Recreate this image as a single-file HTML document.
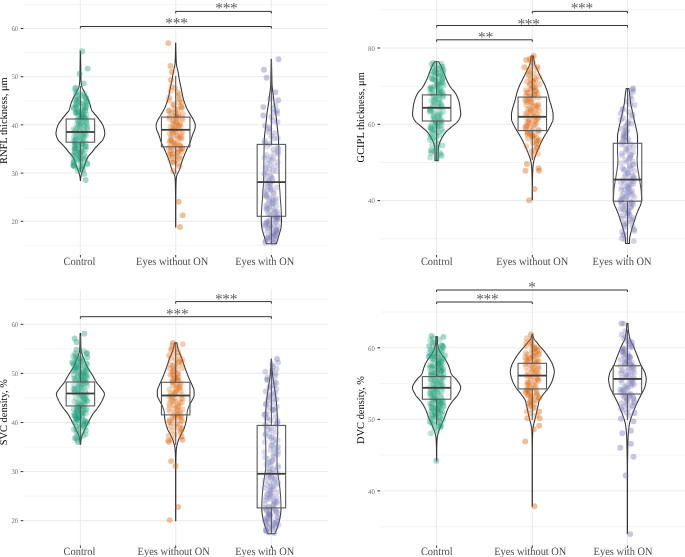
<!DOCTYPE html><html><head><meta charset="utf-8"><style>html,body{margin:0;padding:0;background:#fff;}body{width:685px;height:557px;overflow:hidden;}svg{display:block;}</style></head><body>
<svg width="685" height="557" viewBox="0 0 685 557">
<defs><filter id="soft" x="-5%" y="-5%" width="110%" height="110%"><feGaussianBlur stdDeviation="0.45"/></filter></defs>
<rect width="685" height="557" fill="#fff"/>
<line x1="23.3" y1="245.40" x2="328.6" y2="245.40" stroke="#ededed" stroke-width="0.6"/>
<line x1="23.3" y1="197.20" x2="328.6" y2="197.20" stroke="#ededed" stroke-width="0.6"/>
<line x1="23.3" y1="149.00" x2="328.6" y2="149.00" stroke="#ededed" stroke-width="0.6"/>
<line x1="23.3" y1="100.80" x2="328.6" y2="100.80" stroke="#ededed" stroke-width="0.6"/>
<line x1="23.3" y1="52.60" x2="328.6" y2="52.60" stroke="#ededed" stroke-width="0.6"/>
<line x1="23.3" y1="4.40" x2="328.6" y2="4.40" stroke="#ededed" stroke-width="0.6"/>
<line x1="23.3" y1="221.30" x2="328.6" y2="221.30" stroke="#e8e8e8" stroke-width="0.9"/>
<line x1="23.3" y1="173.10" x2="328.6" y2="173.10" stroke="#e8e8e8" stroke-width="0.9"/>
<line x1="23.3" y1="124.90" x2="328.6" y2="124.90" stroke="#e8e8e8" stroke-width="0.9"/>
<line x1="23.3" y1="76.70" x2="328.6" y2="76.70" stroke="#e8e8e8" stroke-width="0.9"/>
<line x1="23.3" y1="28.50" x2="328.6" y2="28.50" stroke="#e8e8e8" stroke-width="0.9"/>
<line x1="80.40" y1="0.0" x2="80.40" y2="255.0" stroke="#e8e8e8" stroke-width="0.9"/>
<line x1="175.70" y1="0.0" x2="175.70" y2="255.0" stroke="#e8e8e8" stroke-width="0.9"/>
<line x1="271.40" y1="0.0" x2="271.40" y2="255.0" stroke="#e8e8e8" stroke-width="0.9"/>
<line x1="20.7" y1="221.30" x2="23.3" y2="221.30" stroke="#333" stroke-width="1"/>
<text transform="translate(18.10,224.00) scale(0.960,1)" font-size="7.00" fill="#707070" text-anchor="end" text-rendering="geometricPrecision" font-family="Liberation Serif, serif">20</text>
<line x1="20.7" y1="173.10" x2="23.3" y2="173.10" stroke="#333" stroke-width="1"/>
<text transform="translate(18.10,175.80) scale(0.960,1)" font-size="7.00" fill="#707070" text-anchor="end" text-rendering="geometricPrecision" font-family="Liberation Serif, serif">30</text>
<line x1="20.7" y1="124.90" x2="23.3" y2="124.90" stroke="#333" stroke-width="1"/>
<text transform="translate(18.10,127.60) scale(0.960,1)" font-size="7.00" fill="#707070" text-anchor="end" text-rendering="geometricPrecision" font-family="Liberation Serif, serif">40</text>
<line x1="20.7" y1="76.70" x2="23.3" y2="76.70" stroke="#333" stroke-width="1"/>
<text transform="translate(18.10,79.40) scale(0.960,1)" font-size="7.00" fill="#707070" text-anchor="end" text-rendering="geometricPrecision" font-family="Liberation Serif, serif">50</text>
<line x1="20.7" y1="28.50" x2="23.3" y2="28.50" stroke="#333" stroke-width="1"/>
<text transform="translate(18.10,31.20) scale(0.960,1)" font-size="7.00" fill="#707070" text-anchor="end" text-rendering="geometricPrecision" font-family="Liberation Serif, serif">60</text>
<line x1="80.40" y1="255.0" x2="80.40" y2="257.4" stroke="#333" stroke-width="1"/>
<text transform="translate(79.50,265.10) scale(0.930,1)" font-size="11.20" fill="#4d4d4d" text-anchor="middle" text-rendering="geometricPrecision" font-family="Liberation Serif, serif">Control</text>
<line x1="175.70" y1="255.0" x2="175.70" y2="257.4" stroke="#333" stroke-width="1"/>
<text transform="translate(172.20,265.10) scale(0.930,1)" font-size="11.20" fill="#4d4d4d" text-anchor="middle" text-rendering="geometricPrecision" font-family="Liberation Serif, serif">Eyes without ON</text>
<line x1="271.40" y1="255.0" x2="271.40" y2="257.4" stroke="#333" stroke-width="1"/>
<text transform="translate(264.70,265.10) scale(0.930,1)" font-size="11.20" fill="#4d4d4d" text-anchor="middle" text-rendering="geometricPrecision" font-family="Liberation Serif, serif">Eyes with ON</text>
<text transform="translate(7.4,120.6) rotate(-90)" font-size="10.45" fill="#000" text-anchor="middle" text-rendering="geometricPrecision" font-family="Liberation Serif, serif">RNFL thickness, μm</text>
<path d="M80.30,51.30 L80.29,51.80 L80.29,52.30 L80.28,52.80 L80.27,53.30 L80.26,53.79 L80.26,54.29 L80.25,54.79 L80.24,55.29 L80.23,55.79 L80.23,56.29 L80.22,56.79 L80.21,57.29 L80.20,57.78 L80.19,58.28 L80.19,58.78 L80.18,59.28 L80.17,59.78 L80.16,60.28 L80.15,60.78 L80.15,61.28 L80.14,61.78 L80.13,62.27 L80.12,62.77 L80.11,63.27 L80.10,63.77 L80.10,64.27 L80.09,64.77 L80.08,65.27 L80.07,65.77 L80.06,66.27 L80.06,66.76 L80.05,67.26 L80.04,67.76 L80.04,68.26 L80.03,68.76 L80.02,69.26 L80.02,69.76 L80.01,70.26 L80.00,70.75 L79.99,71.25 L79.99,71.75 L79.98,72.25 L79.97,72.75 L79.96,73.25 L79.95,73.75 L79.95,74.25 L79.94,74.75 L79.93,75.24 L79.92,75.74 L79.90,76.24 L79.89,76.74 L79.88,77.24 L79.87,77.74 L79.85,78.24 L79.84,78.74 L79.82,79.24 L79.81,79.73 L79.79,80.23 L79.76,80.73 L79.73,81.23 L79.69,81.73 L79.64,82.23 L79.59,82.73 L79.54,83.23 L79.47,83.72 L79.41,84.22 L79.33,84.72 L79.25,85.22 L79.17,85.72 L79.08,86.22 L78.95,86.72 L78.80,87.22 L78.61,87.72 L78.41,88.21 L78.18,88.71 L77.93,89.21 L77.67,89.71 L77.40,90.21 L77.12,90.71 L76.84,91.21 L76.56,91.71 L76.31,92.21 L76.09,92.70 L75.85,93.20 L75.59,93.70 L75.32,94.20 L75.05,94.70 L74.77,95.20 L74.49,95.70 L74.21,96.20 L73.94,96.69 L73.69,97.19 L73.45,97.69 L73.22,98.19 L73.00,98.69 L72.78,99.19 L72.56,99.69 L72.35,100.19 L72.14,100.69 L71.94,101.18 L71.74,101.68 L71.55,102.18 L71.36,102.68 L71.18,103.18 L71.01,103.68 L70.84,104.18 L70.69,104.68 L70.56,105.17 L70.43,105.67 L70.31,106.17 L70.20,106.67 L70.08,107.17 L69.96,107.67 L69.83,108.17 L69.68,108.67 L69.52,109.17 L69.34,109.66 L69.13,110.16 L68.85,110.66 L68.51,111.16 L68.12,111.66 L67.69,112.16 L67.25,112.66 L66.81,113.16 L66.38,113.66 L65.98,114.15 L65.58,114.65 L65.17,115.15 L64.75,115.65 L64.34,116.15 L63.93,116.65 L63.52,117.15 L63.12,117.65 L62.74,118.14 L62.37,118.64 L62.00,119.14 L61.63,119.64 L61.24,120.14 L60.86,120.64 L60.48,121.14 L60.11,121.64 L59.75,122.14 L59.39,122.63 L59.06,123.13 L58.74,123.63 L58.44,124.13 L58.18,124.63 L57.94,125.13 L57.73,125.63 L57.56,126.13 L57.40,126.63 L57.24,127.12 L57.09,127.62 L56.94,128.12 L56.79,128.62 L56.66,129.12 L56.53,129.62 L56.41,130.12 L56.31,130.62 L56.22,131.11 L56.14,131.61 L56.08,132.11 L56.03,132.61 L56.01,133.11 L56.00,133.61 L56.03,134.11 L56.09,134.61 L56.18,135.11 L56.31,135.60 L56.45,136.10 L56.62,136.60 L56.80,137.10 L57.00,137.60 L57.21,138.10 L57.42,138.60 L57.64,139.10 L57.91,139.59 L58.25,140.09 L58.65,140.59 L59.08,141.09 L59.55,141.59 L60.04,142.09 L60.54,142.59 L61.04,143.09 L61.52,143.59 L61.98,144.08 L62.43,144.58 L62.90,145.08 L63.37,145.58 L63.85,146.08 L64.32,146.58 L64.79,147.08 L65.23,147.58 L65.66,148.08 L66.07,148.57 L66.46,149.07 L66.84,149.57 L67.21,150.07 L67.58,150.57 L67.96,151.07 L68.35,151.57 L68.75,152.07 L69.19,152.56 L69.65,153.06 L70.13,153.56 L70.61,154.06 L71.08,154.56 L71.53,155.06 L71.94,155.56 L72.31,156.06 L72.62,156.56 L72.91,157.05 L73.18,157.55 L73.44,158.05 L73.68,158.55 L73.91,159.05 L74.13,159.55 L74.34,160.05 L74.54,160.55 L74.73,161.05 L74.91,161.54 L75.09,162.04 L75.25,162.54 L75.42,163.04 L75.58,163.54 L75.75,164.04 L75.91,164.54 L76.07,165.04 L76.24,165.53 L76.40,166.03 L76.61,166.53 L76.82,167.03 L77.02,167.53 L77.23,168.03 L77.43,168.53 L77.63,169.03 L77.84,169.53 L78.04,170.02 L78.23,170.52 L78.42,171.02 L78.59,171.52 L78.76,172.02 L78.91,172.52 L79.06,173.02 L79.20,173.52 L79.33,174.02 L79.45,174.51 L79.58,175.01 L79.69,175.51 L79.80,176.01 L79.88,176.51 L79.96,177.01 L80.03,177.51 L80.11,178.01 L80.18,178.50 L80.24,179.00 L80.30,179.50 L80.30,180.00 L80.30,180.50 L80.50,180.50 L80.50,180.00 L80.50,179.50 L80.56,179.00 L80.62,178.50 L80.69,178.01 L80.77,177.51 L80.84,177.01 L80.92,176.51 L81.00,176.01 L81.11,175.51 L81.22,175.01 L81.35,174.51 L81.47,174.02 L81.60,173.52 L81.74,173.02 L81.89,172.52 L82.04,172.02 L82.21,171.52 L82.38,171.02 L82.57,170.52 L82.76,170.02 L82.96,169.53 L83.17,169.03 L83.37,168.53 L83.57,168.03 L83.78,167.53 L83.98,167.03 L84.19,166.53 L84.40,166.03 L84.56,165.53 L84.73,165.04 L84.89,164.54 L85.05,164.04 L85.22,163.54 L85.38,163.04 L85.55,162.54 L85.71,162.04 L85.89,161.54 L86.07,161.05 L86.26,160.55 L86.46,160.05 L86.67,159.55 L86.89,159.05 L87.12,158.55 L87.36,158.05 L87.62,157.55 L87.89,157.05 L88.18,156.56 L88.49,156.06 L88.86,155.56 L89.27,155.06 L89.72,154.56 L90.19,154.06 L90.67,153.56 L91.15,153.06 L91.61,152.56 L92.05,152.07 L92.45,151.57 L92.84,151.07 L93.22,150.57 L93.59,150.07 L93.96,149.57 L94.34,149.07 L94.73,148.57 L95.14,148.08 L95.57,147.58 L96.01,147.08 L96.48,146.58 L96.95,146.08 L97.43,145.58 L97.90,145.08 L98.37,144.58 L98.82,144.08 L99.28,143.59 L99.76,143.09 L100.26,142.59 L100.76,142.09 L101.25,141.59 L101.72,141.09 L102.15,140.59 L102.55,140.09 L102.89,139.59 L103.16,139.10 L103.38,138.60 L103.59,138.10 L103.80,137.60 L104.00,137.10 L104.18,136.60 L104.35,136.10 L104.49,135.60 L104.62,135.11 L104.71,134.61 L104.77,134.11 L104.80,133.61 L104.79,133.11 L104.77,132.61 L104.72,132.11 L104.66,131.61 L104.58,131.11 L104.49,130.62 L104.39,130.12 L104.27,129.62 L104.14,129.12 L104.01,128.62 L103.86,128.12 L103.71,127.62 L103.56,127.12 L103.40,126.63 L103.24,126.13 L103.07,125.63 L102.86,125.13 L102.62,124.63 L102.36,124.13 L102.06,123.63 L101.74,123.13 L101.41,122.63 L101.05,122.14 L100.69,121.64 L100.32,121.14 L99.94,120.64 L99.56,120.14 L99.17,119.64 L98.80,119.14 L98.43,118.64 L98.06,118.14 L97.68,117.65 L97.28,117.15 L96.87,116.65 L96.46,116.15 L96.05,115.65 L95.63,115.15 L95.22,114.65 L94.82,114.15 L94.42,113.66 L93.99,113.16 L93.55,112.66 L93.11,112.16 L92.68,111.66 L92.29,111.16 L91.95,110.66 L91.67,110.16 L91.46,109.66 L91.28,109.17 L91.12,108.67 L90.97,108.17 L90.84,107.67 L90.72,107.17 L90.60,106.67 L90.49,106.17 L90.37,105.67 L90.24,105.17 L90.11,104.68 L89.96,104.18 L89.79,103.68 L89.62,103.18 L89.44,102.68 L89.25,102.18 L89.06,101.68 L88.86,101.18 L88.66,100.69 L88.45,100.19 L88.24,99.69 L88.02,99.19 L87.80,98.69 L87.58,98.19 L87.35,97.69 L87.11,97.19 L86.86,96.69 L86.59,96.20 L86.31,95.70 L86.03,95.20 L85.75,94.70 L85.48,94.20 L85.21,93.70 L84.95,93.20 L84.71,92.70 L84.49,92.21 L84.24,91.71 L83.96,91.21 L83.68,90.71 L83.40,90.21 L83.13,89.71 L82.87,89.21 L82.62,88.71 L82.39,88.21 L82.19,87.72 L82.00,87.22 L81.85,86.72 L81.72,86.22 L81.63,85.72 L81.55,85.22 L81.47,84.72 L81.39,84.22 L81.33,83.72 L81.26,83.23 L81.21,82.73 L81.16,82.23 L81.11,81.73 L81.07,81.23 L81.04,80.73 L81.01,80.23 L80.99,79.73 L80.98,79.24 L80.96,78.74 L80.95,78.24 L80.93,77.74 L80.92,77.24 L80.91,76.74 L80.90,76.24 L80.88,75.74 L80.87,75.24 L80.86,74.75 L80.85,74.25 L80.85,73.75 L80.84,73.25 L80.83,72.75 L80.82,72.25 L80.81,71.75 L80.81,71.25 L80.80,70.75 L80.79,70.26 L80.78,69.76 L80.78,69.26 L80.77,68.76 L80.76,68.26 L80.76,67.76 L80.75,67.26 L80.74,66.76 L80.74,66.27 L80.73,65.77 L80.72,65.27 L80.71,64.77 L80.70,64.27 L80.70,63.77 L80.69,63.27 L80.68,62.77 L80.67,62.27 L80.66,61.78 L80.65,61.28 L80.65,60.78 L80.64,60.28 L80.63,59.78 L80.62,59.28 L80.61,58.78 L80.61,58.28 L80.60,57.78 L80.59,57.29 L80.58,56.79 L80.57,56.29 L80.57,55.79 L80.56,55.29 L80.55,54.79 L80.54,54.29 L80.54,53.79 L80.53,53.30 L80.52,52.80 L80.51,52.30 L80.51,51.80 L80.50,51.30 Z" fill="none" stroke="#333" stroke-width="1.05" stroke-linejoin="round"/>
<path d="M175.60,43.10 L175.60,43.81 L175.59,44.52 L175.59,45.23 L175.58,45.94 L175.57,46.65 L175.56,47.36 L175.55,48.07 L175.54,48.78 L175.53,49.49 L175.51,50.20 L175.50,50.91 L175.48,51.62 L175.47,52.33 L175.45,53.04 L175.43,53.74 L175.41,54.45 L175.40,55.16 L175.38,55.87 L175.36,56.58 L175.33,57.29 L175.31,58.00 L175.28,58.71 L175.25,59.42 L175.22,60.13 L175.19,60.84 L175.15,61.55 L175.11,62.26 L175.06,62.97 L174.99,63.68 L174.92,64.39 L174.83,65.10 L174.71,65.81 L174.57,66.52 L174.42,67.23 L174.25,67.94 L174.08,68.65 L173.91,69.36 L173.74,70.07 L173.58,70.78 L173.43,71.49 L173.30,72.20 L173.17,72.91 L173.05,73.62 L172.94,74.32 L172.83,75.03 L172.71,75.74 L172.60,76.45 L172.49,77.16 L172.37,77.87 L172.25,78.58 L172.11,79.29 L171.97,80.00 L171.82,80.71 L171.66,81.42 L171.53,82.13 L171.39,82.84 L171.25,83.55 L171.10,84.26 L170.95,84.97 L170.80,85.68 L170.65,86.39 L170.50,87.10 L170.34,87.81 L170.20,88.52 L170.05,89.23 L169.92,89.94 L169.78,90.65 L169.65,91.36 L169.52,92.07 L169.39,92.78 L169.26,93.49 L169.13,94.19 L168.99,94.90 L168.85,95.61 L168.69,96.32 L168.53,97.03 L168.36,97.74 L168.18,98.45 L167.99,99.16 L167.79,99.87 L167.57,100.58 L167.35,101.29 L167.11,102.00 L166.87,102.71 L166.61,103.42 L166.35,104.13 L166.08,104.84 L165.80,105.55 L165.51,106.26 L165.21,106.97 L164.90,107.68 L164.56,108.39 L164.20,109.10 L163.83,109.81 L163.43,110.52 L163.03,111.23 L162.62,111.94 L162.20,112.65 L161.78,113.36 L161.36,114.07 L160.94,114.77 L160.53,115.48 L160.13,116.19 L159.70,116.90 L159.26,117.61 L158.81,118.32 L158.38,119.03 L157.98,119.74 L157.63,120.45 L157.34,121.16 L157.06,121.87 L156.78,122.58 L156.52,123.29 L156.31,124.00 L156.16,124.71 L156.10,125.42 L156.12,126.13 L156.18,126.84 L156.26,127.55 L156.37,128.26 L156.49,128.97 L156.66,129.68 L156.91,130.39 L157.21,131.10 L157.55,131.81 L157.89,132.52 L158.22,133.23 L158.51,133.94 L158.77,134.65 L159.02,135.35 L159.25,136.06 L159.48,136.77 L159.71,137.48 L159.93,138.19 L160.16,138.90 L160.39,139.61 L160.62,140.32 L160.86,141.03 L161.11,141.74 L161.37,142.45 L161.64,143.16 L161.93,143.87 L162.24,144.58 L162.56,145.29 L162.89,146.00 L163.22,146.71 L163.56,147.42 L163.91,148.13 L164.25,148.84 L164.58,149.55 L164.91,150.26 L165.24,150.97 L165.55,151.68 L165.85,152.39 L166.15,153.10 L166.45,153.81 L166.75,154.52 L167.05,155.23 L167.34,155.93 L167.63,156.64 L167.92,157.35 L168.20,158.06 L168.47,158.77 L168.73,159.48 L168.99,160.19 L169.23,160.90 L169.47,161.61 L169.70,162.32 L169.92,163.03 L170.14,163.74 L170.35,164.45 L170.55,165.16 L170.76,165.87 L170.96,166.58 L171.16,167.29 L171.37,168.00 L171.58,168.71 L171.82,169.42 L172.11,170.13 L172.44,170.84 L172.79,171.55 L173.15,172.26 L173.52,172.97 L173.87,173.68 L174.19,174.39 L174.48,175.10 L174.71,175.81 L174.89,176.51 L174.99,177.22 L175.07,177.93 L175.13,178.64 L175.17,179.35 L175.22,180.06 L175.25,180.77 L175.29,181.48 L175.32,182.19 L175.34,182.90 L175.36,183.61 L175.38,184.32 L175.40,185.03 L175.42,185.74 L175.43,186.45 L175.45,187.16 L175.46,187.87 L175.47,188.58 L175.48,189.29 L175.49,190.00 L175.51,190.71 L175.52,191.42 L175.53,192.13 L175.53,192.84 L175.54,193.55 L175.55,194.26 L175.56,194.97 L175.57,195.68 L175.57,196.38 L175.58,197.09 L175.58,197.80 L175.59,198.51 L175.60,199.22 L175.60,199.93 L175.60,200.64 L175.60,201.35 L175.60,202.06 L175.60,202.77 L175.60,203.48 L175.60,204.19 L175.60,204.90 L175.60,205.61 L175.60,206.32 L175.60,207.03 L175.60,207.74 L175.60,208.45 L175.60,209.16 L175.60,209.87 L175.60,210.58 L175.60,211.29 L175.60,212.00 L175.60,212.71 L175.60,213.42 L175.60,214.13 L175.60,214.84 L175.60,215.55 L175.60,216.26 L175.60,216.96 L175.60,217.67 L175.60,218.38 L175.60,219.09 L175.60,219.80 L175.60,220.51 L175.60,221.22 L175.60,221.93 L175.60,222.64 L175.60,223.35 L175.60,224.06 L175.60,224.77 L175.60,225.48 L175.60,226.19 L175.60,226.90 L175.80,226.90 L175.80,226.19 L175.80,225.48 L175.80,224.77 L175.80,224.06 L175.80,223.35 L175.80,222.64 L175.80,221.93 L175.80,221.22 L175.80,220.51 L175.80,219.80 L175.80,219.09 L175.80,218.38 L175.80,217.67 L175.80,216.96 L175.80,216.26 L175.80,215.55 L175.80,214.84 L175.80,214.13 L175.80,213.42 L175.80,212.71 L175.80,212.00 L175.80,211.29 L175.80,210.58 L175.80,209.87 L175.80,209.16 L175.80,208.45 L175.80,207.74 L175.80,207.03 L175.80,206.32 L175.80,205.61 L175.80,204.90 L175.80,204.19 L175.80,203.48 L175.80,202.77 L175.80,202.06 L175.80,201.35 L175.80,200.64 L175.80,199.93 L175.80,199.22 L175.81,198.51 L175.82,197.80 L175.82,197.09 L175.83,196.38 L175.83,195.68 L175.84,194.97 L175.85,194.26 L175.86,193.55 L175.87,192.84 L175.87,192.13 L175.88,191.42 L175.89,190.71 L175.91,190.00 L175.92,189.29 L175.93,188.58 L175.94,187.87 L175.95,187.16 L175.97,186.45 L175.98,185.74 L176.00,185.03 L176.02,184.32 L176.04,183.61 L176.06,182.90 L176.08,182.19 L176.11,181.48 L176.15,180.77 L176.18,180.06 L176.23,179.35 L176.27,178.64 L176.33,177.93 L176.41,177.22 L176.51,176.51 L176.69,175.81 L176.92,175.10 L177.21,174.39 L177.53,173.68 L177.88,172.97 L178.25,172.26 L178.61,171.55 L178.96,170.84 L179.29,170.13 L179.58,169.42 L179.82,168.71 L180.03,168.00 L180.24,167.29 L180.44,166.58 L180.64,165.87 L180.85,165.16 L181.05,164.45 L181.26,163.74 L181.48,163.03 L181.70,162.32 L181.93,161.61 L182.17,160.90 L182.41,160.19 L182.67,159.48 L182.93,158.77 L183.20,158.06 L183.48,157.35 L183.77,156.64 L184.06,155.93 L184.35,155.23 L184.65,154.52 L184.95,153.81 L185.25,153.10 L185.55,152.39 L185.85,151.68 L186.16,150.97 L186.49,150.26 L186.82,149.55 L187.15,148.84 L187.49,148.13 L187.84,147.42 L188.18,146.71 L188.51,146.00 L188.84,145.29 L189.16,144.58 L189.47,143.87 L189.76,143.16 L190.03,142.45 L190.29,141.74 L190.54,141.03 L190.78,140.32 L191.01,139.61 L191.24,138.90 L191.47,138.19 L191.69,137.48 L191.92,136.77 L192.15,136.06 L192.38,135.35 L192.63,134.65 L192.89,133.94 L193.18,133.23 L193.51,132.52 L193.85,131.81 L194.19,131.10 L194.49,130.39 L194.74,129.68 L194.91,128.97 L195.03,128.26 L195.14,127.55 L195.22,126.84 L195.28,126.13 L195.30,125.42 L195.24,124.71 L195.09,124.00 L194.88,123.29 L194.62,122.58 L194.34,121.87 L194.06,121.16 L193.77,120.45 L193.42,119.74 L193.02,119.03 L192.59,118.32 L192.14,117.61 L191.70,116.90 L191.27,116.19 L190.87,115.48 L190.46,114.77 L190.04,114.07 L189.62,113.36 L189.20,112.65 L188.78,111.94 L188.37,111.23 L187.97,110.52 L187.57,109.81 L187.20,109.10 L186.84,108.39 L186.50,107.68 L186.19,106.97 L185.89,106.26 L185.60,105.55 L185.32,104.84 L185.05,104.13 L184.79,103.42 L184.53,102.71 L184.29,102.00 L184.05,101.29 L183.83,100.58 L183.61,99.87 L183.41,99.16 L183.22,98.45 L183.04,97.74 L182.87,97.03 L182.71,96.32 L182.55,95.61 L182.41,94.90 L182.27,94.19 L182.14,93.49 L182.01,92.78 L181.88,92.07 L181.75,91.36 L181.62,90.65 L181.48,89.94 L181.35,89.23 L181.20,88.52 L181.06,87.81 L180.90,87.10 L180.75,86.39 L180.60,85.68 L180.45,84.97 L180.30,84.26 L180.15,83.55 L180.01,82.84 L179.87,82.13 L179.74,81.42 L179.58,80.71 L179.43,80.00 L179.29,79.29 L179.15,78.58 L179.03,77.87 L178.91,77.16 L178.80,76.45 L178.69,75.74 L178.57,75.03 L178.46,74.32 L178.35,73.62 L178.23,72.91 L178.10,72.20 L177.97,71.49 L177.82,70.78 L177.66,70.07 L177.49,69.36 L177.32,68.65 L177.15,67.94 L176.98,67.23 L176.83,66.52 L176.69,65.81 L176.57,65.10 L176.48,64.39 L176.41,63.68 L176.34,62.97 L176.29,62.26 L176.25,61.55 L176.21,60.84 L176.18,60.13 L176.15,59.42 L176.12,58.71 L176.09,58.00 L176.07,57.29 L176.04,56.58 L176.02,55.87 L176.00,55.16 L175.99,54.45 L175.97,53.74 L175.95,53.04 L175.93,52.33 L175.92,51.62 L175.90,50.91 L175.89,50.20 L175.87,49.49 L175.86,48.78 L175.85,48.07 L175.84,47.36 L175.83,46.65 L175.82,45.94 L175.81,45.23 L175.81,44.52 L175.80,43.81 L175.80,43.10 Z" fill="none" stroke="#333" stroke-width="1.05" stroke-linejoin="round"/>
<path d="M271.30,59.30 L271.29,60.01 L271.28,60.72 L271.26,61.44 L271.25,62.15 L271.24,62.86 L271.23,63.57 L271.21,64.29 L271.20,65.00 L271.19,65.71 L271.17,66.42 L271.16,67.14 L271.14,67.85 L271.13,68.56 L271.12,69.27 L271.10,69.99 L271.09,70.70 L271.07,71.41 L271.06,72.12 L271.04,72.83 L271.03,73.55 L271.02,74.26 L271.00,74.97 L270.99,75.68 L270.97,76.40 L270.96,77.11 L270.94,77.82 L270.93,78.53 L270.91,79.25 L270.89,79.96 L270.87,80.67 L270.85,81.38 L270.83,82.10 L270.81,82.81 L270.78,83.52 L270.75,84.23 L270.72,84.94 L270.68,85.66 L270.63,86.37 L270.58,87.08 L270.51,87.79 L270.44,88.51 L270.35,89.22 L270.26,89.93 L270.17,90.64 L270.07,91.36 L269.97,92.07 L269.87,92.78 L269.77,93.49 L269.68,94.21 L269.59,94.92 L269.50,95.63 L269.42,96.34 L269.33,97.05 L269.25,97.77 L269.17,98.48 L269.09,99.19 L269.00,99.90 L268.92,100.62 L268.83,101.33 L268.74,102.04 L268.65,102.75 L268.55,103.47 L268.45,104.18 L268.34,104.89 L268.23,105.60 L268.11,106.32 L267.99,107.03 L267.86,107.74 L267.74,108.45 L267.61,109.16 L267.49,109.88 L267.37,110.59 L267.28,111.30 L267.20,112.01 L267.11,112.73 L267.03,113.44 L266.95,114.15 L266.87,114.86 L266.79,115.58 L266.71,116.29 L266.63,117.00 L266.55,117.71 L266.47,118.43 L266.39,119.14 L266.32,119.85 L266.24,120.56 L266.16,121.27 L266.08,121.99 L266.00,122.70 L265.92,123.41 L265.84,124.12 L265.76,124.84 L265.68,125.55 L265.60,126.26 L265.52,126.97 L265.44,127.69 L265.37,128.40 L265.29,129.11 L265.22,129.82 L265.15,130.54 L265.07,131.25 L264.99,131.96 L264.91,132.67 L264.83,133.38 L264.76,134.10 L264.68,134.81 L264.61,135.52 L264.54,136.23 L264.48,136.95 L264.42,137.66 L264.37,138.37 L264.33,139.08 L264.30,139.80 L264.28,140.51 L264.25,141.22 L264.23,141.93 L264.21,142.65 L264.19,143.36 L264.17,144.07 L264.15,144.78 L264.14,145.49 L264.12,146.21 L264.11,146.92 L264.09,147.63 L264.08,148.34 L264.07,149.06 L264.05,149.77 L264.04,150.48 L264.03,151.19 L264.02,151.91 L264.01,152.62 L264.00,153.33 L263.99,154.04 L263.98,154.76 L263.97,155.47 L263.96,156.18 L263.95,156.89 L263.94,157.61 L263.93,158.32 L263.92,159.03 L263.90,159.74 L263.89,160.45 L263.88,161.17 L263.87,161.88 L263.86,162.59 L263.85,163.30 L263.85,164.02 L263.84,164.73 L263.83,165.44 L263.82,166.15 L263.82,166.87 L263.81,167.58 L263.80,168.29 L263.80,169.00 L263.79,169.72 L263.78,170.43 L263.78,171.14 L263.77,171.85 L263.76,172.56 L263.75,173.28 L263.74,173.99 L263.74,174.70 L263.73,175.41 L263.72,176.13 L263.70,176.84 L263.69,177.55 L263.68,178.26 L263.67,178.98 L263.65,179.69 L263.64,180.40 L263.62,181.11 L263.60,181.83 L263.58,182.54 L263.55,183.25 L263.51,183.96 L263.45,184.67 L263.40,185.39 L263.33,186.10 L263.27,186.81 L263.21,187.52 L263.14,188.24 L263.08,188.95 L263.02,189.66 L262.97,190.37 L262.93,191.09 L262.88,191.80 L262.83,192.51 L262.79,193.22 L262.74,193.94 L262.70,194.65 L262.66,195.36 L262.61,196.07 L262.57,196.78 L262.52,197.50 L262.47,198.21 L262.43,198.92 L262.38,199.63 L262.32,200.35 L262.27,201.06 L262.21,201.77 L262.15,202.48 L262.09,203.20 L262.03,203.91 L261.97,204.62 L261.91,205.33 L261.86,206.05 L261.80,206.76 L261.75,207.47 L261.70,208.18 L261.66,208.89 L261.62,209.61 L261.59,210.32 L261.55,211.03 L261.52,211.74 L261.49,212.46 L261.45,213.17 L261.42,213.88 L261.40,214.59 L261.37,215.31 L261.35,216.02 L261.33,216.73 L261.31,217.44 L261.30,218.16 L261.30,218.87 L261.30,219.58 L261.31,220.29 L261.33,221.00 L261.35,221.72 L261.38,222.43 L261.42,223.14 L261.46,223.85 L261.50,224.57 L261.55,225.28 L261.60,225.99 L261.67,226.70 L261.79,227.42 L261.93,228.13 L262.09,228.84 L262.26,229.55 L262.44,230.27 L262.62,230.98 L262.80,231.69 L263.00,232.40 L263.20,233.11 L263.42,233.83 L263.64,234.54 L263.86,235.25 L264.09,235.96 L264.30,236.68 L264.51,237.39 L264.72,238.10 L264.93,238.81 L265.14,239.53 L265.35,240.24 L265.56,240.95 L265.77,241.66 L265.98,242.38 L266.19,243.09 L266.40,243.80 L276.40,243.80 L276.61,243.09 L276.82,242.38 L277.03,241.66 L277.24,240.95 L277.45,240.24 L277.66,239.53 L277.87,238.81 L278.08,238.10 L278.29,237.39 L278.50,236.68 L278.71,235.96 L278.94,235.25 L279.16,234.54 L279.38,233.83 L279.60,233.11 L279.80,232.40 L280.00,231.69 L280.18,230.98 L280.36,230.27 L280.54,229.55 L280.71,228.84 L280.87,228.13 L281.01,227.42 L281.13,226.70 L281.20,225.99 L281.25,225.28 L281.30,224.57 L281.34,223.85 L281.38,223.14 L281.42,222.43 L281.45,221.72 L281.47,221.00 L281.49,220.29 L281.50,219.58 L281.50,218.87 L281.50,218.16 L281.49,217.44 L281.47,216.73 L281.45,216.02 L281.43,215.31 L281.40,214.59 L281.38,213.88 L281.35,213.17 L281.31,212.46 L281.28,211.74 L281.25,211.03 L281.21,210.32 L281.18,209.61 L281.14,208.89 L281.10,208.18 L281.05,207.47 L281.00,206.76 L280.94,206.05 L280.89,205.33 L280.83,204.62 L280.77,203.91 L280.71,203.20 L280.65,202.48 L280.59,201.77 L280.53,201.06 L280.48,200.35 L280.42,199.63 L280.37,198.92 L280.33,198.21 L280.28,197.50 L280.23,196.78 L280.19,196.07 L280.14,195.36 L280.10,194.65 L280.06,193.94 L280.01,193.22 L279.97,192.51 L279.92,191.80 L279.87,191.09 L279.83,190.37 L279.78,189.66 L279.72,188.95 L279.66,188.24 L279.59,187.52 L279.53,186.81 L279.47,186.10 L279.40,185.39 L279.35,184.67 L279.29,183.96 L279.25,183.25 L279.22,182.54 L279.20,181.83 L279.18,181.11 L279.16,180.40 L279.15,179.69 L279.13,178.98 L279.12,178.26 L279.11,177.55 L279.10,176.84 L279.08,176.13 L279.07,175.41 L279.06,174.70 L279.06,173.99 L279.05,173.28 L279.04,172.56 L279.03,171.85 L279.02,171.14 L279.02,170.43 L279.01,169.72 L279.00,169.00 L279.00,168.29 L278.99,167.58 L278.98,166.87 L278.98,166.15 L278.97,165.44 L278.96,164.73 L278.95,164.02 L278.95,163.30 L278.94,162.59 L278.93,161.88 L278.92,161.17 L278.91,160.45 L278.90,159.74 L278.88,159.03 L278.87,158.32 L278.86,157.61 L278.85,156.89 L278.84,156.18 L278.83,155.47 L278.82,154.76 L278.81,154.04 L278.80,153.33 L278.79,152.62 L278.78,151.91 L278.77,151.19 L278.76,150.48 L278.75,149.77 L278.73,149.06 L278.72,148.34 L278.71,147.63 L278.69,146.92 L278.68,146.21 L278.66,145.49 L278.65,144.78 L278.63,144.07 L278.61,143.36 L278.59,142.65 L278.57,141.93 L278.55,141.22 L278.52,140.51 L278.50,139.80 L278.47,139.08 L278.43,138.37 L278.38,137.66 L278.32,136.95 L278.26,136.23 L278.19,135.52 L278.12,134.81 L278.04,134.10 L277.97,133.38 L277.89,132.67 L277.81,131.96 L277.73,131.25 L277.65,130.54 L277.58,129.82 L277.51,129.11 L277.43,128.40 L277.36,127.69 L277.28,126.97 L277.20,126.26 L277.12,125.55 L277.04,124.84 L276.96,124.12 L276.88,123.41 L276.80,122.70 L276.72,121.99 L276.64,121.27 L276.56,120.56 L276.48,119.85 L276.41,119.14 L276.33,118.43 L276.25,117.71 L276.17,117.00 L276.09,116.29 L276.01,115.58 L275.93,114.86 L275.85,114.15 L275.77,113.44 L275.69,112.73 L275.60,112.01 L275.52,111.30 L275.43,110.59 L275.31,109.88 L275.19,109.16 L275.06,108.45 L274.94,107.74 L274.81,107.03 L274.69,106.32 L274.57,105.60 L274.46,104.89 L274.35,104.18 L274.25,103.47 L274.15,102.75 L274.06,102.04 L273.97,101.33 L273.88,100.62 L273.80,99.90 L273.71,99.19 L273.63,98.48 L273.55,97.77 L273.47,97.05 L273.38,96.34 L273.30,95.63 L273.21,94.92 L273.12,94.21 L273.03,93.49 L272.93,92.78 L272.83,92.07 L272.73,91.36 L272.63,90.64 L272.54,89.93 L272.45,89.22 L272.36,88.51 L272.29,87.79 L272.22,87.08 L272.17,86.37 L272.12,85.66 L272.08,84.94 L272.05,84.23 L272.02,83.52 L271.99,82.81 L271.97,82.10 L271.95,81.38 L271.93,80.67 L271.91,79.96 L271.89,79.25 L271.87,78.53 L271.86,77.82 L271.84,77.11 L271.83,76.40 L271.81,75.68 L271.80,74.97 L271.78,74.26 L271.77,73.55 L271.76,72.83 L271.74,72.12 L271.73,71.41 L271.71,70.70 L271.70,69.99 L271.68,69.27 L271.67,68.56 L271.66,67.85 L271.64,67.14 L271.63,66.42 L271.61,65.71 L271.60,65.00 L271.59,64.29 L271.57,63.57 L271.56,62.86 L271.55,62.15 L271.54,61.44 L271.52,60.72 L271.51,60.01 L271.50,59.30 Z" fill="none" stroke="#333" stroke-width="1.05" stroke-linejoin="round"/>
<g fill="#1b9e77" fill-opacity="0.30" filter="url(#soft)">
<circle cx="74.8" cy="89.0" r="2.95"/>
<circle cx="77.0" cy="91.6" r="2.95"/>
<circle cx="75.7" cy="92.7" r="2.95"/>
<circle cx="84.2" cy="93.1" r="2.95"/>
<circle cx="80.5" cy="94.1" r="2.95"/>
<circle cx="76.3" cy="95.5" r="2.95"/>
<circle cx="84.0" cy="95.6" r="2.95"/>
<circle cx="78.2" cy="96.3" r="2.95"/>
<circle cx="84.6" cy="97.4" r="2.95"/>
<circle cx="85.7" cy="97.8" r="2.95"/>
<circle cx="86.2" cy="98.3" r="2.95"/>
<circle cx="79.4" cy="98.9" r="2.95"/>
<circle cx="78.0" cy="99.5" r="2.95"/>
<circle cx="76.4" cy="99.8" r="2.95"/>
<circle cx="74.8" cy="100.3" r="2.95"/>
<circle cx="86.7" cy="101.1" r="2.95"/>
<circle cx="76.8" cy="101.5" r="2.95"/>
<circle cx="87.4" cy="101.9" r="2.95"/>
<circle cx="86.1" cy="102.6" r="2.95"/>
<circle cx="79.0" cy="102.9" r="2.95"/>
<circle cx="81.7" cy="103.6" r="2.95"/>
<circle cx="82.6" cy="103.7" r="2.95"/>
<circle cx="75.5" cy="104.4" r="2.95"/>
<circle cx="76.1" cy="104.8" r="2.95"/>
<circle cx="86.9" cy="105.2" r="2.95"/>
<circle cx="78.7" cy="105.8" r="2.95"/>
<circle cx="84.7" cy="106.1" r="2.95"/>
<circle cx="76.0" cy="106.9" r="2.95"/>
<circle cx="73.6" cy="107.4" r="2.95"/>
<circle cx="86.5" cy="107.5" r="2.95"/>
<circle cx="85.2" cy="108.1" r="2.95"/>
<circle cx="76.5" cy="108.5" r="2.95"/>
<circle cx="73.9" cy="108.8" r="2.95"/>
<circle cx="82.3" cy="109.7" r="2.95"/>
<circle cx="82.8" cy="109.9" r="2.95"/>
<circle cx="84.9" cy="110.2" r="2.95"/>
<circle cx="85.2" cy="110.9" r="2.95"/>
<circle cx="77.9" cy="111.1" r="2.95"/>
<circle cx="80.1" cy="111.9" r="2.95"/>
<circle cx="77.5" cy="112.0" r="2.95"/>
<circle cx="75.6" cy="112.4" r="2.95"/>
<circle cx="75.9" cy="112.9" r="2.95"/>
<circle cx="77.3" cy="113.4" r="2.95"/>
<circle cx="82.0" cy="113.9" r="2.95"/>
<circle cx="86.4" cy="114.5" r="2.95"/>
<circle cx="83.5" cy="114.8" r="2.95"/>
<circle cx="81.9" cy="115.1" r="2.95"/>
<circle cx="83.9" cy="115.4" r="2.95"/>
<circle cx="78.4" cy="115.9" r="2.95"/>
<circle cx="82.4" cy="116.7" r="2.95"/>
<circle cx="81.1" cy="116.9" r="2.95"/>
<circle cx="81.0" cy="117.4" r="2.95"/>
<circle cx="81.3" cy="117.6" r="2.95"/>
<circle cx="85.0" cy="118.0" r="2.95"/>
<circle cx="86.7" cy="118.8" r="2.95"/>
<circle cx="81.5" cy="119.1" r="2.95"/>
<circle cx="84.8" cy="119.4" r="2.95"/>
<circle cx="77.2" cy="119.8" r="2.95"/>
<circle cx="79.8" cy="120.1" r="2.95"/>
<circle cx="78.3" cy="120.6" r="2.95"/>
<circle cx="86.0" cy="121.0" r="2.95"/>
<circle cx="83.1" cy="121.7" r="2.95"/>
<circle cx="86.2" cy="122.0" r="2.95"/>
<circle cx="78.6" cy="122.3" r="2.95"/>
<circle cx="80.8" cy="123.0" r="2.95"/>
<circle cx="86.9" cy="123.2" r="2.95"/>
<circle cx="81.4" cy="123.5" r="2.95"/>
<circle cx="77.0" cy="124.2" r="2.95"/>
<circle cx="79.6" cy="124.8" r="2.95"/>
<circle cx="78.9" cy="124.8" r="2.95"/>
<circle cx="84.3" cy="125.6" r="2.95"/>
<circle cx="86.5" cy="125.7" r="2.95"/>
<circle cx="83.7" cy="126.1" r="2.95"/>
<circle cx="80.0" cy="126.5" r="2.95"/>
<circle cx="77.6" cy="127.1" r="2.95"/>
<circle cx="87.2" cy="127.7" r="2.95"/>
<circle cx="87.0" cy="128.0" r="2.95"/>
<circle cx="76.2" cy="128.6" r="2.95"/>
<circle cx="80.0" cy="128.7" r="2.95"/>
<circle cx="73.5" cy="129.2" r="2.95"/>
<circle cx="83.3" cy="129.6" r="2.95"/>
<circle cx="87.2" cy="130.4" r="2.95"/>
<circle cx="75.0" cy="130.8" r="2.95"/>
<circle cx="79.8" cy="130.9" r="2.95"/>
<circle cx="83.7" cy="131.4" r="2.95"/>
<circle cx="78.8" cy="131.8" r="2.95"/>
<circle cx="74.0" cy="132.4" r="2.95"/>
<circle cx="84.4" cy="132.5" r="2.95"/>
<circle cx="76.9" cy="133.0" r="2.95"/>
<circle cx="85.6" cy="133.5" r="2.95"/>
<circle cx="79.1" cy="133.9" r="2.95"/>
<circle cx="81.8" cy="134.6" r="2.95"/>
<circle cx="83.4" cy="135.0" r="2.95"/>
<circle cx="81.9" cy="135.3" r="2.95"/>
<circle cx="85.9" cy="135.8" r="2.95"/>
<circle cx="75.8" cy="136.2" r="2.95"/>
<circle cx="84.4" cy="136.7" r="2.95"/>
<circle cx="83.5" cy="137.2" r="2.95"/>
<circle cx="74.0" cy="137.3" r="2.95"/>
<circle cx="79.3" cy="137.9" r="2.95"/>
<circle cx="76.3" cy="138.1" r="2.95"/>
<circle cx="77.4" cy="138.7" r="2.95"/>
<circle cx="81.2" cy="139.2" r="2.95"/>
<circle cx="75.5" cy="139.7" r="2.95"/>
<circle cx="80.6" cy="140.1" r="2.95"/>
<circle cx="74.1" cy="140.2" r="2.95"/>
<circle cx="83.0" cy="140.8" r="2.95"/>
<circle cx="83.1" cy="141.1" r="2.95"/>
<circle cx="74.6" cy="141.9" r="2.95"/>
<circle cx="74.2" cy="142.0" r="2.95"/>
<circle cx="85.8" cy="142.4" r="2.95"/>
<circle cx="82.1" cy="142.9" r="2.95"/>
<circle cx="76.6" cy="143.2" r="2.95"/>
<circle cx="75.3" cy="144.0" r="2.95"/>
<circle cx="82.3" cy="144.3" r="2.95"/>
<circle cx="81.5" cy="144.5" r="2.95"/>
<circle cx="78.6" cy="145.1" r="2.95"/>
<circle cx="76.7" cy="145.4" r="2.95"/>
<circle cx="85.4" cy="146.0" r="2.95"/>
<circle cx="74.4" cy="146.3" r="2.95"/>
<circle cx="86.3" cy="146.6" r="2.95"/>
<circle cx="84.6" cy="147.1" r="2.95"/>
<circle cx="74.9" cy="147.8" r="2.95"/>
<circle cx="75.3" cy="148.2" r="2.95"/>
<circle cx="79.4" cy="148.5" r="2.95"/>
<circle cx="74.5" cy="149.1" r="2.95"/>
<circle cx="85.4" cy="149.5" r="2.95"/>
<circle cx="78.1" cy="149.8" r="2.95"/>
<circle cx="81.0" cy="150.4" r="2.95"/>
<circle cx="75.2" cy="150.9" r="2.95"/>
<circle cx="74.6" cy="151.6" r="2.95"/>
<circle cx="82.7" cy="151.7" r="2.95"/>
<circle cx="80.5" cy="152.1" r="2.95"/>
<circle cx="79.2" cy="152.8" r="2.95"/>
<circle cx="80.4" cy="153.5" r="2.95"/>
<circle cx="77.1" cy="153.9" r="2.95"/>
<circle cx="84.1" cy="154.3" r="2.95"/>
<circle cx="73.7" cy="154.5" r="2.95"/>
<circle cx="79.7" cy="155.4" r="2.95"/>
<circle cx="75.1" cy="155.8" r="2.95"/>
<circle cx="73.3" cy="156.0" r="2.95"/>
<circle cx="78.3" cy="156.7" r="2.95"/>
<circle cx="85.5" cy="157.0" r="2.95"/>
<circle cx="79.6" cy="157.9" r="2.95"/>
<circle cx="80.8" cy="158.4" r="2.95"/>
<circle cx="83.8" cy="158.9" r="2.95"/>
<circle cx="77.6" cy="159.4" r="2.95"/>
<circle cx="85.1" cy="159.7" r="2.95"/>
<circle cx="80.2" cy="160.5" r="2.95"/>
<circle cx="73.8" cy="160.8" r="2.95"/>
<circle cx="74.3" cy="161.3" r="2.95"/>
<circle cx="80.4" cy="162.1" r="2.95"/>
<circle cx="73.4" cy="162.8" r="2.95"/>
<circle cx="87.1" cy="163.3" r="2.95"/>
<circle cx="87.4" cy="164.3" r="2.95"/>
<circle cx="82.5" cy="165.1" r="2.95"/>
<circle cx="82.9" cy="165.6" r="2.95"/>
<circle cx="81.7" cy="166.9" r="2.95"/>
<circle cx="77.8" cy="167.8" r="2.95"/>
<circle cx="83.2" cy="169.7" r="2.95"/>
<circle cx="77.7" cy="170.8" r="2.95"/>
<circle cx="82.1" cy="51.3" r="2.95" fill-opacity="0.40"/>
<circle cx="87.7" cy="68.6" r="2.95" fill-opacity="0.40"/>
<circle cx="79.6" cy="73.7" r="2.95" fill-opacity="0.40"/>
<circle cx="83.6" cy="83.4" r="2.95" fill-opacity="0.40"/>
<circle cx="75.8" cy="87.8" r="2.95" fill-opacity="0.40"/>
<circle cx="73.2" cy="165.5" r="2.95" fill-opacity="0.40"/>
<circle cx="74.2" cy="166.3" r="2.95" fill-opacity="0.40"/>
<circle cx="73.8" cy="165.0" r="2.95" fill-opacity="0.40"/>
<circle cx="85.7" cy="180.0" r="2.95" fill-opacity="0.40"/>
<circle cx="84.1" cy="173.9" r="2.95" fill-opacity="0.40"/>
<circle cx="82.0" cy="169.0" r="2.95" fill-opacity="0.40"/>
</g>
<g fill="#d95f02" fill-opacity="0.30" filter="url(#soft)">
<circle cx="171.5" cy="86.4" r="2.95"/>
<circle cx="175.2" cy="88.2" r="2.95"/>
<circle cx="170.7" cy="90.7" r="2.95"/>
<circle cx="177.5" cy="92.4" r="2.95"/>
<circle cx="179.3" cy="94.2" r="2.95"/>
<circle cx="178.3" cy="96.9" r="2.95"/>
<circle cx="169.2" cy="97.4" r="2.95"/>
<circle cx="179.8" cy="99.5" r="2.95"/>
<circle cx="168.9" cy="100.4" r="2.95"/>
<circle cx="181.8" cy="102.1" r="2.95"/>
<circle cx="178.8" cy="102.3" r="2.95"/>
<circle cx="173.4" cy="104.3" r="2.95"/>
<circle cx="173.5" cy="105.2" r="2.95"/>
<circle cx="180.9" cy="106.0" r="2.95"/>
<circle cx="181.3" cy="107.2" r="2.95"/>
<circle cx="182.0" cy="108.1" r="2.95"/>
<circle cx="175.0" cy="108.8" r="2.95"/>
<circle cx="177.4" cy="109.8" r="2.95"/>
<circle cx="169.3" cy="110.4" r="2.95"/>
<circle cx="168.6" cy="111.0" r="2.95"/>
<circle cx="175.2" cy="112.3" r="2.95"/>
<circle cx="171.4" cy="112.9" r="2.95"/>
<circle cx="182.7" cy="114.0" r="2.95"/>
<circle cx="178.2" cy="114.2" r="2.95"/>
<circle cx="176.3" cy="115.3" r="2.95"/>
<circle cx="174.8" cy="116.1" r="2.95"/>
<circle cx="169.6" cy="116.7" r="2.95"/>
<circle cx="178.1" cy="117.3" r="2.95"/>
<circle cx="176.6" cy="117.5" r="2.95"/>
<circle cx="182.0" cy="118.1" r="2.95"/>
<circle cx="169.1" cy="118.7" r="2.95"/>
<circle cx="176.1" cy="119.4" r="2.95"/>
<circle cx="182.6" cy="119.9" r="2.95"/>
<circle cx="172.9" cy="120.5" r="2.95"/>
<circle cx="173.6" cy="121.1" r="2.95"/>
<circle cx="176.9" cy="122.2" r="2.95"/>
<circle cx="176.2" cy="122.4" r="2.95"/>
<circle cx="180.2" cy="123.2" r="2.95"/>
<circle cx="172.6" cy="123.7" r="2.95"/>
<circle cx="176.9" cy="124.4" r="2.95"/>
<circle cx="174.4" cy="125.0" r="2.95"/>
<circle cx="179.2" cy="125.3" r="2.95"/>
<circle cx="178.6" cy="126.0" r="2.95"/>
<circle cx="180.8" cy="126.3" r="2.95"/>
<circle cx="170.4" cy="127.0" r="2.95"/>
<circle cx="174.5" cy="127.5" r="2.95"/>
<circle cx="172.6" cy="128.2" r="2.95"/>
<circle cx="178.9" cy="128.7" r="2.95"/>
<circle cx="174.8" cy="129.4" r="2.95"/>
<circle cx="175.7" cy="129.9" r="2.95"/>
<circle cx="172.1" cy="130.4" r="2.95"/>
<circle cx="171.8" cy="131.3" r="2.95"/>
<circle cx="175.8" cy="131.4" r="2.95"/>
<circle cx="182.4" cy="132.0" r="2.95"/>
<circle cx="173.1" cy="132.6" r="2.95"/>
<circle cx="181.2" cy="133.6" r="2.95"/>
<circle cx="169.5" cy="134.0" r="2.95"/>
<circle cx="172.4" cy="134.7" r="2.95"/>
<circle cx="176.7" cy="135.4" r="2.95"/>
<circle cx="177.1" cy="135.5" r="2.95"/>
<circle cx="180.7" cy="136.5" r="2.95"/>
<circle cx="171.0" cy="136.7" r="2.95"/>
<circle cx="181.0" cy="137.4" r="2.95"/>
<circle cx="178.0" cy="138.1" r="2.95"/>
<circle cx="179.5" cy="138.7" r="2.95"/>
<circle cx="181.6" cy="139.0" r="2.95"/>
<circle cx="171.2" cy="139.7" r="2.95"/>
<circle cx="171.3" cy="140.0" r="2.95"/>
<circle cx="170.0" cy="140.7" r="2.95"/>
<circle cx="171.7" cy="141.7" r="2.95"/>
<circle cx="169.9" cy="142.2" r="2.95"/>
<circle cx="174.6" cy="142.6" r="2.95"/>
<circle cx="173.8" cy="143.3" r="2.95"/>
<circle cx="177.2" cy="143.9" r="2.95"/>
<circle cx="175.6" cy="144.1" r="2.95"/>
<circle cx="180.0" cy="145.1" r="2.95"/>
<circle cx="179.7" cy="145.3" r="2.95"/>
<circle cx="174.2" cy="145.7" r="2.95"/>
<circle cx="180.4" cy="146.5" r="2.95"/>
<circle cx="170.5" cy="147.1" r="2.95"/>
<circle cx="168.7" cy="147.8" r="2.95"/>
<circle cx="182.3" cy="148.3" r="2.95"/>
<circle cx="182.2" cy="148.5" r="2.95"/>
<circle cx="180.1" cy="149.5" r="2.95"/>
<circle cx="174.1" cy="150.3" r="2.95"/>
<circle cx="170.8" cy="150.8" r="2.95"/>
<circle cx="178.5" cy="151.6" r="2.95"/>
<circle cx="181.4" cy="152.0" r="2.95"/>
<circle cx="177.7" cy="152.9" r="2.95"/>
<circle cx="169.7" cy="153.1" r="2.95"/>
<circle cx="172.2" cy="154.4" r="2.95"/>
<circle cx="170.3" cy="154.8" r="2.95"/>
<circle cx="176.0" cy="156.0" r="2.95"/>
<circle cx="172.0" cy="156.4" r="2.95"/>
<circle cx="179.0" cy="157.5" r="2.95"/>
<circle cx="180.5" cy="158.7" r="2.95"/>
<circle cx="170.2" cy="159.6" r="2.95"/>
<circle cx="175.5" cy="160.6" r="2.95"/>
<circle cx="173.9" cy="162.2" r="2.95"/>
<circle cx="172.8" cy="162.4" r="2.95"/>
<circle cx="177.7" cy="163.8" r="2.95"/>
<circle cx="179.6" cy="166.2" r="2.95"/>
<circle cx="173.2" cy="171.0" r="2.95"/>
<circle cx="168.4" cy="43.1" r="2.95" fill-opacity="0.40"/>
<circle cx="178.7" cy="201.8" r="2.95" fill-opacity="0.40"/>
<circle cx="182.7" cy="215.3" r="2.95" fill-opacity="0.40"/>
<circle cx="180.0" cy="226.9" r="2.95" fill-opacity="0.40"/>
<circle cx="170.5" cy="66.0" r="2.95" fill-opacity="0.40"/>
<circle cx="172.0" cy="72.0" r="2.95" fill-opacity="0.40"/>
<circle cx="171.0" cy="80.0" r="2.95" fill-opacity="0.40"/>
</g>
<g fill="#7570b3" fill-opacity="0.30" filter="url(#soft)">
<circle cx="270.3" cy="98.4" r="2.95"/>
<circle cx="275.3" cy="105.5" r="2.95"/>
<circle cx="273.3" cy="108.6" r="2.95"/>
<circle cx="274.3" cy="112.1" r="2.95"/>
<circle cx="277.2" cy="113.4" r="2.95"/>
<circle cx="271.4" cy="117.0" r="2.95"/>
<circle cx="273.0" cy="121.0" r="2.95"/>
<circle cx="277.5" cy="121.9" r="2.95"/>
<circle cx="265.0" cy="125.8" r="2.95"/>
<circle cx="268.9" cy="127.5" r="2.95"/>
<circle cx="269.4" cy="129.1" r="2.95"/>
<circle cx="268.4" cy="131.7" r="2.95"/>
<circle cx="274.4" cy="133.1" r="2.95"/>
<circle cx="271.3" cy="136.2" r="2.95"/>
<circle cx="277.8" cy="138.1" r="2.95"/>
<circle cx="273.8" cy="138.6" r="2.95"/>
<circle cx="264.8" cy="140.8" r="2.95"/>
<circle cx="264.9" cy="143.1" r="2.95"/>
<circle cx="269.9" cy="143.8" r="2.95"/>
<circle cx="267.2" cy="145.8" r="2.95"/>
<circle cx="277.6" cy="147.6" r="2.95"/>
<circle cx="278.4" cy="148.7" r="2.95"/>
<circle cx="273.7" cy="149.4" r="2.95"/>
<circle cx="278.0" cy="151.8" r="2.95"/>
<circle cx="274.6" cy="152.9" r="2.95"/>
<circle cx="278.1" cy="154.0" r="2.95"/>
<circle cx="266.0" cy="155.0" r="2.95"/>
<circle cx="270.8" cy="156.6" r="2.95"/>
<circle cx="264.6" cy="157.6" r="2.95"/>
<circle cx="273.4" cy="158.5" r="2.95"/>
<circle cx="268.6" cy="159.7" r="2.95"/>
<circle cx="271.8" cy="160.8" r="2.95"/>
<circle cx="277.7" cy="162.2" r="2.95"/>
<circle cx="267.6" cy="163.5" r="2.95"/>
<circle cx="270.6" cy="165.1" r="2.95"/>
<circle cx="275.4" cy="166.2" r="2.95"/>
<circle cx="265.4" cy="167.4" r="2.95"/>
<circle cx="265.8" cy="168.8" r="2.95"/>
<circle cx="269.8" cy="169.1" r="2.95"/>
<circle cx="272.8" cy="170.5" r="2.95"/>
<circle cx="276.1" cy="171.3" r="2.95"/>
<circle cx="267.1" cy="172.8" r="2.95"/>
<circle cx="264.3" cy="173.5" r="2.95"/>
<circle cx="265.1" cy="174.6" r="2.95"/>
<circle cx="270.8" cy="175.7" r="2.95"/>
<circle cx="271.0" cy="177.0" r="2.95"/>
<circle cx="272.4" cy="178.5" r="2.95"/>
<circle cx="266.5" cy="179.0" r="2.95"/>
<circle cx="268.8" cy="180.5" r="2.95"/>
<circle cx="272.5" cy="181.0" r="2.95"/>
<circle cx="269.0" cy="182.1" r="2.95"/>
<circle cx="270.5" cy="183.3" r="2.95"/>
<circle cx="270.0" cy="183.9" r="2.95"/>
<circle cx="265.8" cy="185.2" r="2.95"/>
<circle cx="268.3" cy="186.3" r="2.95"/>
<circle cx="276.5" cy="187.4" r="2.95"/>
<circle cx="270.5" cy="187.6" r="2.95"/>
<circle cx="270.1" cy="189.2" r="2.95"/>
<circle cx="271.5" cy="189.9" r="2.95"/>
<circle cx="267.0" cy="190.8" r="2.95"/>
<circle cx="264.4" cy="191.3" r="2.95"/>
<circle cx="274.0" cy="192.8" r="2.95"/>
<circle cx="273.2" cy="193.2" r="2.95"/>
<circle cx="265.7" cy="194.3" r="2.95"/>
<circle cx="266.9" cy="195.1" r="2.95"/>
<circle cx="266.6" cy="196.2" r="2.95"/>
<circle cx="266.1" cy="196.8" r="2.95"/>
<circle cx="271.9" cy="198.0" r="2.95"/>
<circle cx="275.8" cy="198.1" r="2.95"/>
<circle cx="269.1" cy="199.3" r="2.95"/>
<circle cx="273.5" cy="200.0" r="2.95"/>
<circle cx="275.8" cy="200.8" r="2.95"/>
<circle cx="269.2" cy="201.6" r="2.95"/>
<circle cx="272.5" cy="202.3" r="2.95"/>
<circle cx="272.1" cy="202.9" r="2.95"/>
<circle cx="272.9" cy="203.9" r="2.95"/>
<circle cx="267.4" cy="204.3" r="2.95"/>
<circle cx="276.2" cy="205.3" r="2.95"/>
<circle cx="266.3" cy="206.0" r="2.95"/>
<circle cx="272.1" cy="206.6" r="2.95"/>
<circle cx="269.2" cy="207.6" r="2.95"/>
<circle cx="266.7" cy="208.4" r="2.95"/>
<circle cx="268.1" cy="208.7" r="2.95"/>
<circle cx="266.4" cy="209.5" r="2.95"/>
<circle cx="274.9" cy="210.1" r="2.95"/>
<circle cx="277.0" cy="211.2" r="2.95"/>
<circle cx="274.0" cy="211.5" r="2.95"/>
<circle cx="274.8" cy="212.3" r="2.95"/>
<circle cx="267.9" cy="213.1" r="2.95"/>
<circle cx="269.6" cy="213.8" r="2.95"/>
<circle cx="278.3" cy="214.2" r="2.95"/>
<circle cx="276.3" cy="215.5" r="2.95"/>
<circle cx="271.0" cy="215.7" r="2.95"/>
<circle cx="274.1" cy="216.6" r="2.95"/>
<circle cx="277.0" cy="217.0" r="2.95"/>
<circle cx="278.1" cy="217.9" r="2.95"/>
<circle cx="276.8" cy="218.5" r="2.95"/>
<circle cx="275.0" cy="219.1" r="2.95"/>
<circle cx="278.2" cy="219.9" r="2.95"/>
<circle cx="269.5" cy="220.6" r="2.95"/>
<circle cx="267.0" cy="221.3" r="2.95"/>
<circle cx="275.6" cy="222.0" r="2.95"/>
<circle cx="268.5" cy="222.4" r="2.95"/>
<circle cx="266.1" cy="223.0" r="2.95"/>
<circle cx="273.7" cy="223.8" r="2.95"/>
<circle cx="264.7" cy="224.5" r="2.95"/>
<circle cx="269.7" cy="225.3" r="2.95"/>
<circle cx="277.4" cy="225.9" r="2.95"/>
<circle cx="265.2" cy="226.5" r="2.95"/>
<circle cx="270.3" cy="227.0" r="2.95"/>
<circle cx="268.0" cy="228.0" r="2.95"/>
<circle cx="272.3" cy="228.4" r="2.95"/>
<circle cx="276.6" cy="229.3" r="2.95"/>
<circle cx="276.0" cy="230.1" r="2.95"/>
<circle cx="277.3" cy="230.7" r="2.95"/>
<circle cx="276.4" cy="231.1" r="2.95"/>
<circle cx="267.3" cy="231.9" r="2.95"/>
<circle cx="271.7" cy="233.0" r="2.95"/>
<circle cx="276.7" cy="233.1" r="2.95"/>
<circle cx="272.7" cy="234.1" r="2.95"/>
<circle cx="275.2" cy="234.6" r="2.95"/>
<circle cx="275.4" cy="235.4" r="2.95"/>
<circle cx="274.5" cy="235.9" r="2.95"/>
<circle cx="271.2" cy="236.4" r="2.95"/>
<circle cx="268.2" cy="237.4" r="2.95"/>
<circle cx="267.7" cy="237.7" r="2.95"/>
<circle cx="267.8" cy="238.9" r="2.95"/>
<circle cx="274.7" cy="239.6" r="2.95"/>
<circle cx="275.7" cy="240.0" r="2.95"/>
<circle cx="265.6" cy="240.8" r="2.95"/>
<circle cx="271.6" cy="241.5" r="2.95"/>
<circle cx="273.1" cy="242.8" r="2.95"/>
<circle cx="265.3" cy="242.8" r="2.95"/>
<circle cx="278.6" cy="59.3" r="2.95" fill-opacity="0.40"/>
<circle cx="263.9" cy="69.7" r="2.95" fill-opacity="0.40"/>
<circle cx="266.6" cy="77.8" r="2.95" fill-opacity="0.40"/>
<circle cx="275.4" cy="92.2" r="2.95" fill-opacity="0.40"/>
<circle cx="278.2" cy="100.3" r="2.95" fill-opacity="0.40"/>
<circle cx="263.3" cy="107.1" r="2.95" fill-opacity="0.40"/>
<circle cx="276.8" cy="110.7" r="2.95" fill-opacity="0.40"/>
<circle cx="263.3" cy="115.5" r="2.95" fill-opacity="0.40"/>
</g>
<line x1="80.40" y1="86.00" x2="80.40" y2="119.00" stroke="#595959" stroke-width="1.1"/>
<line x1="80.40" y1="142.20" x2="80.40" y2="172.30" stroke="#595959" stroke-width="1.1"/>
<rect x="66.15" y="119.00" width="28.50" height="23.20" fill="#fff" fill-opacity="0.15" stroke="#595959" stroke-width="1.1"/>
<line x1="66.15" y1="132.00" x2="94.65" y2="132.00" stroke="#3d3d3d" stroke-width="1.8"/>
<line x1="175.70" y1="76.00" x2="175.70" y2="117.10" stroke="#595959" stroke-width="1.1"/>
<line x1="175.70" y1="146.80" x2="175.70" y2="174.00" stroke="#595959" stroke-width="1.1"/>
<rect x="161.45" y="117.10" width="28.50" height="29.70" fill="#fff" fill-opacity="0.15" stroke="#595959" stroke-width="1.1"/>
<line x1="161.45" y1="129.80" x2="189.95" y2="129.80" stroke="#3d3d3d" stroke-width="1.8"/>
<line x1="271.40" y1="59.30" x2="271.40" y2="144.40" stroke="#595959" stroke-width="1.1"/>
<line x1="271.40" y1="216.30" x2="271.40" y2="243.80" stroke="#595959" stroke-width="1.1"/>
<rect x="257.15" y="144.40" width="28.50" height="71.90" fill="#fff" fill-opacity="0.15" stroke="#595959" stroke-width="1.1"/>
<line x1="257.15" y1="182.10" x2="285.65" y2="182.10" stroke="#3d3d3d" stroke-width="1.8"/>
<path d="M175.70,13.40 L175.70,11.40 L271.40,11.40 L271.40,13.40" fill="none" stroke="#333" stroke-width="1"/>
<text x="226.35" y="13.20" font-size="15.4" letter-spacing="-0.3" fill="#595959" text-anchor="middle" font-family="Liberation Serif, serif">***</text>
<path d="M80.40,28.50 L80.40,26.50 L271.40,26.50 L271.40,28.50" fill="none" stroke="#333" stroke-width="1"/>
<text x="176.45" y="27.80" font-size="15.4" letter-spacing="-0.3" fill="#595959" text-anchor="middle" font-family="Liberation Serif, serif">***</text>
<line x1="380.0" y1="238.75" x2="685.5" y2="238.75" stroke="#ededed" stroke-width="0.6"/>
<line x1="380.0" y1="162.45" x2="685.5" y2="162.45" stroke="#ededed" stroke-width="0.6"/>
<line x1="380.0" y1="86.15" x2="685.5" y2="86.15" stroke="#ededed" stroke-width="0.6"/>
<line x1="380.0" y1="9.85" x2="685.5" y2="9.85" stroke="#ededed" stroke-width="0.6"/>
<line x1="380.0" y1="200.60" x2="685.5" y2="200.60" stroke="#e8e8e8" stroke-width="0.9"/>
<line x1="380.0" y1="124.30" x2="685.5" y2="124.30" stroke="#e8e8e8" stroke-width="0.9"/>
<line x1="380.0" y1="48.00" x2="685.5" y2="48.00" stroke="#e8e8e8" stroke-width="0.9"/>
<line x1="436.60" y1="0.0" x2="436.60" y2="255.0" stroke="#e8e8e8" stroke-width="0.9"/>
<line x1="532.30" y1="0.0" x2="532.30" y2="255.0" stroke="#e8e8e8" stroke-width="0.9"/>
<line x1="627.50" y1="0.0" x2="627.50" y2="255.0" stroke="#e8e8e8" stroke-width="0.9"/>
<line x1="377.4" y1="200.60" x2="380.0" y2="200.60" stroke="#333" stroke-width="1"/>
<text transform="translate(374.80,203.30) scale(0.960,1)" font-size="7.00" fill="#707070" text-anchor="end" text-rendering="geometricPrecision" font-family="Liberation Serif, serif">40</text>
<line x1="377.4" y1="124.30" x2="380.0" y2="124.30" stroke="#333" stroke-width="1"/>
<text transform="translate(374.80,127.00) scale(0.960,1)" font-size="7.00" fill="#707070" text-anchor="end" text-rendering="geometricPrecision" font-family="Liberation Serif, serif">60</text>
<line x1="377.4" y1="48.00" x2="380.0" y2="48.00" stroke="#333" stroke-width="1"/>
<text transform="translate(374.80,50.70) scale(0.960,1)" font-size="7.00" fill="#707070" text-anchor="end" text-rendering="geometricPrecision" font-family="Liberation Serif, serif">80</text>
<line x1="436.60" y1="255.0" x2="436.60" y2="257.4" stroke="#333" stroke-width="1"/>
<text transform="translate(436.80,265.10) scale(0.930,1)" font-size="11.20" fill="#4d4d4d" text-anchor="middle" text-rendering="geometricPrecision" font-family="Liberation Serif, serif">Control</text>
<line x1="532.30" y1="255.0" x2="532.30" y2="257.4" stroke="#333" stroke-width="1"/>
<text transform="translate(532.25,265.10) scale(0.930,1)" font-size="11.20" fill="#4d4d4d" text-anchor="middle" text-rendering="geometricPrecision" font-family="Liberation Serif, serif">Eyes without ON</text>
<line x1="627.50" y1="255.0" x2="627.50" y2="257.4" stroke="#333" stroke-width="1"/>
<text transform="translate(622.05,265.10) scale(0.930,1)" font-size="11.20" fill="#4d4d4d" text-anchor="middle" text-rendering="geometricPrecision" font-family="Liberation Serif, serif">Eyes with ON</text>
<text transform="translate(363.6,117.3) rotate(-90)" font-size="10.45" fill="#000" text-anchor="middle" text-rendering="geometricPrecision" font-family="Liberation Serif, serif">GCIPL thickness, μm</text>
<path d="M434.64,61.70 L434.41,62.08 L434.18,62.46 L433.95,62.84 L433.72,63.22 L433.49,63.61 L433.27,63.99 L433.04,64.37 L432.81,64.75 L432.59,65.13 L432.43,65.51 L432.26,65.89 L432.09,66.27 L431.93,66.65 L431.76,67.04 L431.60,67.42 L431.43,67.80 L431.26,68.18 L431.10,68.56 L430.94,68.94 L430.77,69.32 L430.61,69.70 L430.45,70.08 L430.30,70.46 L430.14,70.85 L429.99,71.23 L429.84,71.61 L429.70,71.99 L429.56,72.37 L429.42,72.75 L429.28,73.13 L429.14,73.51 L429.01,73.89 L428.87,74.28 L428.74,74.66 L428.60,75.04 L428.46,75.42 L428.32,75.80 L428.17,76.18 L428.02,76.56 L427.86,76.94 L427.70,77.32 L427.54,77.71 L427.38,78.09 L427.21,78.47 L427.04,78.85 L426.87,79.23 L426.70,79.61 L426.52,79.99 L426.34,80.37 L426.16,80.75 L425.98,81.14 L425.79,81.52 L425.60,81.90 L425.41,82.28 L425.22,82.66 L425.03,83.04 L424.83,83.42 L424.64,83.80 L424.44,84.18 L424.23,84.56 L424.02,84.95 L423.81,85.33 L423.59,85.71 L423.37,86.09 L423.13,86.47 L422.89,86.85 L422.64,87.23 L422.38,87.61 L422.09,87.99 L421.78,88.38 L421.46,88.76 L421.12,89.14 L420.77,89.52 L420.41,89.90 L420.06,90.28 L419.71,90.66 L419.37,91.04 L419.05,91.42 L418.74,91.81 L418.45,92.19 L418.18,92.57 L417.95,92.95 L417.72,93.33 L417.49,93.71 L417.27,94.09 L417.06,94.47 L416.86,94.85 L416.66,95.24 L416.47,95.62 L416.29,96.00 L416.11,96.38 L415.94,96.76 L415.78,97.14 L415.62,97.52 L415.47,97.90 L415.33,98.28 L415.19,98.66 L415.06,99.05 L414.93,99.43 L414.80,99.81 L414.67,100.19 L414.56,100.57 L414.44,100.95 L414.33,101.33 L414.22,101.71 L414.12,102.09 L414.03,102.48 L413.94,102.86 L413.85,103.24 L413.78,103.62 L413.70,104.00 L413.63,104.38 L413.56,104.76 L413.50,105.14 L413.44,105.52 L413.38,105.91 L413.32,106.29 L413.27,106.67 L413.22,107.05 L413.17,107.43 L413.12,107.81 L413.08,108.19 L413.03,108.57 L412.98,108.95 L412.93,109.34 L412.88,109.72 L412.83,110.10 L412.79,110.48 L412.74,110.86 L412.70,111.24 L412.65,111.62 L412.62,112.00 L412.58,112.38 L412.56,112.76 L412.53,113.15 L412.51,113.53 L412.50,113.91 L412.50,114.29 L412.51,114.67 L412.55,115.05 L412.62,115.43 L412.70,115.81 L412.80,116.19 L412.91,116.58 L413.04,116.96 L413.17,117.34 L413.30,117.72 L413.44,118.10 L413.59,118.48 L413.77,118.86 L413.98,119.24 L414.20,119.62 L414.45,120.01 L414.71,120.39 L414.98,120.77 L415.26,121.15 L415.56,121.53 L415.90,121.91 L416.27,122.29 L416.66,122.67 L417.07,123.05 L417.51,123.44 L417.96,123.82 L418.42,124.20 L418.88,124.58 L419.35,124.96 L419.82,125.34 L420.28,125.72 L420.73,126.10 L421.17,126.48 L421.60,126.86 L422.04,127.25 L422.48,127.63 L422.94,128.01 L423.39,128.39 L423.85,128.77 L424.30,129.15 L424.75,129.53 L425.18,129.91 L425.61,130.29 L426.02,130.68 L426.41,131.06 L426.78,131.44 L427.13,131.82 L427.46,132.20 L427.78,132.58 L428.09,132.96 L428.39,133.34 L428.68,133.72 L428.97,134.11 L429.24,134.49 L429.51,134.87 L429.77,135.25 L430.02,135.63 L430.26,136.01 L430.49,136.39 L430.71,136.77 L430.92,137.15 L431.12,137.54 L431.32,137.92 L431.52,138.30 L431.72,138.68 L431.91,139.06 L432.09,139.44 L432.27,139.82 L432.44,140.20 L432.60,140.58 L432.80,140.96 L433.00,141.35 L433.17,141.73 L433.34,142.11 L433.48,142.49 L433.61,142.87 L433.73,143.25 L433.85,143.63 L433.96,144.01 L434.07,144.39 L434.18,144.78 L434.28,145.16 L434.37,145.54 L434.46,145.92 L434.53,146.30 L434.60,146.68 L434.66,147.06 L434.71,147.44 L434.75,147.82 L434.78,148.21 L434.81,148.59 L434.83,148.97 L434.86,149.35 L434.88,149.73 L434.90,150.11 L434.92,150.49 L434.94,150.87 L434.96,151.25 L434.98,151.64 L434.99,152.02 L435.00,152.40 L435.02,152.78 L435.03,153.16 L435.03,153.54 L435.04,153.92 L435.04,154.30 L435.05,154.68 L435.05,155.06 L435.05,155.45 L435.05,155.83 L435.05,156.21 L435.05,156.59 L435.05,156.97 L435.05,157.35 L435.05,157.73 L435.05,158.11 L435.05,158.49 L435.05,158.88 L435.05,159.26 L435.05,159.64 L435.05,160.02 L435.05,160.40 L438.15,160.40 L438.15,160.02 L438.15,159.64 L438.15,159.26 L438.15,158.88 L438.15,158.49 L438.15,158.11 L438.15,157.73 L438.15,157.35 L438.15,156.97 L438.15,156.59 L438.15,156.21 L438.15,155.83 L438.15,155.45 L438.15,155.06 L438.15,154.68 L438.16,154.30 L438.16,153.92 L438.17,153.54 L438.17,153.16 L438.18,152.78 L438.20,152.40 L438.21,152.02 L438.22,151.64 L438.24,151.25 L438.26,150.87 L438.28,150.49 L438.30,150.11 L438.32,149.73 L438.34,149.35 L438.37,148.97 L438.39,148.59 L438.42,148.21 L438.45,147.82 L438.49,147.44 L438.54,147.06 L438.60,146.68 L438.67,146.30 L438.74,145.92 L438.83,145.54 L438.92,145.16 L439.02,144.78 L439.13,144.39 L439.24,144.01 L439.35,143.63 L439.47,143.25 L439.59,142.87 L439.72,142.49 L439.86,142.11 L440.03,141.73 L440.20,141.35 L440.40,140.96 L440.60,140.58 L440.76,140.20 L440.93,139.82 L441.11,139.44 L441.29,139.06 L441.48,138.68 L441.68,138.30 L441.88,137.92 L442.08,137.54 L442.28,137.15 L442.49,136.77 L442.71,136.39 L442.94,136.01 L443.18,135.63 L443.43,135.25 L443.69,134.87 L443.96,134.49 L444.23,134.11 L444.52,133.72 L444.81,133.34 L445.11,132.96 L445.42,132.58 L445.74,132.20 L446.07,131.82 L446.42,131.44 L446.79,131.06 L447.18,130.68 L447.59,130.29 L448.02,129.91 L448.45,129.53 L448.90,129.15 L449.35,128.77 L449.81,128.39 L450.26,128.01 L450.72,127.63 L451.16,127.25 L451.60,126.86 L452.03,126.48 L452.47,126.10 L452.92,125.72 L453.38,125.34 L453.85,124.96 L454.32,124.58 L454.78,124.20 L455.24,123.82 L455.69,123.44 L456.13,123.05 L456.54,122.67 L456.93,122.29 L457.30,121.91 L457.64,121.53 L457.94,121.15 L458.22,120.77 L458.49,120.39 L458.75,120.01 L459.00,119.62 L459.22,119.24 L459.43,118.86 L459.61,118.48 L459.76,118.10 L459.90,117.72 L460.03,117.34 L460.16,116.96 L460.29,116.58 L460.40,116.19 L460.50,115.81 L460.58,115.43 L460.65,115.05 L460.69,114.67 L460.70,114.29 L460.70,113.91 L460.69,113.53 L460.67,113.15 L460.64,112.76 L460.62,112.38 L460.58,112.00 L460.55,111.62 L460.50,111.24 L460.46,110.86 L460.41,110.48 L460.37,110.10 L460.32,109.72 L460.27,109.34 L460.22,108.95 L460.17,108.57 L460.12,108.19 L460.08,107.81 L460.03,107.43 L459.98,107.05 L459.93,106.67 L459.88,106.29 L459.82,105.91 L459.76,105.52 L459.70,105.14 L459.64,104.76 L459.57,104.38 L459.50,104.00 L459.42,103.62 L459.35,103.24 L459.26,102.86 L459.17,102.48 L459.08,102.09 L458.98,101.71 L458.87,101.33 L458.76,100.95 L458.64,100.57 L458.53,100.19 L458.40,99.81 L458.27,99.43 L458.14,99.05 L458.01,98.66 L457.87,98.28 L457.73,97.90 L457.58,97.52 L457.42,97.14 L457.26,96.76 L457.09,96.38 L456.91,96.00 L456.73,95.62 L456.54,95.24 L456.34,94.85 L456.14,94.47 L455.93,94.09 L455.71,93.71 L455.48,93.33 L455.25,92.95 L455.02,92.57 L454.75,92.19 L454.46,91.81 L454.15,91.42 L453.83,91.04 L453.49,90.66 L453.14,90.28 L452.79,89.90 L452.43,89.52 L452.08,89.14 L451.74,88.76 L451.42,88.38 L451.11,87.99 L450.82,87.61 L450.56,87.23 L450.31,86.85 L450.07,86.47 L449.83,86.09 L449.61,85.71 L449.39,85.33 L449.18,84.95 L448.97,84.56 L448.76,84.18 L448.56,83.80 L448.37,83.42 L448.17,83.04 L447.98,82.66 L447.79,82.28 L447.60,81.90 L447.41,81.52 L447.22,81.14 L447.04,80.75 L446.86,80.37 L446.68,79.99 L446.50,79.61 L446.33,79.23 L446.16,78.85 L445.99,78.47 L445.82,78.09 L445.66,77.71 L445.50,77.32 L445.34,76.94 L445.18,76.56 L445.03,76.18 L444.88,75.80 L444.74,75.42 L444.60,75.04 L444.46,74.66 L444.33,74.28 L444.19,73.89 L444.06,73.51 L443.92,73.13 L443.78,72.75 L443.64,72.37 L443.50,71.99 L443.36,71.61 L443.21,71.23 L443.06,70.85 L442.90,70.46 L442.75,70.08 L442.59,69.70 L442.43,69.32 L442.26,68.94 L442.10,68.56 L441.94,68.18 L441.77,67.80 L441.60,67.42 L441.44,67.04 L441.27,66.65 L441.11,66.27 L440.94,65.89 L440.77,65.51 L440.61,65.13 L440.39,64.75 L440.16,64.37 L439.93,63.99 L439.71,63.61 L439.48,63.22 L439.25,62.84 L439.02,62.46 L438.79,62.08 L438.56,61.70 Z" fill="none" stroke="#333" stroke-width="1.05" stroke-linejoin="round"/>
<path d="M531.02,56.00 L531.01,56.56 L530.99,57.11 L530.95,57.67 L530.91,58.22 L530.85,58.78 L530.78,59.33 L530.69,59.89 L530.60,60.44 L530.51,61.00 L530.40,61.55 L530.29,62.11 L530.17,62.66 L530.05,63.22 L529.92,63.77 L529.79,64.33 L529.63,64.88 L529.43,65.44 L529.19,65.99 L528.92,66.55 L528.62,67.10 L528.30,67.66 L528.05,68.21 L527.79,68.77 L527.52,69.33 L527.25,69.88 L526.99,70.44 L526.73,70.99 L526.48,71.55 L526.23,72.10 L525.98,72.66 L525.72,73.21 L525.45,73.77 L525.18,74.32 L524.91,74.88 L524.63,75.43 L524.35,75.99 L524.08,76.54 L523.80,77.10 L523.52,77.65 L523.24,78.21 L522.97,78.76 L522.69,79.32 L522.40,79.87 L522.11,80.43 L521.82,80.98 L521.53,81.54 L521.24,82.09 L520.95,82.65 L520.66,83.21 L520.38,83.76 L520.11,84.32 L519.85,84.87 L519.60,85.43 L519.37,85.98 L519.14,86.54 L518.92,87.09 L518.70,87.65 L518.50,88.20 L518.29,88.76 L518.09,89.31 L517.90,89.87 L517.71,90.42 L517.53,90.98 L517.35,91.53 L517.17,92.09 L517.01,92.64 L516.84,93.20 L516.69,93.75 L516.54,94.31 L516.40,94.86 L516.26,95.42 L516.13,95.98 L516.00,96.53 L515.87,97.09 L515.74,97.64 L515.61,98.20 L515.48,98.75 L515.34,99.31 L515.19,99.86 L515.04,100.42 L514.88,100.97 L514.71,101.53 L514.53,102.08 L514.35,102.64 L514.17,103.19 L513.98,103.75 L513.80,104.30 L513.62,104.86 L513.45,105.41 L513.28,105.97 L513.12,106.52 L512.98,107.08 L512.84,107.63 L512.70,108.19 L512.56,108.75 L512.41,109.30 L512.27,109.86 L512.13,110.41 L511.99,110.97 L511.87,111.52 L511.76,112.08 L511.66,112.63 L511.59,113.19 L511.53,113.74 L511.50,114.30 L511.50,114.85 L511.50,115.41 L511.50,115.96 L511.50,116.52 L511.50,117.07 L511.50,117.63 L511.50,118.18 L511.50,118.74 L511.51,119.29 L511.59,119.85 L511.73,120.40 L511.92,120.96 L512.14,121.52 L512.40,122.07 L512.66,122.63 L512.93,123.18 L513.19,123.74 L513.43,124.29 L513.68,124.85 L513.94,125.40 L514.22,125.96 L514.51,126.51 L514.80,127.07 L515.10,127.62 L515.40,128.18 L515.70,128.73 L516.02,129.29 L516.35,129.84 L516.68,130.40 L517.02,130.95 L517.36,131.51 L517.70,132.06 L518.05,132.62 L518.39,133.17 L518.74,133.73 L519.08,134.28 L519.42,134.84 L519.75,135.40 L520.07,135.95 L520.38,136.51 L520.69,137.06 L520.99,137.62 L521.29,138.17 L521.58,138.73 L521.87,139.28 L522.16,139.84 L522.45,140.39 L522.73,140.95 L523.01,141.50 L523.29,142.06 L523.56,142.61 L523.83,143.17 L524.10,143.72 L524.36,144.28 L524.62,144.83 L524.87,145.39 L525.12,145.94 L525.37,146.50 L525.62,147.05 L525.87,147.61 L526.12,148.17 L526.37,148.72 L526.61,149.28 L526.86,149.83 L527.09,150.39 L527.33,150.94 L527.55,151.50 L527.77,152.05 L527.97,152.61 L528.17,153.16 L528.37,153.72 L528.60,154.27 L528.82,154.83 L529.02,155.38 L529.22,155.94 L529.41,156.49 L529.60,157.05 L529.79,157.60 L529.97,158.16 L530.14,158.71 L530.31,159.27 L530.46,159.82 L530.61,160.38 L530.75,160.94 L530.88,161.49 L530.99,162.05 L531.10,162.60 L531.19,163.16 L531.27,163.71 L531.33,164.27 L531.40,164.82 L531.46,165.38 L531.52,165.93 L531.57,166.49 L531.62,167.04 L531.67,167.60 L531.72,168.15 L531.75,168.71 L531.78,169.26 L531.81,169.82 L531.84,170.37 L531.86,170.93 L531.89,171.48 L531.91,172.04 L531.93,172.59 L531.95,173.15 L531.97,173.71 L531.98,174.26 L532.00,174.82 L532.01,175.37 L532.02,175.93 L532.03,176.48 L532.04,177.04 L532.05,177.59 L532.06,178.15 L532.08,178.70 L532.09,179.26 L532.10,179.81 L532.11,180.37 L532.12,180.92 L532.13,181.48 L532.14,182.03 L532.15,182.59 L532.15,183.14 L532.16,183.70 L532.17,184.25 L532.18,184.81 L532.19,185.36 L532.20,185.92 L532.20,186.47 L532.20,187.03 L532.20,187.59 L532.20,188.14 L532.20,188.70 L532.20,189.25 L532.20,189.81 L532.20,190.36 L532.20,190.92 L532.20,191.47 L532.20,192.03 L532.20,192.58 L532.20,193.14 L532.20,193.69 L532.20,194.25 L532.20,194.80 L532.20,195.36 L532.20,195.91 L532.20,196.47 L532.20,197.02 L532.20,197.58 L532.20,198.13 L532.20,198.69 L532.20,199.24 L532.20,199.80 L532.40,199.80 L532.40,199.24 L532.40,198.69 L532.40,198.13 L532.40,197.58 L532.40,197.02 L532.40,196.47 L532.40,195.91 L532.40,195.36 L532.40,194.80 L532.40,194.25 L532.40,193.69 L532.40,193.14 L532.40,192.58 L532.40,192.03 L532.40,191.47 L532.40,190.92 L532.40,190.36 L532.40,189.81 L532.40,189.25 L532.40,188.70 L532.40,188.14 L532.40,187.59 L532.40,187.03 L532.40,186.47 L532.40,185.92 L532.41,185.36 L532.42,184.81 L532.43,184.25 L532.44,183.70 L532.45,183.14 L532.45,182.59 L532.46,182.03 L532.47,181.48 L532.48,180.92 L532.49,180.37 L532.50,179.81 L532.51,179.26 L532.52,178.70 L532.54,178.15 L532.55,177.59 L532.56,177.04 L532.57,176.48 L532.58,175.93 L532.59,175.37 L532.60,174.82 L532.62,174.26 L532.63,173.71 L532.65,173.15 L532.67,172.59 L532.69,172.04 L532.71,171.48 L532.74,170.93 L532.76,170.37 L532.79,169.82 L532.82,169.26 L532.85,168.71 L532.88,168.15 L532.93,167.60 L532.98,167.04 L533.03,166.49 L533.08,165.93 L533.14,165.38 L533.20,164.82 L533.27,164.27 L533.33,163.71 L533.41,163.16 L533.50,162.60 L533.61,162.05 L533.72,161.49 L533.85,160.94 L533.99,160.38 L534.14,159.82 L534.29,159.27 L534.46,158.71 L534.63,158.16 L534.81,157.60 L535.00,157.05 L535.19,156.49 L535.38,155.94 L535.58,155.38 L535.78,154.83 L536.00,154.27 L536.23,153.72 L536.43,153.16 L536.63,152.61 L536.83,152.05 L537.05,151.50 L537.27,150.94 L537.51,150.39 L537.74,149.83 L537.99,149.28 L538.23,148.72 L538.48,148.17 L538.73,147.61 L538.98,147.05 L539.23,146.50 L539.48,145.94 L539.73,145.39 L539.98,144.83 L540.24,144.28 L540.50,143.72 L540.77,143.17 L541.04,142.61 L541.31,142.06 L541.59,141.50 L541.87,140.95 L542.15,140.39 L542.44,139.84 L542.73,139.28 L543.02,138.73 L543.31,138.17 L543.61,137.62 L543.91,137.06 L544.22,136.51 L544.53,135.95 L544.85,135.40 L545.18,134.84 L545.52,134.28 L545.86,133.73 L546.21,133.17 L546.55,132.62 L546.90,132.06 L547.24,131.51 L547.58,130.95 L547.92,130.40 L548.25,129.84 L548.58,129.29 L548.90,128.73 L549.20,128.18 L549.50,127.62 L549.80,127.07 L550.09,126.51 L550.38,125.96 L550.66,125.40 L550.92,124.85 L551.17,124.29 L551.41,123.74 L551.67,123.18 L551.94,122.63 L552.20,122.07 L552.46,121.52 L552.68,120.96 L552.87,120.40 L553.01,119.85 L553.09,119.29 L553.10,118.74 L553.10,118.18 L553.10,117.63 L553.10,117.07 L553.10,116.52 L553.10,115.96 L553.10,115.41 L553.10,114.85 L553.10,114.30 L553.07,113.74 L553.01,113.19 L552.94,112.63 L552.84,112.08 L552.73,111.52 L552.61,110.97 L552.47,110.41 L552.33,109.86 L552.19,109.30 L552.04,108.75 L551.90,108.19 L551.76,107.63 L551.62,107.08 L551.48,106.52 L551.32,105.97 L551.15,105.41 L550.98,104.86 L550.80,104.30 L550.62,103.75 L550.43,103.19 L550.25,102.64 L550.07,102.08 L549.89,101.53 L549.72,100.97 L549.56,100.42 L549.41,99.86 L549.26,99.31 L549.12,98.75 L548.99,98.20 L548.86,97.64 L548.73,97.09 L548.60,96.53 L548.47,95.98 L548.34,95.42 L548.20,94.86 L548.06,94.31 L547.91,93.75 L547.76,93.20 L547.59,92.64 L547.43,92.09 L547.25,91.53 L547.07,90.98 L546.89,90.42 L546.70,89.87 L546.51,89.31 L546.31,88.76 L546.10,88.20 L545.90,87.65 L545.68,87.09 L545.46,86.54 L545.23,85.98 L545.00,85.43 L544.75,84.87 L544.49,84.32 L544.22,83.76 L543.94,83.21 L543.65,82.65 L543.36,82.09 L543.07,81.54 L542.78,80.98 L542.49,80.43 L542.20,79.87 L541.91,79.32 L541.63,78.76 L541.36,78.21 L541.08,77.65 L540.80,77.10 L540.52,76.54 L540.25,75.99 L539.97,75.43 L539.69,74.88 L539.42,74.32 L539.15,73.77 L538.88,73.21 L538.62,72.66 L538.37,72.10 L538.12,71.55 L537.87,70.99 L537.61,70.44 L537.35,69.88 L537.08,69.33 L536.81,68.77 L536.55,68.21 L536.30,67.66 L535.98,67.10 L535.68,66.55 L535.41,65.99 L535.17,65.44 L534.97,64.88 L534.81,64.33 L534.68,63.77 L534.55,63.22 L534.43,62.66 L534.31,62.11 L534.20,61.55 L534.09,61.00 L534.00,60.44 L533.91,59.89 L533.82,59.33 L533.75,58.78 L533.69,58.22 L533.65,57.67 L533.61,57.11 L533.59,56.56 L533.58,56.00 Z" fill="none" stroke="#333" stroke-width="1.05" stroke-linejoin="round"/>
<path d="M626.22,88.40 L626.13,89.00 L626.04,89.60 L625.94,90.20 L625.86,90.79 L625.77,91.39 L625.68,91.99 L625.59,92.59 L625.51,93.19 L625.43,93.79 L625.34,94.38 L625.26,94.98 L625.19,95.58 L625.11,96.18 L625.04,96.78 L624.97,97.38 L624.91,97.98 L624.84,98.57 L624.78,99.17 L624.72,99.77 L624.66,100.37 L624.60,100.97 L624.53,101.57 L624.46,102.16 L624.39,102.76 L624.31,103.36 L624.22,103.96 L624.12,104.56 L624.01,105.16 L623.88,105.76 L623.74,106.35 L623.58,106.95 L623.44,107.55 L623.32,108.15 L623.20,108.75 L623.07,109.35 L622.94,109.94 L622.81,110.54 L622.68,111.14 L622.55,111.74 L622.43,112.34 L622.31,112.94 L622.19,113.54 L622.06,114.13 L621.93,114.73 L621.81,115.33 L621.68,115.93 L621.55,116.53 L621.42,117.13 L621.29,117.72 L621.16,118.32 L621.03,118.92 L620.90,119.52 L620.76,120.12 L620.63,120.72 L620.49,121.32 L620.35,121.91 L620.20,122.51 L620.05,123.11 L619.90,123.71 L619.75,124.31 L619.61,124.91 L619.46,125.50 L619.32,126.10 L619.18,126.70 L619.05,127.30 L618.92,127.90 L618.80,128.50 L618.68,129.09 L618.56,129.69 L618.43,130.29 L618.30,130.89 L618.17,131.49 L618.04,132.09 L617.92,132.69 L617.81,133.28 L617.72,133.88 L617.63,134.48 L617.57,135.08 L617.52,135.68 L617.50,136.28 L617.50,136.87 L617.50,137.47 L617.50,138.07 L617.50,138.67 L617.50,139.27 L617.50,139.87 L617.50,140.47 L617.50,141.06 L617.50,141.66 L617.50,142.26 L617.50,142.86 L617.50,143.46 L617.50,144.06 L617.50,144.65 L617.50,145.25 L617.50,145.85 L617.50,146.45 L617.50,147.05 L617.50,147.65 L617.50,148.25 L617.50,148.84 L617.50,149.44 L617.50,150.04 L617.50,150.64 L617.50,151.24 L617.50,151.84 L617.50,152.43 L617.50,153.03 L617.52,153.63 L617.56,154.23 L617.61,154.83 L617.66,155.43 L617.72,156.03 L617.77,156.62 L617.82,157.22 L617.86,157.82 L617.89,158.42 L617.90,159.02 L617.90,159.62 L617.88,160.21 L617.86,160.81 L617.84,161.41 L617.81,162.01 L617.77,162.61 L617.73,163.21 L617.68,163.81 L617.63,164.40 L617.58,165.00 L617.53,165.60 L617.47,166.20 L617.42,166.80 L617.36,167.40 L617.30,167.99 L617.24,168.59 L617.16,169.19 L617.08,169.79 L616.99,170.39 L616.89,170.99 L616.79,171.59 L616.69,172.18 L616.58,172.78 L616.48,173.38 L616.37,173.98 L616.27,174.58 L616.17,175.18 L616.07,175.77 L615.97,176.37 L615.87,176.97 L615.77,177.57 L615.67,178.17 L615.57,178.77 L615.47,179.37 L615.37,179.96 L615.27,180.56 L615.17,181.16 L615.08,181.76 L614.99,182.36 L614.90,182.96 L614.81,183.55 L614.72,184.15 L614.62,184.75 L614.53,185.35 L614.44,185.95 L614.35,186.55 L614.26,187.15 L614.18,187.74 L614.10,188.34 L614.02,188.94 L613.95,189.54 L613.89,190.14 L613.84,190.74 L613.80,191.33 L613.76,191.93 L613.72,192.53 L613.68,193.13 L613.64,193.73 L613.61,194.33 L613.57,194.93 L613.54,195.52 L613.51,196.12 L613.48,196.72 L613.46,197.32 L613.44,197.92 L613.42,198.52 L613.41,199.11 L613.40,199.71 L613.40,200.31 L613.43,200.91 L613.51,201.51 L613.63,202.11 L613.78,202.71 L613.96,203.30 L614.15,203.90 L614.34,204.50 L614.53,205.10 L614.75,205.70 L615.01,206.30 L615.29,206.89 L615.59,207.49 L615.88,208.09 L616.17,208.69 L616.44,209.29 L616.69,209.89 L616.94,210.48 L617.19,211.08 L617.43,211.68 L617.67,212.28 L617.91,212.88 L618.14,213.48 L618.36,214.08 L618.58,214.67 L618.80,215.27 L619.00,215.87 L619.21,216.47 L619.40,217.07 L619.60,217.67 L619.79,218.26 L619.97,218.86 L620.16,219.46 L620.35,220.06 L620.54,220.66 L620.73,221.26 L620.92,221.86 L621.12,222.45 L621.32,223.05 L621.52,223.65 L621.73,224.25 L621.93,224.85 L622.13,225.45 L622.33,226.04 L622.51,226.64 L622.69,227.24 L622.86,227.84 L623.01,228.44 L623.17,229.04 L623.31,229.64 L623.46,230.23 L623.63,230.83 L623.81,231.43 L623.99,232.03 L624.15,232.63 L624.31,233.23 L624.46,233.82 L624.59,234.42 L624.73,235.02 L624.86,235.62 L624.99,236.22 L625.11,236.82 L625.22,237.42 L625.31,238.01 L625.38,238.61 L625.41,239.21 L625.44,239.81 L625.47,240.41 L625.49,241.01 L625.51,241.60 L625.53,242.20 L625.54,242.80 L625.54,243.40 L629.46,243.40 L629.46,242.80 L629.47,242.20 L629.49,241.60 L629.51,241.01 L629.53,240.41 L629.56,239.81 L629.59,239.21 L629.62,238.61 L629.69,238.01 L629.78,237.42 L629.89,236.82 L630.01,236.22 L630.14,235.62 L630.27,235.02 L630.41,234.42 L630.54,233.82 L630.69,233.23 L630.85,232.63 L631.01,232.03 L631.19,231.43 L631.37,230.83 L631.54,230.23 L631.69,229.64 L631.83,229.04 L631.99,228.44 L632.14,227.84 L632.31,227.24 L632.49,226.64 L632.67,226.04 L632.87,225.45 L633.07,224.85 L633.27,224.25 L633.48,223.65 L633.68,223.05 L633.88,222.45 L634.08,221.86 L634.27,221.26 L634.46,220.66 L634.65,220.06 L634.84,219.46 L635.03,218.86 L635.21,218.26 L635.40,217.67 L635.60,217.07 L635.79,216.47 L636.00,215.87 L636.20,215.27 L636.42,214.67 L636.64,214.08 L636.86,213.48 L637.09,212.88 L637.33,212.28 L637.57,211.68 L637.81,211.08 L638.06,210.48 L638.31,209.89 L638.56,209.29 L638.83,208.69 L639.12,208.09 L639.41,207.49 L639.71,206.89 L639.99,206.30 L640.25,205.70 L640.47,205.10 L640.66,204.50 L640.85,203.90 L641.04,203.30 L641.22,202.71 L641.37,202.11 L641.49,201.51 L641.57,200.91 L641.60,200.31 L641.60,199.71 L641.59,199.11 L641.58,198.52 L641.56,197.92 L641.54,197.32 L641.52,196.72 L641.49,196.12 L641.46,195.52 L641.43,194.93 L641.39,194.33 L641.36,193.73 L641.32,193.13 L641.28,192.53 L641.24,191.93 L641.20,191.33 L641.16,190.74 L641.11,190.14 L641.05,189.54 L640.98,188.94 L640.90,188.34 L640.82,187.74 L640.74,187.15 L640.65,186.55 L640.56,185.95 L640.47,185.35 L640.38,184.75 L640.28,184.15 L640.19,183.55 L640.10,182.96 L640.01,182.36 L639.92,181.76 L639.83,181.16 L639.73,180.56 L639.63,179.96 L639.53,179.37 L639.43,178.77 L639.33,178.17 L639.23,177.57 L639.13,176.97 L639.03,176.37 L638.93,175.77 L638.83,175.18 L638.73,174.58 L638.63,173.98 L638.52,173.38 L638.42,172.78 L638.31,172.18 L638.21,171.59 L638.11,170.99 L638.01,170.39 L637.92,169.79 L637.84,169.19 L637.76,168.59 L637.70,167.99 L637.64,167.40 L637.58,166.80 L637.53,166.20 L637.47,165.60 L637.42,165.00 L637.37,164.40 L637.32,163.81 L637.27,163.21 L637.23,162.61 L637.19,162.01 L637.16,161.41 L637.14,160.81 L637.12,160.21 L637.10,159.62 L637.10,159.02 L637.11,158.42 L637.14,157.82 L637.18,157.22 L637.23,156.62 L637.28,156.03 L637.34,155.43 L637.39,154.83 L637.44,154.23 L637.48,153.63 L637.50,153.03 L637.50,152.43 L637.50,151.84 L637.50,151.24 L637.50,150.64 L637.50,150.04 L637.50,149.44 L637.50,148.84 L637.50,148.25 L637.50,147.65 L637.50,147.05 L637.50,146.45 L637.50,145.85 L637.50,145.25 L637.50,144.65 L637.50,144.06 L637.50,143.46 L637.50,142.86 L637.50,142.26 L637.50,141.66 L637.50,141.06 L637.50,140.47 L637.50,139.87 L637.50,139.27 L637.50,138.67 L637.50,138.07 L637.50,137.47 L637.50,136.87 L637.50,136.28 L637.48,135.68 L637.43,135.08 L637.37,134.48 L637.28,133.88 L637.19,133.28 L637.08,132.69 L636.96,132.09 L636.83,131.49 L636.70,130.89 L636.57,130.29 L636.44,129.69 L636.32,129.09 L636.20,128.50 L636.08,127.90 L635.95,127.30 L635.82,126.70 L635.68,126.10 L635.54,125.50 L635.39,124.91 L635.25,124.31 L635.10,123.71 L634.95,123.11 L634.80,122.51 L634.65,121.91 L634.51,121.32 L634.37,120.72 L634.24,120.12 L634.10,119.52 L633.97,118.92 L633.84,118.32 L633.71,117.72 L633.58,117.13 L633.45,116.53 L633.32,115.93 L633.19,115.33 L633.07,114.73 L632.94,114.13 L632.81,113.54 L632.69,112.94 L632.57,112.34 L632.45,111.74 L632.32,111.14 L632.19,110.54 L632.06,109.94 L631.93,109.35 L631.80,108.75 L631.68,108.15 L631.56,107.55 L631.42,106.95 L631.26,106.35 L631.12,105.76 L630.99,105.16 L630.88,104.56 L630.78,103.96 L630.69,103.36 L630.61,102.76 L630.54,102.16 L630.47,101.57 L630.40,100.97 L630.34,100.37 L630.28,99.77 L630.22,99.17 L630.16,98.57 L630.09,97.98 L630.03,97.38 L629.96,96.78 L629.89,96.18 L629.81,95.58 L629.74,94.98 L629.66,94.38 L629.57,93.79 L629.49,93.19 L629.41,92.59 L629.32,91.99 L629.23,91.39 L629.14,90.79 L629.06,90.20 L628.96,89.60 L628.87,89.00 L628.78,88.40 Z" fill="none" stroke="#333" stroke-width="1.05" stroke-linejoin="round"/>
<g fill="#1b9e77" fill-opacity="0.30" filter="url(#soft)">
<circle cx="433.4" cy="62.7" r="2.95"/>
<circle cx="441.2" cy="63.8" r="2.95"/>
<circle cx="431.6" cy="64.2" r="2.95"/>
<circle cx="435.6" cy="65.5" r="2.95"/>
<circle cx="441.4" cy="66.6" r="2.95"/>
<circle cx="442.6" cy="66.6" r="2.95"/>
<circle cx="432.7" cy="67.5" r="2.95"/>
<circle cx="436.9" cy="68.1" r="2.95"/>
<circle cx="438.5" cy="69.0" r="2.95"/>
<circle cx="443.6" cy="69.6" r="2.95"/>
<circle cx="434.9" cy="70.6" r="2.95"/>
<circle cx="442.9" cy="70.7" r="2.95"/>
<circle cx="433.1" cy="71.4" r="2.95"/>
<circle cx="440.5" cy="72.4" r="2.95"/>
<circle cx="434.4" cy="72.4" r="2.95"/>
<circle cx="437.7" cy="73.1" r="2.95"/>
<circle cx="436.0" cy="73.8" r="2.95"/>
<circle cx="443.1" cy="74.1" r="2.95"/>
<circle cx="430.7" cy="74.8" r="2.95"/>
<circle cx="440.5" cy="75.6" r="2.95"/>
<circle cx="435.4" cy="76.2" r="2.95"/>
<circle cx="438.6" cy="76.7" r="2.95"/>
<circle cx="443.4" cy="77.3" r="2.95"/>
<circle cx="442.2" cy="77.9" r="2.95"/>
<circle cx="431.7" cy="78.1" r="2.95"/>
<circle cx="432.3" cy="79.1" r="2.95"/>
<circle cx="432.9" cy="79.6" r="2.95"/>
<circle cx="442.1" cy="79.9" r="2.95"/>
<circle cx="435.2" cy="80.6" r="2.95"/>
<circle cx="436.5" cy="81.1" r="2.95"/>
<circle cx="441.9" cy="82.0" r="2.95"/>
<circle cx="438.8" cy="82.3" r="2.95"/>
<circle cx="442.5" cy="82.8" r="2.95"/>
<circle cx="440.7" cy="83.7" r="2.95"/>
<circle cx="437.4" cy="84.3" r="2.95"/>
<circle cx="436.6" cy="84.9" r="2.95"/>
<circle cx="443.5" cy="85.4" r="2.95"/>
<circle cx="438.3" cy="85.8" r="2.95"/>
<circle cx="434.5" cy="86.4" r="2.95"/>
<circle cx="430.9" cy="87.0" r="2.95"/>
<circle cx="437.2" cy="87.6" r="2.95"/>
<circle cx="431.4" cy="88.4" r="2.95"/>
<circle cx="429.7" cy="88.5" r="2.95"/>
<circle cx="440.3" cy="89.4" r="2.95"/>
<circle cx="431.9" cy="89.5" r="2.95"/>
<circle cx="439.2" cy="90.2" r="2.95"/>
<circle cx="442.4" cy="91.2" r="2.95"/>
<circle cx="437.2" cy="91.4" r="2.95"/>
<circle cx="440.8" cy="92.1" r="2.95"/>
<circle cx="432.6" cy="92.9" r="2.95"/>
<circle cx="430.5" cy="93.3" r="2.95"/>
<circle cx="440.1" cy="93.8" r="2.95"/>
<circle cx="443.0" cy="94.5" r="2.95"/>
<circle cx="439.6" cy="95.2" r="2.95"/>
<circle cx="443.3" cy="95.8" r="2.95"/>
<circle cx="433.3" cy="95.9" r="2.95"/>
<circle cx="434.2" cy="96.5" r="2.95"/>
<circle cx="436.2" cy="97.1" r="2.95"/>
<circle cx="442.7" cy="97.6" r="2.95"/>
<circle cx="435.5" cy="98.6" r="2.95"/>
<circle cx="438.4" cy="99.2" r="2.95"/>
<circle cx="439.3" cy="99.3" r="2.95"/>
<circle cx="434.0" cy="99.9" r="2.95"/>
<circle cx="431.4" cy="100.6" r="2.95"/>
<circle cx="434.0" cy="101.4" r="2.95"/>
<circle cx="433.9" cy="102.0" r="2.95"/>
<circle cx="439.3" cy="102.4" r="2.95"/>
<circle cx="440.0" cy="103.1" r="2.95"/>
<circle cx="437.8" cy="103.8" r="2.95"/>
<circle cx="441.5" cy="104.3" r="2.95"/>
<circle cx="434.6" cy="104.5" r="2.95"/>
<circle cx="432.7" cy="105.4" r="2.95"/>
<circle cx="441.1" cy="106.0" r="2.95"/>
<circle cx="433.0" cy="106.6" r="2.95"/>
<circle cx="438.1" cy="106.9" r="2.95"/>
<circle cx="442.0" cy="107.4" r="2.95"/>
<circle cx="439.5" cy="108.1" r="2.95"/>
<circle cx="429.8" cy="108.6" r="2.95"/>
<circle cx="430.0" cy="109.2" r="2.95"/>
<circle cx="432.0" cy="110.0" r="2.95"/>
<circle cx="430.4" cy="110.5" r="2.95"/>
<circle cx="430.2" cy="111.1" r="2.95"/>
<circle cx="443.3" cy="111.6" r="2.95"/>
<circle cx="429.6" cy="111.9" r="2.95"/>
<circle cx="434.8" cy="112.4" r="2.95"/>
<circle cx="439.5" cy="113.2" r="2.95"/>
<circle cx="440.9" cy="114.0" r="2.95"/>
<circle cx="433.6" cy="114.5" r="2.95"/>
<circle cx="438.7" cy="115.1" r="2.95"/>
<circle cx="438.5" cy="115.6" r="2.95"/>
<circle cx="433.7" cy="116.3" r="2.95"/>
<circle cx="433.7" cy="117.0" r="2.95"/>
<circle cx="438.1" cy="117.4" r="2.95"/>
<circle cx="439.0" cy="118.0" r="2.95"/>
<circle cx="434.8" cy="118.7" r="2.95"/>
<circle cx="433.3" cy="119.1" r="2.95"/>
<circle cx="440.2" cy="119.7" r="2.95"/>
<circle cx="441.4" cy="119.9" r="2.95"/>
<circle cx="435.1" cy="120.4" r="2.95"/>
<circle cx="435.8" cy="121.5" r="2.95"/>
<circle cx="441.6" cy="121.7" r="2.95"/>
<circle cx="440.0" cy="122.3" r="2.95"/>
<circle cx="437.1" cy="122.8" r="2.95"/>
<circle cx="436.1" cy="123.6" r="2.95"/>
<circle cx="431.9" cy="123.9" r="2.95"/>
<circle cx="441.7" cy="124.9" r="2.95"/>
<circle cx="435.0" cy="125.2" r="2.95"/>
<circle cx="437.3" cy="126.0" r="2.95"/>
<circle cx="439.7" cy="126.6" r="2.95"/>
<circle cx="430.3" cy="127.1" r="2.95"/>
<circle cx="430.9" cy="127.5" r="2.95"/>
<circle cx="436.9" cy="128.2" r="2.95"/>
<circle cx="431.2" cy="128.9" r="2.95"/>
<circle cx="441.2" cy="129.5" r="2.95"/>
<circle cx="432.1" cy="129.8" r="2.95"/>
<circle cx="434.3" cy="130.3" r="2.95"/>
<circle cx="442.9" cy="131.6" r="2.95"/>
<circle cx="432.4" cy="132.1" r="2.95"/>
<circle cx="437.6" cy="132.4" r="2.95"/>
<circle cx="435.7" cy="133.6" r="2.95"/>
<circle cx="430.1" cy="134.6" r="2.95"/>
<circle cx="439.1" cy="135.2" r="2.95"/>
<circle cx="436.3" cy="136.8" r="2.95"/>
<circle cx="431.2" cy="137.2" r="2.95"/>
<circle cx="433.0" cy="138.3" r="2.95"/>
<circle cx="429.8" cy="139.7" r="2.95"/>
<circle cx="435.7" cy="141.2" r="2.95"/>
<circle cx="437.9" cy="143.6" r="2.95"/>
<circle cx="432.2" cy="144.7" r="2.95"/>
<circle cx="442.5" cy="145.4" r="2.95"/>
<circle cx="437.6" cy="147.1" r="2.95"/>
<circle cx="435.9" cy="148.0" r="2.95"/>
<circle cx="430.8" cy="149.9" r="2.95"/>
<circle cx="431.6" cy="151.1" r="2.95"/>
<circle cx="434.6" cy="151.4" r="2.95"/>
<circle cx="439.9" cy="152.7" r="2.95"/>
<circle cx="431.1" cy="153.4" r="2.95"/>
<circle cx="440.8" cy="154.5" r="2.95"/>
<circle cx="441.8" cy="155.9" r="2.95"/>
<circle cx="436.7" cy="157.2" r="2.95"/>
<circle cx="430.1" cy="157.6" r="2.95"/>
<circle cx="436.7" cy="159.4" r="2.95"/>
</g>
<g fill="#d95f02" fill-opacity="0.30" filter="url(#soft)">
<circle cx="529.9" cy="58.8" r="2.95"/>
<circle cx="530.4" cy="60.0" r="2.95"/>
<circle cx="533.0" cy="62.4" r="2.95"/>
<circle cx="531.6" cy="65.9" r="2.95"/>
<circle cx="537.3" cy="67.0" r="2.95"/>
<circle cx="537.2" cy="68.2" r="2.95"/>
<circle cx="528.9" cy="70.0" r="2.95"/>
<circle cx="528.9" cy="71.4" r="2.95"/>
<circle cx="533.9" cy="73.5" r="2.95"/>
<circle cx="529.1" cy="74.2" r="2.95"/>
<circle cx="528.7" cy="76.0" r="2.95"/>
<circle cx="539.1" cy="76.6" r="2.95"/>
<circle cx="534.4" cy="78.2" r="2.95"/>
<circle cx="530.7" cy="79.2" r="2.95"/>
<circle cx="536.0" cy="79.9" r="2.95"/>
<circle cx="532.6" cy="81.1" r="2.95"/>
<circle cx="527.0" cy="81.6" r="2.95"/>
<circle cx="533.7" cy="82.3" r="2.95"/>
<circle cx="530.2" cy="83.7" r="2.95"/>
<circle cx="539.4" cy="84.1" r="2.95"/>
<circle cx="529.7" cy="85.3" r="2.95"/>
<circle cx="535.0" cy="86.3" r="2.95"/>
<circle cx="533.3" cy="87.2" r="2.95"/>
<circle cx="535.4" cy="88.1" r="2.95"/>
<circle cx="532.0" cy="88.4" r="2.95"/>
<circle cx="530.9" cy="89.6" r="2.95"/>
<circle cx="526.1" cy="90.1" r="2.95"/>
<circle cx="535.8" cy="90.9" r="2.95"/>
<circle cx="535.7" cy="91.5" r="2.95"/>
<circle cx="526.9" cy="92.5" r="2.95"/>
<circle cx="528.2" cy="92.8" r="2.95"/>
<circle cx="537.6" cy="93.3" r="2.95"/>
<circle cx="534.3" cy="94.5" r="2.95"/>
<circle cx="534.7" cy="95.0" r="2.95"/>
<circle cx="526.0" cy="95.7" r="2.95"/>
<circle cx="531.8" cy="96.0" r="2.95"/>
<circle cx="528.7" cy="96.6" r="2.95"/>
<circle cx="538.4" cy="97.5" r="2.95"/>
<circle cx="533.4" cy="98.1" r="2.95"/>
<circle cx="530.5" cy="98.7" r="2.95"/>
<circle cx="528.0" cy="99.3" r="2.95"/>
<circle cx="525.8" cy="99.9" r="2.95"/>
<circle cx="525.3" cy="100.2" r="2.95"/>
<circle cx="531.0" cy="101.0" r="2.95"/>
<circle cx="528.4" cy="101.5" r="2.95"/>
<circle cx="526.7" cy="102.3" r="2.95"/>
<circle cx="531.5" cy="102.8" r="2.95"/>
<circle cx="531.4" cy="103.5" r="2.95"/>
<circle cx="538.2" cy="104.1" r="2.95"/>
<circle cx="526.2" cy="104.8" r="2.95"/>
<circle cx="537.5" cy="105.4" r="2.95"/>
<circle cx="535.2" cy="105.5" r="2.95"/>
<circle cx="533.0" cy="106.5" r="2.95"/>
<circle cx="536.5" cy="106.9" r="2.95"/>
<circle cx="538.5" cy="107.4" r="2.95"/>
<circle cx="529.8" cy="108.2" r="2.95"/>
<circle cx="527.8" cy="109.0" r="2.95"/>
<circle cx="535.6" cy="109.6" r="2.95"/>
<circle cx="530.3" cy="109.8" r="2.95"/>
<circle cx="531.3" cy="110.4" r="2.95"/>
<circle cx="539.0" cy="111.3" r="2.95"/>
<circle cx="530.8" cy="112.1" r="2.95"/>
<circle cx="533.9" cy="112.2" r="2.95"/>
<circle cx="527.3" cy="112.8" r="2.95"/>
<circle cx="525.5" cy="113.7" r="2.95"/>
<circle cx="536.7" cy="114.3" r="2.95"/>
<circle cx="531.1" cy="115.0" r="2.95"/>
<circle cx="527.0" cy="115.2" r="2.95"/>
<circle cx="534.7" cy="116.0" r="2.95"/>
<circle cx="534.0" cy="116.8" r="2.95"/>
<circle cx="538.8" cy="117.1" r="2.95"/>
<circle cx="526.6" cy="117.8" r="2.95"/>
<circle cx="537.9" cy="118.1" r="2.95"/>
<circle cx="529.5" cy="119.2" r="2.95"/>
<circle cx="536.8" cy="119.6" r="2.95"/>
<circle cx="535.1" cy="120.1" r="2.95"/>
<circle cx="529.4" cy="120.9" r="2.95"/>
<circle cx="535.5" cy="121.6" r="2.95"/>
<circle cx="528.5" cy="122.2" r="2.95"/>
<circle cx="527.2" cy="122.5" r="2.95"/>
<circle cx="529.3" cy="123.3" r="2.95"/>
<circle cx="536.3" cy="123.7" r="2.95"/>
<circle cx="533.6" cy="124.6" r="2.95"/>
<circle cx="534.9" cy="125.2" r="2.95"/>
<circle cx="527.4" cy="125.7" r="2.95"/>
<circle cx="525.8" cy="126.4" r="2.95"/>
<circle cx="526.4" cy="126.8" r="2.95"/>
<circle cx="525.4" cy="127.5" r="2.95"/>
<circle cx="530.1" cy="127.8" r="2.95"/>
<circle cx="533.1" cy="128.7" r="2.95"/>
<circle cx="525.7" cy="129.1" r="2.95"/>
<circle cx="538.8" cy="129.9" r="2.95"/>
<circle cx="538.6" cy="130.1" r="2.95"/>
<circle cx="532.1" cy="131.0" r="2.95"/>
<circle cx="538.0" cy="131.7" r="2.95"/>
<circle cx="527.9" cy="132.4" r="2.95"/>
<circle cx="527.6" cy="133.0" r="2.95"/>
<circle cx="529.9" cy="133.5" r="2.95"/>
<circle cx="527.5" cy="134.4" r="2.95"/>
<circle cx="534.6" cy="135.1" r="2.95"/>
<circle cx="532.3" cy="135.8" r="2.95"/>
<circle cx="532.2" cy="136.4" r="2.95"/>
<circle cx="532.8" cy="136.9" r="2.95"/>
<circle cx="536.3" cy="138.0" r="2.95"/>
<circle cx="528.1" cy="138.4" r="2.95"/>
<circle cx="539.2" cy="140.0" r="2.95"/>
<circle cx="538.1" cy="140.4" r="2.95"/>
<circle cx="537.0" cy="141.2" r="2.95"/>
<circle cx="532.7" cy="142.3" r="2.95"/>
<circle cx="536.1" cy="142.9" r="2.95"/>
<circle cx="536.5" cy="144.8" r="2.95"/>
<circle cx="526.4" cy="146.1" r="2.95"/>
<circle cx="536.9" cy="147.2" r="2.95"/>
<circle cx="537.5" cy="148.3" r="2.95"/>
<circle cx="534.2" cy="150.5" r="2.95"/>
<circle cx="531.8" cy="151.2" r="2.95"/>
<circle cx="537.8" cy="153.7" r="2.95"/>
<circle cx="532.5" cy="155.8" r="2.95"/>
<circle cx="533.7" cy="56.0" r="2.95" fill-opacity="0.40"/>
<circle cx="526.3" cy="60.0" r="2.95" fill-opacity="0.40"/>
<circle cx="524.4" cy="67.2" r="2.95" fill-opacity="0.40"/>
<circle cx="526.9" cy="163.9" r="2.95" fill-opacity="0.40"/>
<circle cx="525.5" cy="170.7" r="2.95" fill-opacity="0.40"/>
<circle cx="538.6" cy="168.3" r="2.95" fill-opacity="0.40"/>
<circle cx="539.1" cy="170.7" r="2.95" fill-opacity="0.40"/>
<circle cx="534.5" cy="189.0" r="2.95" fill-opacity="0.40"/>
<circle cx="529.1" cy="200.3" r="2.95" fill-opacity="0.40"/>
</g>
<g fill="#7570b3" fill-opacity="0.30" filter="url(#soft)">
<circle cx="632.2" cy="89.9" r="2.95"/>
<circle cx="633.0" cy="92.0" r="2.95"/>
<circle cx="630.1" cy="96.3" r="2.95"/>
<circle cx="631.6" cy="99.2" r="2.95"/>
<circle cx="627.0" cy="101.6" r="2.95"/>
<circle cx="630.3" cy="104.6" r="2.95"/>
<circle cx="634.6" cy="105.0" r="2.95"/>
<circle cx="622.8" cy="108.6" r="2.95"/>
<circle cx="622.9" cy="109.8" r="2.95"/>
<circle cx="628.8" cy="112.0" r="2.95"/>
<circle cx="620.7" cy="113.2" r="2.95"/>
<circle cx="632.7" cy="114.7" r="2.95"/>
<circle cx="631.9" cy="116.5" r="2.95"/>
<circle cx="623.1" cy="118.0" r="2.95"/>
<circle cx="621.0" cy="119.8" r="2.95"/>
<circle cx="628.3" cy="121.5" r="2.95"/>
<circle cx="627.8" cy="123.3" r="2.95"/>
<circle cx="631.5" cy="123.8" r="2.95"/>
<circle cx="626.7" cy="125.6" r="2.95"/>
<circle cx="625.3" cy="127.0" r="2.95"/>
<circle cx="621.4" cy="128.7" r="2.95"/>
<circle cx="627.1" cy="129.9" r="2.95"/>
<circle cx="625.8" cy="131.0" r="2.95"/>
<circle cx="626.6" cy="132.3" r="2.95"/>
<circle cx="624.3" cy="133.3" r="2.95"/>
<circle cx="623.6" cy="134.9" r="2.95"/>
<circle cx="625.9" cy="136.1" r="2.95"/>
<circle cx="623.4" cy="137.0" r="2.95"/>
<circle cx="624.6" cy="137.6" r="2.95"/>
<circle cx="628.4" cy="139.1" r="2.95"/>
<circle cx="623.3" cy="140.0" r="2.95"/>
<circle cx="626.3" cy="141.0" r="2.95"/>
<circle cx="622.3" cy="142.2" r="2.95"/>
<circle cx="630.3" cy="143.9" r="2.95"/>
<circle cx="621.4" cy="144.5" r="2.95"/>
<circle cx="625.2" cy="145.6" r="2.95"/>
<circle cx="633.6" cy="146.7" r="2.95"/>
<circle cx="629.3" cy="147.5" r="2.95"/>
<circle cx="626.2" cy="149.0" r="2.95"/>
<circle cx="627.7" cy="149.9" r="2.95"/>
<circle cx="625.7" cy="151.5" r="2.95"/>
<circle cx="632.9" cy="152.2" r="2.95"/>
<circle cx="621.7" cy="153.6" r="2.95"/>
<circle cx="630.8" cy="154.5" r="2.95"/>
<circle cx="631.0" cy="155.2" r="2.95"/>
<circle cx="622.4" cy="155.7" r="2.95"/>
<circle cx="629.9" cy="156.9" r="2.95"/>
<circle cx="630.4" cy="157.9" r="2.95"/>
<circle cx="629.0" cy="159.5" r="2.95"/>
<circle cx="625.5" cy="159.9" r="2.95"/>
<circle cx="632.6" cy="161.4" r="2.95"/>
<circle cx="626.5" cy="162.1" r="2.95"/>
<circle cx="620.9" cy="163.2" r="2.95"/>
<circle cx="634.1" cy="164.4" r="2.95"/>
<circle cx="632.8" cy="164.9" r="2.95"/>
<circle cx="630.1" cy="165.7" r="2.95"/>
<circle cx="629.9" cy="166.8" r="2.95"/>
<circle cx="622.7" cy="168.3" r="2.95"/>
<circle cx="630.6" cy="168.8" r="2.95"/>
<circle cx="623.8" cy="169.4" r="2.95"/>
<circle cx="624.8" cy="170.2" r="2.95"/>
<circle cx="634.4" cy="171.0" r="2.95"/>
<circle cx="628.6" cy="172.0" r="2.95"/>
<circle cx="627.6" cy="173.1" r="2.95"/>
<circle cx="628.0" cy="173.8" r="2.95"/>
<circle cx="625.7" cy="174.9" r="2.95"/>
<circle cx="632.3" cy="175.9" r="2.95"/>
<circle cx="633.3" cy="176.3" r="2.95"/>
<circle cx="624.4" cy="176.9" r="2.95"/>
<circle cx="633.6" cy="178.1" r="2.95"/>
<circle cx="633.8" cy="178.3" r="2.95"/>
<circle cx="629.4" cy="179.6" r="2.95"/>
<circle cx="623.5" cy="180.4" r="2.95"/>
<circle cx="631.8" cy="181.1" r="2.95"/>
<circle cx="633.9" cy="181.4" r="2.95"/>
<circle cx="621.0" cy="182.4" r="2.95"/>
<circle cx="624.5" cy="183.3" r="2.95"/>
<circle cx="633.2" cy="183.8" r="2.95"/>
<circle cx="631.0" cy="184.8" r="2.95"/>
<circle cx="629.0" cy="185.0" r="2.95"/>
<circle cx="627.1" cy="186.0" r="2.95"/>
<circle cx="629.1" cy="186.7" r="2.95"/>
<circle cx="621.8" cy="187.6" r="2.95"/>
<circle cx="627.9" cy="188.0" r="2.95"/>
<circle cx="628.1" cy="188.6" r="2.95"/>
<circle cx="625.0" cy="189.6" r="2.95"/>
<circle cx="621.3" cy="189.9" r="2.95"/>
<circle cx="632.1" cy="190.7" r="2.95"/>
<circle cx="629.7" cy="191.4" r="2.95"/>
<circle cx="627.4" cy="192.3" r="2.95"/>
<circle cx="631.2" cy="192.8" r="2.95"/>
<circle cx="623.7" cy="193.5" r="2.95"/>
<circle cx="628.7" cy="194.3" r="2.95"/>
<circle cx="632.4" cy="195.0" r="2.95"/>
<circle cx="622.1" cy="195.8" r="2.95"/>
<circle cx="626.9" cy="196.2" r="2.95"/>
<circle cx="634.3" cy="196.9" r="2.95"/>
<circle cx="626.2" cy="197.2" r="2.95"/>
<circle cx="624.2" cy="198.0" r="2.95"/>
<circle cx="622.5" cy="198.7" r="2.95"/>
<circle cx="621.2" cy="199.4" r="2.95"/>
<circle cx="620.5" cy="200.2" r="2.95"/>
<circle cx="629.5" cy="200.7" r="2.95"/>
<circle cx="620.7" cy="201.7" r="2.95"/>
<circle cx="632.0" cy="202.5" r="2.95"/>
<circle cx="631.4" cy="202.7" r="2.95"/>
<circle cx="621.6" cy="203.6" r="2.95"/>
<circle cx="633.1" cy="204.5" r="2.95"/>
<circle cx="626.1" cy="204.9" r="2.95"/>
<circle cx="625.4" cy="205.8" r="2.95"/>
<circle cx="630.9" cy="206.9" r="2.95"/>
<circle cx="630.5" cy="207.5" r="2.95"/>
<circle cx="620.6" cy="208.8" r="2.95"/>
<circle cx="623.0" cy="209.3" r="2.95"/>
<circle cx="625.0" cy="210.4" r="2.95"/>
<circle cx="628.5" cy="210.9" r="2.95"/>
<circle cx="628.2" cy="211.8" r="2.95"/>
<circle cx="627.5" cy="213.2" r="2.95"/>
<circle cx="629.3" cy="213.9" r="2.95"/>
<circle cx="622.6" cy="215.2" r="2.95"/>
<circle cx="629.8" cy="215.6" r="2.95"/>
<circle cx="627.3" cy="216.5" r="2.95"/>
<circle cx="633.5" cy="218.1" r="2.95"/>
<circle cx="622.0" cy="218.6" r="2.95"/>
<circle cx="631.7" cy="219.7" r="2.95"/>
<circle cx="631.1" cy="221.2" r="2.95"/>
<circle cx="626.8" cy="222.7" r="2.95"/>
<circle cx="624.1" cy="223.6" r="2.95"/>
<circle cx="623.9" cy="225.4" r="2.95"/>
<circle cx="632.5" cy="226.3" r="2.95"/>
<circle cx="624.8" cy="227.4" r="2.95"/>
<circle cx="634.1" cy="229.2" r="2.95"/>
<circle cx="634.4" cy="230.9" r="2.95"/>
<circle cx="622.1" cy="231.7" r="2.95"/>
<circle cx="624.1" cy="234.1" r="2.95"/>
<circle cx="623.2" cy="235.1" r="2.95"/>
<circle cx="621.8" cy="238.5" r="2.95"/>
<circle cx="625.1" cy="239.7" r="2.95"/>
<circle cx="633.8" cy="241.1" r="2.95"/>
<circle cx="633.0" cy="88.5" r="2.95" fill-opacity="0.40"/>
</g>
<line x1="436.60" y1="61.70" x2="436.60" y2="94.90" stroke="#595959" stroke-width="1.1"/>
<line x1="436.60" y1="121.00" x2="436.60" y2="160.40" stroke="#595959" stroke-width="1.1"/>
<rect x="422.35" y="94.90" width="28.50" height="26.10" fill="#fff" fill-opacity="0.15" stroke="#595959" stroke-width="1.1"/>
<line x1="422.35" y1="107.80" x2="450.85" y2="107.80" stroke="#3d3d3d" stroke-width="1.8"/>
<line x1="532.30" y1="56.00" x2="532.30" y2="97.10" stroke="#595959" stroke-width="1.1"/>
<line x1="532.30" y1="130.60" x2="532.30" y2="160.00" stroke="#595959" stroke-width="1.1"/>
<rect x="518.05" y="97.10" width="28.50" height="33.50" fill="#fff" fill-opacity="0.15" stroke="#595959" stroke-width="1.1"/>
<line x1="518.05" y1="116.80" x2="546.55" y2="116.80" stroke="#3d3d3d" stroke-width="1.8"/>
<line x1="627.50" y1="88.40" x2="627.50" y2="143.30" stroke="#595959" stroke-width="1.1"/>
<line x1="627.50" y1="201.20" x2="627.50" y2="243.40" stroke="#595959" stroke-width="1.1"/>
<rect x="613.25" y="143.30" width="28.50" height="57.90" fill="#fff" fill-opacity="0.15" stroke="#595959" stroke-width="1.1"/>
<line x1="613.25" y1="179.60" x2="641.75" y2="179.60" stroke="#3d3d3d" stroke-width="1.8"/>
<path d="M532.30,13.40 L532.30,11.40 L627.50,11.40 L627.50,13.40" fill="none" stroke="#333" stroke-width="1"/>
<text x="581.75" y="13.30" font-size="15.4" letter-spacing="-0.3" fill="#595959" text-anchor="middle" font-family="Liberation Serif, serif">***</text>
<path d="M436.60,27.50 L436.60,25.50 L627.50,25.50 L627.50,27.50" fill="none" stroke="#333" stroke-width="1"/>
<text x="528.55" y="28.60" font-size="15.4" letter-spacing="-0.3" fill="#595959" text-anchor="middle" font-family="Liberation Serif, serif">***</text>
<path d="M436.60,41.80 L436.60,39.80 L532.30,39.80 L532.30,41.80" fill="none" stroke="#333" stroke-width="1"/>
<text x="485.40" y="41.80" font-size="15.4" letter-spacing="-0.3" fill="#595959" text-anchor="middle" font-family="Liberation Serif, serif">**</text>
<line x1="23.3" y1="496.15" x2="328.6" y2="496.15" stroke="#ededed" stroke-width="0.6"/>
<line x1="23.3" y1="447.05" x2="328.6" y2="447.05" stroke="#ededed" stroke-width="0.6"/>
<line x1="23.3" y1="397.95" x2="328.6" y2="397.95" stroke="#ededed" stroke-width="0.6"/>
<line x1="23.3" y1="348.85" x2="328.6" y2="348.85" stroke="#ededed" stroke-width="0.6"/>
<line x1="23.3" y1="299.75" x2="328.6" y2="299.75" stroke="#ededed" stroke-width="0.6"/>
<line x1="23.3" y1="520.70" x2="328.6" y2="520.70" stroke="#e8e8e8" stroke-width="0.9"/>
<line x1="23.3" y1="471.60" x2="328.6" y2="471.60" stroke="#e8e8e8" stroke-width="0.9"/>
<line x1="23.3" y1="422.50" x2="328.6" y2="422.50" stroke="#e8e8e8" stroke-width="0.9"/>
<line x1="23.3" y1="373.40" x2="328.6" y2="373.40" stroke="#e8e8e8" stroke-width="0.9"/>
<line x1="23.3" y1="324.30" x2="328.6" y2="324.30" stroke="#e8e8e8" stroke-width="0.9"/>
<line x1="80.40" y1="289.0" x2="80.40" y2="545.5" stroke="#e8e8e8" stroke-width="0.9"/>
<line x1="175.70" y1="289.0" x2="175.70" y2="545.5" stroke="#e8e8e8" stroke-width="0.9"/>
<line x1="271.40" y1="289.0" x2="271.40" y2="545.5" stroke="#e8e8e8" stroke-width="0.9"/>
<line x1="20.7" y1="520.70" x2="23.3" y2="520.70" stroke="#333" stroke-width="1"/>
<text transform="translate(18.10,523.40) scale(0.960,1)" font-size="7.00" fill="#707070" text-anchor="end" text-rendering="geometricPrecision" font-family="Liberation Serif, serif">20</text>
<line x1="20.7" y1="471.60" x2="23.3" y2="471.60" stroke="#333" stroke-width="1"/>
<text transform="translate(18.10,474.30) scale(0.960,1)" font-size="7.00" fill="#707070" text-anchor="end" text-rendering="geometricPrecision" font-family="Liberation Serif, serif">30</text>
<line x1="20.7" y1="422.50" x2="23.3" y2="422.50" stroke="#333" stroke-width="1"/>
<text transform="translate(18.10,425.20) scale(0.960,1)" font-size="7.00" fill="#707070" text-anchor="end" text-rendering="geometricPrecision" font-family="Liberation Serif, serif">40</text>
<line x1="20.7" y1="373.40" x2="23.3" y2="373.40" stroke="#333" stroke-width="1"/>
<text transform="translate(18.10,376.10) scale(0.960,1)" font-size="7.00" fill="#707070" text-anchor="end" text-rendering="geometricPrecision" font-family="Liberation Serif, serif">50</text>
<line x1="20.7" y1="324.30" x2="23.3" y2="324.30" stroke="#333" stroke-width="1"/>
<text transform="translate(18.10,327.00) scale(0.960,1)" font-size="7.00" fill="#707070" text-anchor="end" text-rendering="geometricPrecision" font-family="Liberation Serif, serif">60</text>
<line x1="80.40" y1="545.5" x2="80.40" y2="547.9" stroke="#333" stroke-width="1"/>
<text transform="translate(79.50,555.00) scale(0.930,1)" font-size="11.20" fill="#4d4d4d" text-anchor="middle" text-rendering="geometricPrecision" font-family="Liberation Serif, serif">Control</text>
<line x1="175.70" y1="545.5" x2="175.70" y2="547.9" stroke="#333" stroke-width="1"/>
<text transform="translate(173.70,555.00) scale(0.930,1)" font-size="11.20" fill="#4d4d4d" text-anchor="middle" text-rendering="geometricPrecision" font-family="Liberation Serif, serif">Eyes without ON</text>
<line x1="271.40" y1="545.5" x2="271.40" y2="547.9" stroke="#333" stroke-width="1"/>
<text transform="translate(264.70,555.00) scale(0.930,1)" font-size="11.20" fill="#4d4d4d" text-anchor="middle" text-rendering="geometricPrecision" font-family="Liberation Serif, serif">Eyes with ON</text>
<text transform="translate(7.4,412.2) rotate(-90)" font-size="10.45" fill="#000" text-anchor="middle" text-rendering="geometricPrecision" font-family="Liberation Serif, serif">SVC density, %</text>
<path d="M80.10,333.60 L80.10,334.03 L80.10,334.45 L80.10,334.88 L80.10,335.31 L80.09,335.74 L80.09,336.16 L80.09,336.59 L80.08,337.02 L80.08,337.44 L80.08,337.87 L80.07,338.30 L80.07,338.72 L80.06,339.15 L80.05,339.58 L80.05,340.01 L80.04,340.43 L80.04,340.86 L80.03,341.29 L80.02,341.71 L80.01,342.14 L80.01,342.57 L80.00,342.99 L79.99,343.42 L79.98,343.85 L79.97,344.28 L79.96,344.70 L79.95,345.13 L79.93,345.56 L79.92,345.98 L79.90,346.41 L79.88,346.84 L79.86,347.26 L79.84,347.69 L79.82,348.12 L79.79,348.55 L79.76,348.97 L79.72,349.40 L79.68,349.83 L79.64,350.25 L79.58,350.68 L79.50,351.11 L79.42,351.54 L79.32,351.96 L79.21,352.39 L79.10,352.82 L78.97,353.24 L78.85,353.67 L78.72,354.10 L78.59,354.52 L78.45,354.95 L78.32,355.38 L78.18,355.81 L78.02,356.23 L77.86,356.66 L77.69,357.09 L77.51,357.51 L77.33,357.94 L77.15,358.37 L76.95,358.79 L76.76,359.22 L76.56,359.65 L76.37,360.08 L76.22,360.50 L76.07,360.93 L75.91,361.36 L75.75,361.78 L75.59,362.21 L75.42,362.64 L75.24,363.06 L75.07,363.49 L74.88,363.92 L74.70,364.35 L74.50,364.77 L74.31,365.20 L74.10,365.63 L73.89,366.05 L73.67,366.48 L73.44,366.91 L73.21,367.34 L72.97,367.76 L72.73,368.19 L72.48,368.62 L72.24,369.04 L71.99,369.47 L71.74,369.90 L71.49,370.32 L71.23,370.75 L70.97,371.18 L70.70,371.61 L70.43,372.03 L70.16,372.46 L69.88,372.89 L69.61,373.31 L69.33,373.74 L69.05,374.17 L68.78,374.59 L68.50,375.02 L68.24,375.45 L67.98,375.88 L67.72,376.30 L67.47,376.73 L67.23,377.16 L66.99,377.58 L66.76,378.01 L66.53,378.44 L66.30,378.86 L66.07,379.29 L65.83,379.72 L65.60,380.15 L65.36,380.57 L65.12,381.00 L64.86,381.43 L64.61,381.85 L64.34,382.28 L64.06,382.71 L63.77,383.14 L63.45,383.56 L63.12,383.99 L62.78,384.42 L62.42,384.84 L62.06,385.27 L61.70,385.70 L61.34,386.12 L60.99,386.55 L60.64,386.98 L60.32,387.41 L60.01,387.83 L59.72,388.26 L59.42,388.69 L59.10,389.11 L58.77,389.54 L58.44,389.97 L58.12,390.39 L57.80,390.82 L57.51,391.25 L57.23,391.68 L56.99,392.10 L56.78,392.53 L56.61,392.96 L56.48,393.38 L56.41,393.81 L56.40,394.24 L56.43,394.66 L56.49,395.09 L56.58,395.52 L56.69,395.95 L56.83,396.37 L56.99,396.80 L57.16,397.23 L57.34,397.65 L57.53,398.08 L57.72,398.51 L57.92,398.94 L58.12,399.36 L58.31,399.79 L58.49,400.22 L58.69,400.64 L58.90,401.07 L59.12,401.50 L59.35,401.92 L59.58,402.35 L59.83,402.78 L60.09,403.21 L60.35,403.63 L60.62,404.06 L60.89,404.49 L61.17,404.91 L61.46,405.34 L61.74,405.77 L62.03,406.19 L62.32,406.62 L62.62,407.05 L62.91,407.48 L63.20,407.90 L63.50,408.33 L63.82,408.76 L64.15,409.18 L64.48,409.61 L64.83,410.04 L65.18,410.46 L65.53,410.89 L65.88,411.32 L66.23,411.75 L66.57,412.17 L66.90,412.60 L67.22,413.03 L67.53,413.45 L67.82,413.88 L68.10,414.31 L68.36,414.74 L68.62,415.16 L68.87,415.59 L69.11,416.02 L69.35,416.44 L69.58,416.87 L69.81,417.30 L70.04,417.72 L70.26,418.15 L70.49,418.58 L70.71,419.01 L70.93,419.43 L71.16,419.86 L71.39,420.29 L71.62,420.71 L71.85,421.14 L72.08,421.57 L72.31,421.99 L72.55,422.42 L72.78,422.85 L73.01,423.28 L73.24,423.70 L73.47,424.13 L73.70,424.56 L73.92,424.98 L74.14,425.41 L74.35,425.84 L74.56,426.26 L74.76,426.69 L74.95,427.12 L75.15,427.55 L75.34,427.97 L75.52,428.40 L75.71,428.83 L75.89,429.25 L76.07,429.68 L76.25,430.11 L76.43,430.54 L76.65,430.96 L76.87,431.39 L77.08,431.82 L77.29,432.24 L77.48,432.67 L77.67,433.10 L77.85,433.52 L78.03,433.95 L78.21,434.38 L78.38,434.81 L78.55,435.23 L78.71,435.66 L78.86,436.09 L79.01,436.51 L79.13,436.94 L79.25,437.37 L79.35,437.79 L79.44,438.22 L79.52,438.65 L79.60,439.08 L79.68,439.50 L79.75,439.93 L79.82,440.36 L79.87,440.78 L79.92,441.21 L79.96,441.64 L80.00,442.06 L80.03,442.49 L80.06,442.92 L80.08,443.35 L80.09,443.77 L80.10,444.20 L80.70,444.20 L80.71,443.77 L80.72,443.35 L80.74,442.92 L80.77,442.49 L80.80,442.06 L80.84,441.64 L80.88,441.21 L80.93,440.78 L80.98,440.36 L81.05,439.93 L81.12,439.50 L81.20,439.08 L81.28,438.65 L81.36,438.22 L81.45,437.79 L81.55,437.37 L81.67,436.94 L81.79,436.51 L81.94,436.09 L82.09,435.66 L82.25,435.23 L82.42,434.81 L82.59,434.38 L82.77,433.95 L82.95,433.52 L83.13,433.10 L83.32,432.67 L83.51,432.24 L83.72,431.82 L83.93,431.39 L84.15,430.96 L84.37,430.54 L84.55,430.11 L84.73,429.68 L84.91,429.25 L85.09,428.83 L85.28,428.40 L85.46,427.97 L85.65,427.55 L85.85,427.12 L86.04,426.69 L86.24,426.26 L86.45,425.84 L86.66,425.41 L86.88,424.98 L87.10,424.56 L87.33,424.13 L87.56,423.70 L87.79,423.28 L88.02,422.85 L88.25,422.42 L88.49,421.99 L88.72,421.57 L88.95,421.14 L89.18,420.71 L89.41,420.29 L89.64,419.86 L89.87,419.43 L90.09,419.01 L90.31,418.58 L90.54,418.15 L90.76,417.72 L90.99,417.30 L91.22,416.87 L91.45,416.44 L91.69,416.02 L91.93,415.59 L92.18,415.16 L92.44,414.74 L92.70,414.31 L92.98,413.88 L93.27,413.45 L93.58,413.03 L93.90,412.60 L94.23,412.17 L94.57,411.75 L94.92,411.32 L95.27,410.89 L95.62,410.46 L95.97,410.04 L96.32,409.61 L96.65,409.18 L96.98,408.76 L97.30,408.33 L97.60,407.90 L97.89,407.48 L98.18,407.05 L98.48,406.62 L98.77,406.19 L99.06,405.77 L99.34,405.34 L99.63,404.91 L99.91,404.49 L100.18,404.06 L100.45,403.63 L100.71,403.21 L100.97,402.78 L101.22,402.35 L101.45,401.92 L101.68,401.50 L101.90,401.07 L102.11,400.64 L102.31,400.22 L102.49,399.79 L102.68,399.36 L102.88,398.94 L103.08,398.51 L103.27,398.08 L103.46,397.65 L103.64,397.23 L103.81,396.80 L103.97,396.37 L104.11,395.95 L104.22,395.52 L104.31,395.09 L104.37,394.66 L104.40,394.24 L104.39,393.81 L104.32,393.38 L104.19,392.96 L104.02,392.53 L103.81,392.10 L103.57,391.68 L103.29,391.25 L103.00,390.82 L102.68,390.39 L102.36,389.97 L102.03,389.54 L101.70,389.11 L101.38,388.69 L101.08,388.26 L100.79,387.83 L100.48,387.41 L100.16,386.98 L99.81,386.55 L99.46,386.12 L99.10,385.70 L98.74,385.27 L98.38,384.84 L98.02,384.42 L97.68,383.99 L97.35,383.56 L97.03,383.14 L96.74,382.71 L96.46,382.28 L96.19,381.85 L95.94,381.43 L95.68,381.00 L95.44,380.57 L95.20,380.15 L94.97,379.72 L94.73,379.29 L94.50,378.86 L94.27,378.44 L94.04,378.01 L93.81,377.58 L93.57,377.16 L93.33,376.73 L93.08,376.30 L92.82,375.88 L92.56,375.45 L92.30,375.02 L92.02,374.59 L91.75,374.17 L91.47,373.74 L91.19,373.31 L90.92,372.89 L90.64,372.46 L90.37,372.03 L90.10,371.61 L89.83,371.18 L89.57,370.75 L89.31,370.32 L89.06,369.90 L88.81,369.47 L88.56,369.04 L88.32,368.62 L88.07,368.19 L87.83,367.76 L87.59,367.34 L87.36,366.91 L87.13,366.48 L86.91,366.05 L86.70,365.63 L86.49,365.20 L86.30,364.77 L86.10,364.35 L85.92,363.92 L85.73,363.49 L85.56,363.06 L85.38,362.64 L85.21,362.21 L85.05,361.78 L84.89,361.36 L84.73,360.93 L84.58,360.50 L84.43,360.08 L84.24,359.65 L84.04,359.22 L83.85,358.79 L83.65,358.37 L83.47,357.94 L83.29,357.51 L83.11,357.09 L82.94,356.66 L82.78,356.23 L82.62,355.81 L82.48,355.38 L82.35,354.95 L82.21,354.52 L82.08,354.10 L81.95,353.67 L81.83,353.24 L81.70,352.82 L81.59,352.39 L81.48,351.96 L81.38,351.54 L81.30,351.11 L81.22,350.68 L81.16,350.25 L81.12,349.83 L81.08,349.40 L81.04,348.97 L81.01,348.55 L80.98,348.12 L80.96,347.69 L80.94,347.26 L80.92,346.84 L80.90,346.41 L80.88,345.98 L80.87,345.56 L80.85,345.13 L80.84,344.70 L80.83,344.28 L80.82,343.85 L80.81,343.42 L80.80,342.99 L80.79,342.57 L80.79,342.14 L80.78,341.71 L80.77,341.29 L80.76,340.86 L80.76,340.43 L80.75,340.01 L80.75,339.58 L80.74,339.15 L80.73,338.72 L80.73,338.30 L80.72,337.87 L80.72,337.44 L80.72,337.02 L80.71,336.59 L80.71,336.16 L80.71,335.74 L80.70,335.31 L80.70,334.88 L80.70,334.45 L80.70,334.03 L80.70,333.60 Z" fill="none" stroke="#333" stroke-width="1.05" stroke-linejoin="round"/>
<path d="M174.42,342.80 L174.35,343.49 L174.27,344.17 L174.16,344.86 L174.04,345.55 L173.91,346.23 L173.76,346.92 L173.60,347.61 L173.43,348.29 L173.25,348.98 L173.07,349.67 L172.86,350.36 L172.62,351.04 L172.35,351.73 L172.05,352.42 L171.72,353.10 L171.46,353.79 L171.20,354.48 L170.93,355.16 L170.65,355.85 L170.38,356.54 L170.10,357.22 L169.83,357.91 L169.56,358.60 L169.31,359.28 L169.07,359.97 L168.83,360.66 L168.60,361.35 L168.37,362.03 L168.14,362.72 L167.91,363.41 L167.68,364.09 L167.45,364.78 L167.21,365.47 L166.98,366.15 L166.74,366.84 L166.51,367.53 L166.26,368.21 L166.02,368.90 L165.77,369.59 L165.51,370.27 L165.26,370.96 L165.00,371.65 L164.74,372.34 L164.48,373.02 L164.21,373.71 L163.94,374.40 L163.67,375.08 L163.40,375.77 L163.12,376.46 L162.84,377.14 L162.56,377.83 L162.27,378.52 L161.98,379.20 L161.69,379.89 L161.37,380.58 L161.05,381.26 L160.72,381.95 L160.39,382.64 L160.06,383.33 L159.74,384.01 L159.43,384.70 L159.14,385.39 L158.87,386.07 L158.60,386.76 L158.30,387.45 L158.01,388.13 L157.75,388.82 L157.53,389.51 L157.37,390.19 L157.30,390.88 L157.30,391.57 L157.30,392.25 L157.30,392.94 L157.30,393.63 L157.30,394.32 L157.30,395.00 L157.33,395.69 L157.49,396.38 L157.73,397.06 L158.05,397.75 L158.40,398.44 L158.77,399.12 L159.11,399.81 L159.44,400.50 L159.81,401.18 L160.20,401.87 L160.61,402.56 L161.01,403.24 L161.39,403.93 L161.73,404.62 L162.03,405.31 L162.31,405.99 L162.59,406.68 L162.87,407.37 L163.13,408.05 L163.37,408.74 L163.60,409.43 L163.80,410.11 L163.98,410.80 L164.12,411.49 L164.22,412.17 L164.31,412.86 L164.37,413.55 L164.43,414.23 L164.48,414.92 L164.52,415.61 L164.57,416.30 L164.62,416.98 L164.68,417.67 L164.75,418.36 L164.83,419.04 L164.94,419.73 L165.06,420.42 L165.20,421.10 L165.36,421.79 L165.53,422.48 L165.70,423.16 L165.89,423.85 L166.07,424.54 L166.26,425.22 L166.46,425.91 L166.68,426.60 L166.90,427.29 L167.14,427.97 L167.40,428.66 L167.67,429.35 L167.96,430.03 L168.29,430.72 L168.66,431.41 L169.06,432.09 L169.45,432.78 L169.83,433.47 L170.17,434.15 L170.50,434.84 L170.84,435.53 L171.17,436.21 L171.48,436.90 L171.81,437.59 L172.17,438.28 L172.50,438.96 L172.77,439.65 L173.00,440.34 L173.23,441.02 L173.45,441.71 L173.66,442.40 L173.85,443.08 L174.04,443.77 L174.22,444.46 L174.38,445.14 L174.53,445.83 L174.67,446.52 L174.79,447.20 L174.90,447.89 L174.99,448.58 L175.07,449.27 L175.12,449.95 L175.16,450.64 L175.20,451.33 L175.24,452.01 L175.27,452.70 L175.31,453.39 L175.34,454.07 L175.36,454.76 L175.39,455.45 L175.41,456.13 L175.43,456.82 L175.45,457.51 L175.47,458.19 L175.48,458.88 L175.49,459.57 L175.50,460.26 L175.51,460.94 L175.52,461.63 L175.53,462.32 L175.54,463.00 L175.54,463.69 L175.55,464.38 L175.56,465.06 L175.57,465.75 L175.57,466.44 L175.58,467.12 L175.59,467.81 L175.60,468.50 L175.60,469.18 L175.60,469.87 L175.60,470.56 L175.60,471.25 L175.60,471.93 L175.60,472.62 L175.60,473.31 L175.60,473.99 L175.60,474.68 L175.60,475.37 L175.60,476.05 L175.60,476.74 L175.60,477.43 L175.60,478.11 L175.60,478.80 L175.60,479.49 L175.60,480.17 L175.60,480.86 L175.60,481.55 L175.60,482.24 L175.60,482.92 L175.60,483.61 L175.60,484.30 L175.60,484.98 L175.60,485.67 L175.60,486.36 L175.60,487.04 L175.60,487.73 L175.60,488.42 L175.60,489.10 L175.60,489.79 L175.60,490.48 L175.60,491.16 L175.60,491.85 L175.60,492.54 L175.60,493.23 L175.60,493.91 L175.60,494.60 L175.60,495.29 L175.60,495.97 L175.60,496.66 L175.60,497.35 L175.60,498.03 L175.60,498.72 L175.60,499.41 L175.60,500.09 L175.60,500.78 L175.60,501.47 L175.60,502.15 L175.60,502.84 L175.60,503.53 L175.60,504.22 L175.60,504.90 L175.60,505.59 L175.60,506.28 L175.60,506.96 L175.60,507.65 L175.60,508.34 L175.60,509.02 L175.60,509.71 L175.60,510.40 L175.60,511.08 L175.60,511.77 L175.60,512.46 L175.60,513.14 L175.60,513.83 L175.60,514.52 L175.60,515.21 L175.60,515.89 L175.60,516.58 L175.60,517.27 L175.60,517.95 L175.60,518.64 L175.60,519.33 L175.60,520.01 L175.60,520.70 L175.80,520.70 L175.80,520.01 L175.80,519.33 L175.80,518.64 L175.80,517.95 L175.80,517.27 L175.80,516.58 L175.80,515.89 L175.80,515.21 L175.80,514.52 L175.80,513.83 L175.80,513.14 L175.80,512.46 L175.80,511.77 L175.80,511.08 L175.80,510.40 L175.80,509.71 L175.80,509.02 L175.80,508.34 L175.80,507.65 L175.80,506.96 L175.80,506.28 L175.80,505.59 L175.80,504.90 L175.80,504.22 L175.80,503.53 L175.80,502.84 L175.80,502.15 L175.80,501.47 L175.80,500.78 L175.80,500.09 L175.80,499.41 L175.80,498.72 L175.80,498.03 L175.80,497.35 L175.80,496.66 L175.80,495.97 L175.80,495.29 L175.80,494.60 L175.80,493.91 L175.80,493.23 L175.80,492.54 L175.80,491.85 L175.80,491.16 L175.80,490.48 L175.80,489.79 L175.80,489.10 L175.80,488.42 L175.80,487.73 L175.80,487.04 L175.80,486.36 L175.80,485.67 L175.80,484.98 L175.80,484.30 L175.80,483.61 L175.80,482.92 L175.80,482.24 L175.80,481.55 L175.80,480.86 L175.80,480.17 L175.80,479.49 L175.80,478.80 L175.80,478.11 L175.80,477.43 L175.80,476.74 L175.80,476.05 L175.80,475.37 L175.80,474.68 L175.80,473.99 L175.80,473.31 L175.80,472.62 L175.80,471.93 L175.80,471.25 L175.80,470.56 L175.80,469.87 L175.80,469.18 L175.80,468.50 L175.81,467.81 L175.82,467.12 L175.83,466.44 L175.83,465.75 L175.84,465.06 L175.85,464.38 L175.86,463.69 L175.86,463.00 L175.87,462.32 L175.88,461.63 L175.89,460.94 L175.90,460.26 L175.91,459.57 L175.92,458.88 L175.93,458.19 L175.95,457.51 L175.97,456.82 L175.99,456.13 L176.01,455.45 L176.04,454.76 L176.06,454.07 L176.09,453.39 L176.13,452.70 L176.16,452.01 L176.20,451.33 L176.24,450.64 L176.28,449.95 L176.33,449.27 L176.41,448.58 L176.50,447.89 L176.61,447.20 L176.73,446.52 L176.87,445.83 L177.02,445.14 L177.18,444.46 L177.36,443.77 L177.55,443.08 L177.74,442.40 L177.95,441.71 L178.17,441.02 L178.40,440.34 L178.63,439.65 L178.90,438.96 L179.23,438.28 L179.59,437.59 L179.92,436.90 L180.23,436.21 L180.56,435.53 L180.90,434.84 L181.23,434.15 L181.57,433.47 L181.95,432.78 L182.34,432.09 L182.74,431.41 L183.11,430.72 L183.44,430.03 L183.73,429.35 L184.00,428.66 L184.26,427.97 L184.50,427.29 L184.72,426.60 L184.94,425.91 L185.14,425.22 L185.33,424.54 L185.51,423.85 L185.70,423.16 L185.87,422.48 L186.04,421.79 L186.20,421.10 L186.34,420.42 L186.46,419.73 L186.57,419.04 L186.65,418.36 L186.72,417.67 L186.78,416.98 L186.83,416.30 L186.88,415.61 L186.92,414.92 L186.97,414.23 L187.03,413.55 L187.09,412.86 L187.18,412.17 L187.28,411.49 L187.42,410.80 L187.60,410.11 L187.80,409.43 L188.03,408.74 L188.27,408.05 L188.53,407.37 L188.81,406.68 L189.09,405.99 L189.37,405.31 L189.67,404.62 L190.01,403.93 L190.39,403.24 L190.79,402.56 L191.20,401.87 L191.59,401.18 L191.96,400.50 L192.29,399.81 L192.63,399.12 L193.00,398.44 L193.35,397.75 L193.67,397.06 L193.91,396.38 L194.07,395.69 L194.10,395.00 L194.10,394.32 L194.10,393.63 L194.10,392.94 L194.10,392.25 L194.10,391.57 L194.10,390.88 L194.03,390.19 L193.87,389.51 L193.65,388.82 L193.39,388.13 L193.10,387.45 L192.80,386.76 L192.53,386.07 L192.26,385.39 L191.97,384.70 L191.66,384.01 L191.34,383.33 L191.01,382.64 L190.68,381.95 L190.35,381.26 L190.03,380.58 L189.71,379.89 L189.42,379.20 L189.13,378.52 L188.84,377.83 L188.56,377.14 L188.28,376.46 L188.00,375.77 L187.73,375.08 L187.46,374.40 L187.19,373.71 L186.92,373.02 L186.66,372.34 L186.40,371.65 L186.14,370.96 L185.89,370.27 L185.63,369.59 L185.38,368.90 L185.14,368.21 L184.89,367.53 L184.66,366.84 L184.42,366.15 L184.19,365.47 L183.95,364.78 L183.72,364.09 L183.49,363.41 L183.26,362.72 L183.03,362.03 L182.80,361.35 L182.57,360.66 L182.33,359.97 L182.09,359.28 L181.84,358.60 L181.57,357.91 L181.30,357.22 L181.02,356.54 L180.75,355.85 L180.47,355.16 L180.20,354.48 L179.94,353.79 L179.68,353.10 L179.35,352.42 L179.05,351.73 L178.78,351.04 L178.54,350.36 L178.33,349.67 L178.15,348.98 L177.97,348.29 L177.80,347.61 L177.64,346.92 L177.49,346.23 L177.36,345.55 L177.24,344.86 L177.13,344.17 L177.05,343.49 L176.98,342.80 Z" fill="none" stroke="#333" stroke-width="1.05" stroke-linejoin="round"/>
<path d="M271.30,359.00 L271.27,359.67 L271.23,360.35 L271.20,361.02 L271.16,361.70 L271.12,362.37 L271.09,363.05 L271.05,363.72 L271.01,364.40 L270.97,365.07 L270.93,365.75 L270.89,366.42 L270.85,367.09 L270.81,367.77 L270.76,368.44 L270.71,369.12 L270.65,369.79 L270.60,370.47 L270.54,371.14 L270.48,371.82 L270.42,372.49 L270.36,373.16 L270.30,373.84 L270.24,374.51 L270.17,375.19 L270.10,375.86 L270.02,376.54 L269.95,377.21 L269.86,377.89 L269.77,378.56 L269.67,379.24 L269.57,379.91 L269.47,380.58 L269.36,381.26 L269.25,381.93 L269.14,382.61 L269.03,383.28 L268.92,383.96 L268.82,384.63 L268.71,385.31 L268.61,385.98 L268.51,386.66 L268.41,387.33 L268.31,388.00 L268.20,388.68 L268.10,389.35 L268.00,390.03 L267.90,390.70 L267.80,391.38 L267.69,392.05 L267.59,392.73 L267.49,393.40 L267.39,394.07 L267.32,394.75 L267.24,395.42 L267.16,396.10 L267.08,396.77 L267.00,397.45 L266.92,398.12 L266.84,398.80 L266.77,399.47 L266.69,400.15 L266.61,400.82 L266.54,401.49 L266.48,402.17 L266.41,402.84 L266.35,403.52 L266.30,404.19 L266.24,404.87 L266.18,405.54 L266.13,406.22 L266.08,406.89 L266.03,407.57 L265.98,408.24 L265.93,408.91 L265.88,409.59 L265.84,410.26 L265.80,410.94 L265.76,411.61 L265.73,412.29 L265.69,412.96 L265.66,413.64 L265.63,414.31 L265.60,414.98 L265.56,415.66 L265.53,416.33 L265.50,417.01 L265.47,417.68 L265.44,418.36 L265.41,419.03 L265.38,419.71 L265.35,420.38 L265.32,421.06 L265.30,421.73 L265.27,422.40 L265.25,423.08 L265.22,423.75 L265.20,424.43 L265.18,425.10 L265.17,425.78 L265.15,426.45 L265.14,427.13 L265.12,427.80 L265.12,428.48 L265.11,429.15 L265.10,429.82 L265.10,430.50 L265.10,431.17 L265.11,431.85 L265.12,432.52 L265.13,433.20 L265.15,433.87 L265.18,434.55 L265.20,435.22 L265.23,435.89 L265.27,436.57 L265.30,437.24 L265.34,437.92 L265.38,438.59 L265.41,439.27 L265.45,439.94 L265.49,440.62 L265.53,441.29 L265.57,441.97 L265.60,442.64 L265.64,443.31 L265.67,443.99 L265.70,444.66 L265.73,445.34 L265.75,446.01 L265.77,446.69 L265.78,447.36 L265.79,448.04 L265.80,448.71 L265.80,449.39 L265.80,450.06 L265.80,450.73 L265.80,451.41 L265.80,452.08 L265.80,452.76 L265.79,453.43 L265.79,454.11 L265.79,454.78 L265.79,455.46 L265.79,456.13 L265.78,456.81 L265.78,457.48 L265.78,458.15 L265.77,458.83 L265.77,459.50 L265.76,460.18 L265.76,460.85 L265.75,461.53 L265.75,462.20 L265.74,462.88 L265.74,463.55 L265.73,464.22 L265.72,464.90 L265.72,465.57 L265.71,466.25 L265.70,466.92 L265.68,467.60 L265.64,468.27 L265.59,468.95 L265.52,469.62 L265.44,470.30 L265.36,470.97 L265.26,471.64 L265.16,472.32 L265.05,472.99 L264.95,473.67 L264.84,474.34 L264.74,475.02 L264.64,475.69 L264.55,476.37 L264.46,477.04 L264.36,477.72 L264.26,478.39 L264.15,479.06 L264.05,479.74 L263.94,480.41 L263.83,481.09 L263.73,481.76 L263.63,482.44 L263.53,483.11 L263.44,483.79 L263.35,484.46 L263.27,485.13 L263.19,485.81 L263.12,486.48 L263.04,487.16 L262.97,487.83 L262.89,488.51 L262.82,489.18 L262.76,489.86 L262.69,490.53 L262.63,491.21 L262.57,491.88 L262.51,492.55 L262.46,493.23 L262.41,493.90 L262.36,494.58 L262.31,495.25 L262.26,495.93 L262.21,496.60 L262.17,497.28 L262.13,497.95 L262.08,498.63 L262.04,499.30 L262.01,499.97 L261.98,500.65 L261.95,501.32 L261.92,502.00 L261.90,502.67 L261.89,503.35 L261.87,504.02 L261.86,504.70 L261.84,505.37 L261.83,506.04 L261.82,506.72 L261.81,507.39 L261.80,508.07 L261.80,508.74 L261.80,509.42 L261.83,510.09 L261.87,510.77 L261.92,511.44 L261.99,512.12 L262.06,512.79 L262.14,513.46 L262.23,514.14 L262.32,514.81 L262.41,515.49 L262.51,516.16 L262.63,516.84 L262.77,517.51 L262.92,518.19 L263.07,518.86 L263.24,519.54 L263.40,520.21 L263.57,520.88 L263.74,521.56 L263.92,522.23 L264.10,522.91 L264.30,523.58 L264.50,524.26 L264.70,524.93 L264.91,525.61 L265.13,526.28 L265.34,526.95 L265.57,527.63 L265.79,528.30 L266.03,528.98 L266.26,529.65 L266.51,530.33 L266.76,531.00 L267.01,531.68 L267.27,532.35 L267.58,533.03 L267.94,533.70 L274.86,533.70 L275.22,533.03 L275.53,532.35 L275.79,531.68 L276.04,531.00 L276.29,530.33 L276.54,529.65 L276.77,528.98 L277.01,528.30 L277.23,527.63 L277.46,526.95 L277.67,526.28 L277.89,525.61 L278.10,524.93 L278.30,524.26 L278.50,523.58 L278.70,522.91 L278.88,522.23 L279.06,521.56 L279.23,520.88 L279.40,520.21 L279.56,519.54 L279.73,518.86 L279.88,518.19 L280.03,517.51 L280.17,516.84 L280.29,516.16 L280.39,515.49 L280.48,514.81 L280.57,514.14 L280.66,513.46 L280.74,512.79 L280.81,512.12 L280.88,511.44 L280.93,510.77 L280.97,510.09 L281.00,509.42 L281.00,508.74 L281.00,508.07 L280.99,507.39 L280.98,506.72 L280.97,506.04 L280.96,505.37 L280.94,504.70 L280.93,504.02 L280.91,503.35 L280.90,502.67 L280.88,502.00 L280.85,501.32 L280.82,500.65 L280.79,499.97 L280.76,499.30 L280.72,498.63 L280.67,497.95 L280.63,497.28 L280.59,496.60 L280.54,495.93 L280.49,495.25 L280.44,494.58 L280.39,493.90 L280.34,493.23 L280.29,492.55 L280.23,491.88 L280.17,491.21 L280.11,490.53 L280.04,489.86 L279.98,489.18 L279.91,488.51 L279.83,487.83 L279.76,487.16 L279.68,486.48 L279.61,485.81 L279.53,485.13 L279.45,484.46 L279.36,483.79 L279.27,483.11 L279.17,482.44 L279.07,481.76 L278.97,481.09 L278.86,480.41 L278.75,479.74 L278.65,479.06 L278.54,478.39 L278.44,477.72 L278.34,477.04 L278.25,476.37 L278.16,475.69 L278.06,475.02 L277.96,474.34 L277.85,473.67 L277.75,472.99 L277.64,472.32 L277.54,471.64 L277.44,470.97 L277.36,470.30 L277.28,469.62 L277.21,468.95 L277.16,468.27 L277.12,467.60 L277.10,466.92 L277.09,466.25 L277.08,465.57 L277.08,464.90 L277.07,464.22 L277.06,463.55 L277.06,462.88 L277.05,462.20 L277.05,461.53 L277.04,460.85 L277.04,460.18 L277.03,459.50 L277.03,458.83 L277.02,458.15 L277.02,457.48 L277.02,456.81 L277.01,456.13 L277.01,455.46 L277.01,454.78 L277.01,454.11 L277.01,453.43 L277.00,452.76 L277.00,452.08 L277.00,451.41 L277.00,450.73 L277.00,450.06 L277.00,449.39 L277.00,448.71 L277.01,448.04 L277.02,447.36 L277.03,446.69 L277.05,446.01 L277.07,445.34 L277.10,444.66 L277.13,443.99 L277.16,443.31 L277.20,442.64 L277.23,441.97 L277.27,441.29 L277.31,440.62 L277.35,439.94 L277.39,439.27 L277.42,438.59 L277.46,437.92 L277.50,437.24 L277.53,436.57 L277.57,435.89 L277.60,435.22 L277.62,434.55 L277.65,433.87 L277.67,433.20 L277.68,432.52 L277.69,431.85 L277.70,431.17 L277.70,430.50 L277.70,429.82 L277.69,429.15 L277.68,428.48 L277.68,427.80 L277.66,427.13 L277.65,426.45 L277.63,425.78 L277.62,425.10 L277.60,424.43 L277.58,423.75 L277.55,423.08 L277.53,422.40 L277.50,421.73 L277.48,421.06 L277.45,420.38 L277.42,419.71 L277.39,419.03 L277.36,418.36 L277.33,417.68 L277.30,417.01 L277.27,416.33 L277.24,415.66 L277.20,414.98 L277.17,414.31 L277.14,413.64 L277.11,412.96 L277.07,412.29 L277.04,411.61 L277.00,410.94 L276.96,410.26 L276.92,409.59 L276.87,408.91 L276.82,408.24 L276.77,407.57 L276.72,406.89 L276.67,406.22 L276.62,405.54 L276.56,404.87 L276.50,404.19 L276.45,403.52 L276.39,402.84 L276.32,402.17 L276.26,401.49 L276.19,400.82 L276.11,400.15 L276.03,399.47 L275.96,398.80 L275.88,398.12 L275.80,397.45 L275.72,396.77 L275.64,396.10 L275.56,395.42 L275.48,394.75 L275.41,394.07 L275.31,393.40 L275.21,392.73 L275.11,392.05 L275.00,391.38 L274.90,390.70 L274.80,390.03 L274.70,389.35 L274.60,388.68 L274.49,388.00 L274.39,387.33 L274.29,386.66 L274.19,385.98 L274.09,385.31 L273.98,384.63 L273.88,383.96 L273.77,383.28 L273.66,382.61 L273.55,381.93 L273.44,381.26 L273.33,380.58 L273.23,379.91 L273.13,379.24 L273.03,378.56 L272.94,377.89 L272.85,377.21 L272.78,376.54 L272.70,375.86 L272.63,375.19 L272.56,374.51 L272.50,373.84 L272.44,373.16 L272.38,372.49 L272.32,371.82 L272.26,371.14 L272.20,370.47 L272.15,369.79 L272.09,369.12 L272.04,368.44 L271.99,367.77 L271.95,367.09 L271.91,366.42 L271.87,365.75 L271.83,365.07 L271.79,364.40 L271.75,363.72 L271.71,363.05 L271.68,362.37 L271.64,361.70 L271.60,361.02 L271.57,360.35 L271.53,359.67 L271.50,359.00 Z" fill="none" stroke="#333" stroke-width="1.05" stroke-linejoin="round"/>
<g fill="#1b9e77" fill-opacity="0.30" filter="url(#soft)">
<circle cx="83.9" cy="351.3" r="2.95"/>
<circle cx="75.1" cy="353.3" r="2.95"/>
<circle cx="86.8" cy="354.0" r="2.95"/>
<circle cx="75.7" cy="355.3" r="2.95"/>
<circle cx="73.3" cy="356.2" r="2.95"/>
<circle cx="77.1" cy="356.9" r="2.95"/>
<circle cx="81.0" cy="357.9" r="2.95"/>
<circle cx="75.2" cy="358.2" r="2.95"/>
<circle cx="80.2" cy="358.8" r="2.95"/>
<circle cx="77.0" cy="359.6" r="2.95"/>
<circle cx="82.3" cy="360.3" r="2.95"/>
<circle cx="76.2" cy="361.2" r="2.95"/>
<circle cx="81.8" cy="361.7" r="2.95"/>
<circle cx="78.1" cy="362.2" r="2.95"/>
<circle cx="80.9" cy="362.8" r="2.95"/>
<circle cx="86.4" cy="363.1" r="2.95"/>
<circle cx="73.4" cy="363.9" r="2.95"/>
<circle cx="87.2" cy="364.3" r="2.95"/>
<circle cx="73.8" cy="364.5" r="2.95"/>
<circle cx="80.4" cy="365.1" r="2.95"/>
<circle cx="76.0" cy="365.5" r="2.95"/>
<circle cx="76.0" cy="365.9" r="2.95"/>
<circle cx="84.0" cy="366.7" r="2.95"/>
<circle cx="77.6" cy="366.9" r="2.95"/>
<circle cx="85.5" cy="367.6" r="2.95"/>
<circle cx="77.2" cy="367.9" r="2.95"/>
<circle cx="75.5" cy="368.1" r="2.95"/>
<circle cx="80.1" cy="368.7" r="2.95"/>
<circle cx="74.9" cy="369.2" r="2.95"/>
<circle cx="85.7" cy="369.5" r="2.95"/>
<circle cx="74.7" cy="369.9" r="2.95"/>
<circle cx="86.9" cy="370.2" r="2.95"/>
<circle cx="73.7" cy="370.8" r="2.95"/>
<circle cx="86.1" cy="371.4" r="2.95"/>
<circle cx="79.4" cy="371.5" r="2.95"/>
<circle cx="82.1" cy="372.3" r="2.95"/>
<circle cx="83.8" cy="372.6" r="2.95"/>
<circle cx="82.7" cy="372.9" r="2.95"/>
<circle cx="78.7" cy="373.6" r="2.95"/>
<circle cx="78.0" cy="374.0" r="2.95"/>
<circle cx="83.4" cy="374.4" r="2.95"/>
<circle cx="73.5" cy="374.7" r="2.95"/>
<circle cx="85.1" cy="375.1" r="2.95"/>
<circle cx="86.2" cy="375.6" r="2.95"/>
<circle cx="87.5" cy="376.1" r="2.95"/>
<circle cx="80.8" cy="376.3" r="2.95"/>
<circle cx="77.7" cy="376.7" r="2.95"/>
<circle cx="81.7" cy="377.2" r="2.95"/>
<circle cx="86.6" cy="377.5" r="2.95"/>
<circle cx="81.6" cy="378.2" r="2.95"/>
<circle cx="74.3" cy="378.5" r="2.95"/>
<circle cx="75.3" cy="378.9" r="2.95"/>
<circle cx="80.7" cy="379.4" r="2.95"/>
<circle cx="84.6" cy="379.9" r="2.95"/>
<circle cx="75.6" cy="380.3" r="2.95"/>
<circle cx="82.7" cy="380.6" r="2.95"/>
<circle cx="84.4" cy="381.0" r="2.95"/>
<circle cx="80.0" cy="381.4" r="2.95"/>
<circle cx="86.6" cy="381.9" r="2.95"/>
<circle cx="85.6" cy="382.5" r="2.95"/>
<circle cx="79.1" cy="382.6" r="2.95"/>
<circle cx="86.3" cy="383.3" r="2.95"/>
<circle cx="82.6" cy="383.8" r="2.95"/>
<circle cx="82.2" cy="384.1" r="2.95"/>
<circle cx="80.3" cy="384.4" r="2.95"/>
<circle cx="74.0" cy="384.9" r="2.95"/>
<circle cx="78.5" cy="385.4" r="2.95"/>
<circle cx="81.9" cy="385.8" r="2.95"/>
<circle cx="87.2" cy="386.0" r="2.95"/>
<circle cx="78.7" cy="386.8" r="2.95"/>
<circle cx="80.3" cy="387.1" r="2.95"/>
<circle cx="84.2" cy="387.4" r="2.95"/>
<circle cx="74.8" cy="388.1" r="2.95"/>
<circle cx="81.4" cy="388.3" r="2.95"/>
<circle cx="74.2" cy="388.9" r="2.95"/>
<circle cx="78.4" cy="389.1" r="2.95"/>
<circle cx="73.6" cy="389.6" r="2.95"/>
<circle cx="75.1" cy="389.9" r="2.95"/>
<circle cx="81.3" cy="390.4" r="2.95"/>
<circle cx="85.4" cy="390.8" r="2.95"/>
<circle cx="78.1" cy="391.2" r="2.95"/>
<circle cx="79.8" cy="391.9" r="2.95"/>
<circle cx="74.6" cy="392.2" r="2.95"/>
<circle cx="85.4" cy="392.6" r="2.95"/>
<circle cx="74.3" cy="393.1" r="2.95"/>
<circle cx="77.9" cy="393.4" r="2.95"/>
<circle cx="79.2" cy="393.9" r="2.95"/>
<circle cx="81.1" cy="394.4" r="2.95"/>
<circle cx="86.7" cy="394.8" r="2.95"/>
<circle cx="83.1" cy="395.1" r="2.95"/>
<circle cx="81.5" cy="395.7" r="2.95"/>
<circle cx="83.8" cy="396.2" r="2.95"/>
<circle cx="85.2" cy="396.7" r="2.95"/>
<circle cx="82.8" cy="396.9" r="2.95"/>
<circle cx="84.5" cy="397.5" r="2.95"/>
<circle cx="80.0" cy="397.9" r="2.95"/>
<circle cx="84.1" cy="398.2" r="2.95"/>
<circle cx="75.9" cy="398.4" r="2.95"/>
<circle cx="84.7" cy="399.1" r="2.95"/>
<circle cx="86.1" cy="399.5" r="2.95"/>
<circle cx="82.0" cy="400.0" r="2.95"/>
<circle cx="84.3" cy="400.2" r="2.95"/>
<circle cx="87.4" cy="400.9" r="2.95"/>
<circle cx="87.1" cy="401.1" r="2.95"/>
<circle cx="74.5" cy="401.8" r="2.95"/>
<circle cx="84.7" cy="401.9" r="2.95"/>
<circle cx="83.3" cy="402.4" r="2.95"/>
<circle cx="77.4" cy="402.9" r="2.95"/>
<circle cx="79.1" cy="403.2" r="2.95"/>
<circle cx="78.8" cy="403.7" r="2.95"/>
<circle cx="84.9" cy="404.2" r="2.95"/>
<circle cx="81.2" cy="404.7" r="2.95"/>
<circle cx="83.0" cy="405.2" r="2.95"/>
<circle cx="81.0" cy="405.5" r="2.95"/>
<circle cx="77.5" cy="406.1" r="2.95"/>
<circle cx="79.6" cy="406.2" r="2.95"/>
<circle cx="80.6" cy="406.8" r="2.95"/>
<circle cx="83.4" cy="407.3" r="2.95"/>
<circle cx="77.3" cy="407.4" r="2.95"/>
<circle cx="78.5" cy="408.1" r="2.95"/>
<circle cx="86.5" cy="408.6" r="2.95"/>
<circle cx="73.7" cy="408.9" r="2.95"/>
<circle cx="76.7" cy="409.5" r="2.95"/>
<circle cx="81.3" cy="409.8" r="2.95"/>
<circle cx="85.9" cy="410.1" r="2.95"/>
<circle cx="83.6" cy="410.7" r="2.95"/>
<circle cx="76.9" cy="411.0" r="2.95"/>
<circle cx="77.8" cy="411.5" r="2.95"/>
<circle cx="78.9" cy="412.1" r="2.95"/>
<circle cx="82.2" cy="412.4" r="2.95"/>
<circle cx="76.3" cy="412.8" r="2.95"/>
<circle cx="85.8" cy="413.3" r="2.95"/>
<circle cx="81.6" cy="413.4" r="2.95"/>
<circle cx="74.1" cy="413.8" r="2.95"/>
<circle cx="78.4" cy="414.2" r="2.95"/>
<circle cx="82.9" cy="414.8" r="2.95"/>
<circle cx="74.4" cy="415.5" r="2.95"/>
<circle cx="75.0" cy="415.7" r="2.95"/>
<circle cx="82.4" cy="416.3" r="2.95"/>
<circle cx="75.4" cy="416.5" r="2.95"/>
<circle cx="79.4" cy="416.8" r="2.95"/>
<circle cx="79.0" cy="417.4" r="2.95"/>
<circle cx="77.6" cy="418.0" r="2.95"/>
<circle cx="75.7" cy="418.5" r="2.95"/>
<circle cx="76.9" cy="418.7" r="2.95"/>
<circle cx="76.6" cy="419.1" r="2.95"/>
<circle cx="78.2" cy="419.7" r="2.95"/>
<circle cx="79.3" cy="419.9" r="2.95"/>
<circle cx="83.1" cy="420.3" r="2.95"/>
<circle cx="84.3" cy="421.0" r="2.95"/>
<circle cx="85.3" cy="421.1" r="2.95"/>
<circle cx="87.3" cy="421.9" r="2.95"/>
<circle cx="75.5" cy="422.4" r="2.95"/>
<circle cx="74.5" cy="422.5" r="2.95"/>
<circle cx="86.9" cy="423.4" r="2.95"/>
<circle cx="85.0" cy="423.5" r="2.95"/>
<circle cx="82.5" cy="424.1" r="2.95"/>
<circle cx="79.7" cy="424.7" r="2.95"/>
<circle cx="83.7" cy="425.7" r="2.95"/>
<circle cx="83.5" cy="425.7" r="2.95"/>
<circle cx="76.5" cy="426.6" r="2.95"/>
<circle cx="79.9" cy="427.2" r="2.95"/>
<circle cx="84.9" cy="427.7" r="2.95"/>
<circle cx="76.1" cy="429.1" r="2.95"/>
<circle cx="73.9" cy="429.2" r="2.95"/>
<circle cx="86.0" cy="430.6" r="2.95"/>
<circle cx="80.6" cy="431.2" r="2.95"/>
<circle cx="76.5" cy="432.2" r="2.95"/>
<circle cx="77.5" cy="433.3" r="2.95"/>
<circle cx="85.7" cy="434.3" r="2.95"/>
<circle cx="83.2" cy="435.8" r="2.95"/>
<circle cx="79.6" cy="437.4" r="2.95"/>
<circle cx="76.3" cy="437.9" r="2.95"/>
<circle cx="76.8" cy="439.9" r="2.95"/>
<circle cx="84.3" cy="333.8" r="2.95" fill-opacity="0.40"/>
<circle cx="74.7" cy="338.5" r="2.95" fill-opacity="0.40"/>
<circle cx="76.6" cy="342.2" r="2.95" fill-opacity="0.40"/>
<circle cx="76.6" cy="349.8" r="2.95" fill-opacity="0.40"/>
<circle cx="86.8" cy="353.0" r="2.95" fill-opacity="0.40"/>
<circle cx="87.3" cy="357.3" r="2.95" fill-opacity="0.40"/>
<circle cx="72.2" cy="362.2" r="2.95" fill-opacity="0.40"/>
<circle cx="75.0" cy="438.0" r="2.95" fill-opacity="0.40"/>
<circle cx="78.0" cy="442.0" r="2.95" fill-opacity="0.40"/>
</g>
<g fill="#d95f02" fill-opacity="0.30" filter="url(#soft)">
<circle cx="182.8" cy="344.3" r="2.95"/>
<circle cx="172.1" cy="345.8" r="2.95"/>
<circle cx="171.5" cy="348.6" r="2.95"/>
<circle cx="176.6" cy="348.9" r="2.95"/>
<circle cx="171.2" cy="350.5" r="2.95"/>
<circle cx="178.2" cy="352.2" r="2.95"/>
<circle cx="173.7" cy="353.6" r="2.95"/>
<circle cx="169.0" cy="355.5" r="2.95"/>
<circle cx="179.3" cy="355.8" r="2.95"/>
<circle cx="170.8" cy="358.0" r="2.95"/>
<circle cx="182.2" cy="359.3" r="2.95"/>
<circle cx="175.7" cy="359.4" r="2.95"/>
<circle cx="179.1" cy="361.5" r="2.95"/>
<circle cx="179.0" cy="362.2" r="2.95"/>
<circle cx="181.7" cy="362.7" r="2.95"/>
<circle cx="170.2" cy="364.5" r="2.95"/>
<circle cx="174.8" cy="364.8" r="2.95"/>
<circle cx="172.8" cy="366.1" r="2.95"/>
<circle cx="176.7" cy="366.9" r="2.95"/>
<circle cx="182.1" cy="368.0" r="2.95"/>
<circle cx="170.1" cy="368.7" r="2.95"/>
<circle cx="173.5" cy="369.9" r="2.95"/>
<circle cx="174.6" cy="371.0" r="2.95"/>
<circle cx="172.5" cy="371.8" r="2.95"/>
<circle cx="178.3" cy="372.7" r="2.95"/>
<circle cx="177.2" cy="373.9" r="2.95"/>
<circle cx="170.4" cy="374.7" r="2.95"/>
<circle cx="172.2" cy="374.9" r="2.95"/>
<circle cx="173.9" cy="376.3" r="2.95"/>
<circle cx="178.9" cy="377.1" r="2.95"/>
<circle cx="177.0" cy="378.0" r="2.95"/>
<circle cx="175.2" cy="378.3" r="2.95"/>
<circle cx="173.0" cy="379.5" r="2.95"/>
<circle cx="177.6" cy="380.0" r="2.95"/>
<circle cx="178.0" cy="380.6" r="2.95"/>
<circle cx="171.8" cy="381.4" r="2.95"/>
<circle cx="173.0" cy="382.0" r="2.95"/>
<circle cx="180.9" cy="382.9" r="2.95"/>
<circle cx="173.7" cy="383.5" r="2.95"/>
<circle cx="179.6" cy="384.5" r="2.95"/>
<circle cx="175.9" cy="384.9" r="2.95"/>
<circle cx="172.7" cy="385.3" r="2.95"/>
<circle cx="179.8" cy="386.0" r="2.95"/>
<circle cx="177.8" cy="386.9" r="2.95"/>
<circle cx="179.3" cy="387.6" r="2.95"/>
<circle cx="176.4" cy="388.5" r="2.95"/>
<circle cx="180.2" cy="389.1" r="2.95"/>
<circle cx="169.5" cy="389.4" r="2.95"/>
<circle cx="175.8" cy="390.2" r="2.95"/>
<circle cx="180.6" cy="391.0" r="2.95"/>
<circle cx="176.2" cy="391.9" r="2.95"/>
<circle cx="175.6" cy="392.5" r="2.95"/>
<circle cx="170.9" cy="393.1" r="2.95"/>
<circle cx="174.3" cy="393.5" r="2.95"/>
<circle cx="173.9" cy="394.4" r="2.95"/>
<circle cx="181.8" cy="394.9" r="2.95"/>
<circle cx="170.6" cy="395.4" r="2.95"/>
<circle cx="169.3" cy="396.6" r="2.95"/>
<circle cx="172.6" cy="397.1" r="2.95"/>
<circle cx="181.5" cy="398.0" r="2.95"/>
<circle cx="175.4" cy="398.6" r="2.95"/>
<circle cx="182.6" cy="398.9" r="2.95"/>
<circle cx="171.4" cy="399.4" r="2.95"/>
<circle cx="171.0" cy="400.4" r="2.95"/>
<circle cx="173.3" cy="401.0" r="2.95"/>
<circle cx="175.5" cy="401.8" r="2.95"/>
<circle cx="181.9" cy="402.3" r="2.95"/>
<circle cx="180.1" cy="402.8" r="2.95"/>
<circle cx="169.5" cy="403.5" r="2.95"/>
<circle cx="178.4" cy="404.3" r="2.95"/>
<circle cx="173.4" cy="405.2" r="2.95"/>
<circle cx="169.8" cy="405.6" r="2.95"/>
<circle cx="178.6" cy="406.2" r="2.95"/>
<circle cx="177.7" cy="406.9" r="2.95"/>
<circle cx="174.9" cy="407.9" r="2.95"/>
<circle cx="177.2" cy="408.6" r="2.95"/>
<circle cx="168.9" cy="409.1" r="2.95"/>
<circle cx="182.5" cy="409.5" r="2.95"/>
<circle cx="180.0" cy="410.8" r="2.95"/>
<circle cx="170.0" cy="411.4" r="2.95"/>
<circle cx="177.4" cy="411.7" r="2.95"/>
<circle cx="174.4" cy="412.1" r="2.95"/>
<circle cx="179.5" cy="413.1" r="2.95"/>
<circle cx="176.4" cy="413.6" r="2.95"/>
<circle cx="177.9" cy="414.4" r="2.95"/>
<circle cx="181.3" cy="415.1" r="2.95"/>
<circle cx="174.1" cy="415.7" r="2.95"/>
<circle cx="178.7" cy="416.8" r="2.95"/>
<circle cx="180.7" cy="417.2" r="2.95"/>
<circle cx="172.3" cy="417.7" r="2.95"/>
<circle cx="175.0" cy="418.8" r="2.95"/>
<circle cx="181.0" cy="419.8" r="2.95"/>
<circle cx="169.7" cy="420.1" r="2.95"/>
<circle cx="182.3" cy="421.1" r="2.95"/>
<circle cx="169.2" cy="421.8" r="2.95"/>
<circle cx="171.3" cy="422.9" r="2.95"/>
<circle cx="176.9" cy="423.5" r="2.95"/>
<circle cx="179.8" cy="424.4" r="2.95"/>
<circle cx="170.4" cy="426.0" r="2.95"/>
<circle cx="176.0" cy="426.9" r="2.95"/>
<circle cx="181.2" cy="427.9" r="2.95"/>
<circle cx="181.6" cy="429.0" r="2.95"/>
<circle cx="171.7" cy="430.6" r="2.95"/>
<circle cx="180.3" cy="430.8" r="2.95"/>
<circle cx="180.6" cy="432.8" r="2.95"/>
<circle cx="174.5" cy="434.8" r="2.95"/>
<circle cx="168.7" cy="435.7" r="2.95"/>
<circle cx="171.9" cy="439.8" r="2.95"/>
<circle cx="169.0" cy="442.1" r="2.95"/>
<circle cx="168.3" cy="440.7" r="2.95" fill-opacity="0.40"/>
<circle cx="181.5" cy="436.8" r="2.95" fill-opacity="0.40"/>
<circle cx="182.5" cy="439.7" r="2.95" fill-opacity="0.40"/>
<circle cx="171.1" cy="461.1" r="2.95" fill-opacity="0.40"/>
<circle cx="175.6" cy="466.0" r="2.95" fill-opacity="0.40"/>
<circle cx="178.2" cy="506.9" r="2.95" fill-opacity="0.40"/>
<circle cx="169.7" cy="520.1" r="2.95" fill-opacity="0.40"/>
<circle cx="173.0" cy="343.0" r="2.95" fill-opacity="0.40"/>
</g>
<g fill="#7570b3" fill-opacity="0.30" filter="url(#soft)">
<circle cx="278.1" cy="362.6" r="2.95"/>
<circle cx="272.2" cy="364.6" r="2.95"/>
<circle cx="273.0" cy="366.6" r="2.95"/>
<circle cx="276.5" cy="368.7" r="2.95"/>
<circle cx="272.0" cy="370.6" r="2.95"/>
<circle cx="265.3" cy="371.8" r="2.95"/>
<circle cx="275.5" cy="373.6" r="2.95"/>
<circle cx="275.3" cy="376.0" r="2.95"/>
<circle cx="267.4" cy="377.8" r="2.95"/>
<circle cx="266.9" cy="379.6" r="2.95"/>
<circle cx="267.6" cy="380.0" r="2.95"/>
<circle cx="274.6" cy="381.8" r="2.95"/>
<circle cx="276.3" cy="383.1" r="2.95"/>
<circle cx="274.4" cy="385.3" r="2.95"/>
<circle cx="269.7" cy="386.3" r="2.95"/>
<circle cx="270.0" cy="387.9" r="2.95"/>
<circle cx="276.4" cy="389.0" r="2.95"/>
<circle cx="265.6" cy="391.4" r="2.95"/>
<circle cx="275.1" cy="393.1" r="2.95"/>
<circle cx="272.7" cy="393.4" r="2.95"/>
<circle cx="269.9" cy="395.3" r="2.95"/>
<circle cx="268.8" cy="397.1" r="2.95"/>
<circle cx="274.1" cy="398.5" r="2.95"/>
<circle cx="276.4" cy="399.2" r="2.95"/>
<circle cx="267.9" cy="400.1" r="2.95"/>
<circle cx="272.2" cy="402.4" r="2.95"/>
<circle cx="266.1" cy="403.7" r="2.95"/>
<circle cx="265.8" cy="404.6" r="2.95"/>
<circle cx="276.7" cy="406.7" r="2.95"/>
<circle cx="269.6" cy="407.6" r="2.95"/>
<circle cx="272.6" cy="408.7" r="2.95"/>
<circle cx="273.1" cy="410.0" r="2.95"/>
<circle cx="273.3" cy="410.7" r="2.95"/>
<circle cx="266.8" cy="413.1" r="2.95"/>
<circle cx="265.1" cy="414.4" r="2.95"/>
<circle cx="264.3" cy="414.6" r="2.95"/>
<circle cx="275.7" cy="416.6" r="2.95"/>
<circle cx="267.0" cy="417.6" r="2.95"/>
<circle cx="266.3" cy="418.6" r="2.95"/>
<circle cx="270.5" cy="420.1" r="2.95"/>
<circle cx="277.4" cy="420.8" r="2.95"/>
<circle cx="277.5" cy="422.3" r="2.95"/>
<circle cx="276.6" cy="423.5" r="2.95"/>
<circle cx="265.2" cy="425.1" r="2.95"/>
<circle cx="267.2" cy="426.1" r="2.95"/>
<circle cx="275.7" cy="426.7" r="2.95"/>
<circle cx="270.3" cy="428.3" r="2.95"/>
<circle cx="267.5" cy="429.6" r="2.95"/>
<circle cx="271.5" cy="430.7" r="2.95"/>
<circle cx="275.9" cy="432.4" r="2.95"/>
<circle cx="265.6" cy="433.6" r="2.95"/>
<circle cx="265.5" cy="434.9" r="2.95"/>
<circle cx="268.9" cy="436.1" r="2.95"/>
<circle cx="272.0" cy="436.7" r="2.95"/>
<circle cx="271.2" cy="437.9" r="2.95"/>
<circle cx="275.4" cy="439.1" r="2.95"/>
<circle cx="277.7" cy="440.2" r="2.95"/>
<circle cx="272.7" cy="440.8" r="2.95"/>
<circle cx="264.9" cy="442.0" r="2.95"/>
<circle cx="275.2" cy="443.9" r="2.95"/>
<circle cx="271.6" cy="445.0" r="2.95"/>
<circle cx="271.3" cy="445.6" r="2.95"/>
<circle cx="278.0" cy="446.6" r="2.95"/>
<circle cx="276.9" cy="448.1" r="2.95"/>
<circle cx="274.2" cy="449.5" r="2.95"/>
<circle cx="270.7" cy="449.7" r="2.95"/>
<circle cx="278.2" cy="451.5" r="2.95"/>
<circle cx="264.5" cy="452.1" r="2.95"/>
<circle cx="275.3" cy="453.2" r="2.95"/>
<circle cx="277.8" cy="454.5" r="2.95"/>
<circle cx="273.5" cy="455.3" r="2.95"/>
<circle cx="274.0" cy="457.0" r="2.95"/>
<circle cx="265.3" cy="457.4" r="2.95"/>
<circle cx="267.8" cy="458.9" r="2.95"/>
<circle cx="272.8" cy="460.1" r="2.95"/>
<circle cx="272.4" cy="461.3" r="2.95"/>
<circle cx="270.4" cy="462.1" r="2.95"/>
<circle cx="268.3" cy="462.7" r="2.95"/>
<circle cx="266.4" cy="464.4" r="2.95"/>
<circle cx="271.0" cy="465.6" r="2.95"/>
<circle cx="277.8" cy="465.7" r="2.95"/>
<circle cx="278.1" cy="467.6" r="2.95"/>
<circle cx="268.4" cy="468.3" r="2.95"/>
<circle cx="272.9" cy="469.3" r="2.95"/>
<circle cx="273.9" cy="470.1" r="2.95"/>
<circle cx="269.3" cy="470.9" r="2.95"/>
<circle cx="269.5" cy="472.3" r="2.95"/>
<circle cx="277.6" cy="473.5" r="2.95"/>
<circle cx="271.6" cy="473.7" r="2.95"/>
<circle cx="268.3" cy="475.1" r="2.95"/>
<circle cx="271.8" cy="476.2" r="2.95"/>
<circle cx="270.8" cy="477.3" r="2.95"/>
<circle cx="268.7" cy="477.4" r="2.95"/>
<circle cx="274.9" cy="478.7" r="2.95"/>
<circle cx="274.7" cy="479.4" r="2.95"/>
<circle cx="264.6" cy="480.4" r="2.95"/>
<circle cx="274.0" cy="481.8" r="2.95"/>
<circle cx="269.5" cy="482.1" r="2.95"/>
<circle cx="278.3" cy="483.1" r="2.95"/>
<circle cx="276.1" cy="484.4" r="2.95"/>
<circle cx="267.1" cy="485.1" r="2.95"/>
<circle cx="273.4" cy="486.1" r="2.95"/>
<circle cx="270.2" cy="486.3" r="2.95"/>
<circle cx="271.8" cy="487.1" r="2.95"/>
<circle cx="264.4" cy="488.0" r="2.95"/>
<circle cx="273.8" cy="489.1" r="2.95"/>
<circle cx="271.1" cy="490.0" r="2.95"/>
<circle cx="269.1" cy="490.4" r="2.95"/>
<circle cx="270.2" cy="491.6" r="2.95"/>
<circle cx="277.3" cy="492.1" r="2.95"/>
<circle cx="270.9" cy="493.4" r="2.95"/>
<circle cx="268.1" cy="493.9" r="2.95"/>
<circle cx="267.1" cy="494.4" r="2.95"/>
<circle cx="272.5" cy="495.7" r="2.95"/>
<circle cx="270.5" cy="496.2" r="2.95"/>
<circle cx="266.5" cy="497.1" r="2.95"/>
<circle cx="276.8" cy="497.7" r="2.95"/>
<circle cx="269.7" cy="498.7" r="2.95"/>
<circle cx="267.6" cy="499.0" r="2.95"/>
<circle cx="274.3" cy="500.2" r="2.95"/>
<circle cx="264.7" cy="500.3" r="2.95"/>
<circle cx="276.8" cy="501.3" r="2.95"/>
<circle cx="274.5" cy="501.8" r="2.95"/>
<circle cx="277.5" cy="503.1" r="2.95"/>
<circle cx="274.8" cy="503.2" r="2.95"/>
<circle cx="265.1" cy="504.1" r="2.95"/>
<circle cx="273.7" cy="504.8" r="2.95"/>
<circle cx="273.4" cy="505.3" r="2.95"/>
<circle cx="269.4" cy="506.6" r="2.95"/>
<circle cx="268.5" cy="507.2" r="2.95"/>
<circle cx="264.6" cy="507.7" r="2.95"/>
<circle cx="273.6" cy="508.3" r="2.95"/>
<circle cx="270.9" cy="508.8" r="2.95"/>
<circle cx="266.1" cy="509.5" r="2.95"/>
<circle cx="275.5" cy="510.3" r="2.95"/>
<circle cx="266.7" cy="511.1" r="2.95"/>
<circle cx="276.2" cy="512.0" r="2.95"/>
<circle cx="277.1" cy="512.2" r="2.95"/>
<circle cx="269.0" cy="513.3" r="2.95"/>
<circle cx="269.2" cy="513.9" r="2.95"/>
<circle cx="268.6" cy="514.2" r="2.95"/>
<circle cx="270.6" cy="514.8" r="2.95"/>
<circle cx="270.0" cy="515.5" r="2.95"/>
<circle cx="267.4" cy="516.8" r="2.95"/>
<circle cx="277.2" cy="516.9" r="2.95"/>
<circle cx="278.4" cy="517.5" r="2.95"/>
<circle cx="268.2" cy="518.6" r="2.95"/>
<circle cx="265.9" cy="519.0" r="2.95"/>
<circle cx="271.4" cy="520.1" r="2.95"/>
<circle cx="265.0" cy="520.6" r="2.95"/>
<circle cx="277.0" cy="521.4" r="2.95"/>
<circle cx="266.3" cy="521.9" r="2.95"/>
<circle cx="276.0" cy="522.7" r="2.95"/>
<circle cx="274.9" cy="523.1" r="2.95"/>
<circle cx="268.0" cy="523.8" r="2.95"/>
<circle cx="278.4" cy="524.7" r="2.95"/>
<circle cx="273.2" cy="525.0" r="2.95"/>
<circle cx="266.6" cy="525.6" r="2.95"/>
<circle cx="271.9" cy="526.9" r="2.95"/>
<circle cx="275.8" cy="527.2" r="2.95"/>
<circle cx="267.8" cy="528.1" r="2.95"/>
<circle cx="272.5" cy="528.7" r="2.95"/>
<circle cx="265.7" cy="529.8" r="2.95"/>
<circle cx="266.0" cy="530.7" r="2.95"/>
<circle cx="266.5" cy="531.1" r="2.95"/>
<circle cx="268.8" cy="532.5" r="2.95"/>
<circle cx="274.4" cy="533.0" r="2.95"/>
<circle cx="277.0" cy="359.0" r="2.95" fill-opacity="0.40"/>
</g>
<line x1="80.40" y1="336.00" x2="80.40" y2="382.00" stroke="#595959" stroke-width="1.1"/>
<line x1="80.40" y1="405.90" x2="80.40" y2="440.00" stroke="#595959" stroke-width="1.1"/>
<rect x="66.15" y="382.00" width="28.50" height="23.90" fill="#fff" fill-opacity="0.15" stroke="#595959" stroke-width="1.1"/>
<line x1="66.15" y1="393.50" x2="94.65" y2="393.50" stroke="#3d3d3d" stroke-width="1.8"/>
<line x1="175.70" y1="342.80" x2="175.70" y2="382.30" stroke="#595959" stroke-width="1.1"/>
<line x1="175.70" y1="414.90" x2="175.70" y2="445.00" stroke="#595959" stroke-width="1.1"/>
<rect x="161.45" y="382.30" width="28.50" height="32.60" fill="#fff" fill-opacity="0.15" stroke="#595959" stroke-width="1.1"/>
<line x1="161.45" y1="395.50" x2="189.95" y2="395.50" stroke="#3d3d3d" stroke-width="1.8"/>
<line x1="271.40" y1="359.00" x2="271.40" y2="425.40" stroke="#595959" stroke-width="1.1"/>
<line x1="271.40" y1="507.90" x2="271.40" y2="533.70" stroke="#595959" stroke-width="1.1"/>
<rect x="257.15" y="425.40" width="28.50" height="82.50" fill="#fff" fill-opacity="0.15" stroke="#595959" stroke-width="1.1"/>
<line x1="257.15" y1="473.80" x2="285.65" y2="473.80" stroke="#3d3d3d" stroke-width="1.8"/>
<path d="M175.70,303.60 L175.70,301.60 L271.40,301.60 L271.40,303.60" fill="none" stroke="#333" stroke-width="1"/>
<text x="226.05" y="303.80" font-size="15.4" letter-spacing="-0.3" fill="#595959" text-anchor="middle" font-family="Liberation Serif, serif">***</text>
<path d="M80.40,318.70 L80.40,316.70 L271.40,316.70 L271.40,318.70" fill="none" stroke="#333" stroke-width="1"/>
<text x="177.20" y="318.80" font-size="15.4" letter-spacing="-0.3" fill="#595959" text-anchor="middle" font-family="Liberation Serif, serif">***</text>
<line x1="380.0" y1="526.62" x2="685.5" y2="526.62" stroke="#ededed" stroke-width="0.6"/>
<line x1="380.0" y1="455.10" x2="685.5" y2="455.10" stroke="#ededed" stroke-width="0.6"/>
<line x1="380.0" y1="383.56" x2="685.5" y2="383.56" stroke="#ededed" stroke-width="0.6"/>
<line x1="380.0" y1="312.04" x2="685.5" y2="312.04" stroke="#ededed" stroke-width="0.6"/>
<line x1="380.0" y1="490.86" x2="685.5" y2="490.86" stroke="#e8e8e8" stroke-width="0.9"/>
<line x1="380.0" y1="419.33" x2="685.5" y2="419.33" stroke="#e8e8e8" stroke-width="0.9"/>
<line x1="380.0" y1="347.80" x2="685.5" y2="347.80" stroke="#e8e8e8" stroke-width="0.9"/>
<line x1="436.60" y1="289.0" x2="436.60" y2="545.5" stroke="#e8e8e8" stroke-width="0.9"/>
<line x1="532.30" y1="289.0" x2="532.30" y2="545.5" stroke="#e8e8e8" stroke-width="0.9"/>
<line x1="627.40" y1="289.0" x2="627.40" y2="545.5" stroke="#e8e8e8" stroke-width="0.9"/>
<line x1="377.4" y1="490.86" x2="380.0" y2="490.86" stroke="#333" stroke-width="1"/>
<text transform="translate(374.80,493.56) scale(0.960,1)" font-size="7.00" fill="#707070" text-anchor="end" text-rendering="geometricPrecision" font-family="Liberation Serif, serif">40</text>
<line x1="377.4" y1="419.33" x2="380.0" y2="419.33" stroke="#333" stroke-width="1"/>
<text transform="translate(374.80,422.03) scale(0.960,1)" font-size="7.00" fill="#707070" text-anchor="end" text-rendering="geometricPrecision" font-family="Liberation Serif, serif">50</text>
<line x1="377.4" y1="347.80" x2="380.0" y2="347.80" stroke="#333" stroke-width="1"/>
<text transform="translate(374.80,350.50) scale(0.960,1)" font-size="7.00" fill="#707070" text-anchor="end" text-rendering="geometricPrecision" font-family="Liberation Serif, serif">60</text>
<line x1="436.60" y1="545.5" x2="436.60" y2="547.9" stroke="#333" stroke-width="1"/>
<text transform="translate(436.80,555.00) scale(0.930,1)" font-size="11.20" fill="#4d4d4d" text-anchor="middle" text-rendering="geometricPrecision" font-family="Liberation Serif, serif">Control</text>
<line x1="532.30" y1="545.5" x2="532.30" y2="547.9" stroke="#333" stroke-width="1"/>
<text transform="translate(530.25,555.00) scale(0.930,1)" font-size="11.20" fill="#4d4d4d" text-anchor="middle" text-rendering="geometricPrecision" font-family="Liberation Serif, serif">Eyes without ON</text>
<line x1="627.40" y1="545.5" x2="627.40" y2="547.9" stroke="#333" stroke-width="1"/>
<text transform="translate(623.05,555.00) scale(0.930,1)" font-size="11.20" fill="#4d4d4d" text-anchor="middle" text-rendering="geometricPrecision" font-family="Liberation Serif, serif">Eyes with ON</text>
<text transform="translate(363.6,410.0) rotate(-90)" font-size="10.45" fill="#000" text-anchor="middle" text-rendering="geometricPrecision" font-family="Liberation Serif, serif">DVC density, %</text>
<path d="M435.86,336.50 L435.86,336.98 L435.86,337.46 L435.85,337.94 L435.84,338.42 L435.83,338.90 L435.82,339.38 L435.81,339.86 L435.79,340.34 L435.78,340.82 L435.76,341.30 L435.74,341.77 L435.72,342.25 L435.68,342.73 L435.63,343.21 L435.57,343.69 L435.50,344.17 L435.42,344.65 L435.33,345.13 L435.24,345.61 L435.13,346.09 L435.02,346.57 L434.91,347.05 L434.79,347.53 L434.67,348.01 L434.52,348.49 L434.36,348.97 L434.17,349.45 L433.97,349.93 L433.76,350.41 L433.53,350.89 L433.28,351.37 L433.02,351.85 L432.75,352.32 L432.50,352.80 L432.26,353.28 L431.98,353.76 L431.66,354.24 L431.32,354.72 L430.96,355.20 L430.58,355.68 L430.20,356.16 L429.83,356.64 L429.46,357.12 L429.12,357.60 L428.80,358.08 L428.49,358.56 L428.18,359.04 L427.87,359.52 L427.57,360.00 L427.27,360.48 L426.98,360.96 L426.70,361.44 L426.42,361.92 L426.16,362.39 L425.91,362.87 L425.67,363.35 L425.45,363.83 L425.23,364.31 L425.02,364.79 L424.82,365.27 L424.62,365.75 L424.43,366.23 L424.25,366.71 L424.07,367.19 L423.89,367.67 L423.72,368.15 L423.56,368.63 L423.40,369.11 L423.26,369.59 L423.14,370.07 L423.01,370.55 L422.89,371.03 L422.76,371.51 L422.63,371.99 L422.48,372.47 L422.31,372.94 L422.12,373.42 L421.90,373.90 L421.61,374.38 L421.25,374.86 L420.84,375.34 L420.40,375.82 L419.92,376.30 L419.43,376.78 L418.93,377.26 L418.45,377.74 L417.99,378.22 L417.56,378.70 L417.18,379.18 L416.79,379.66 L416.39,380.14 L416.00,380.62 L415.61,381.10 L415.24,381.58 L414.88,382.06 L414.55,382.54 L414.24,383.02 L413.96,383.49 L413.71,383.97 L413.48,384.45 L413.25,384.93 L413.03,385.41 L412.83,385.89 L412.66,386.37 L412.55,386.85 L412.50,387.33 L412.51,387.81 L412.57,388.29 L412.65,388.77 L412.77,389.25 L412.92,389.73 L413.09,390.21 L413.29,390.69 L413.50,391.17 L413.73,391.65 L413.97,392.13 L414.22,392.61 L414.48,393.09 L414.74,393.56 L415.00,394.04 L415.26,394.52 L415.53,395.00 L415.84,395.48 L416.18,395.96 L416.56,396.44 L416.96,396.92 L417.38,397.40 L417.81,397.88 L418.25,398.36 L418.69,398.84 L419.13,399.32 L419.57,399.80 L419.99,400.28 L420.39,400.76 L420.77,401.24 L421.11,401.72 L421.44,402.20 L421.77,402.68 L422.09,403.16 L422.40,403.64 L422.71,404.11 L423.02,404.59 L423.31,405.07 L423.60,405.55 L423.89,406.03 L424.16,406.51 L424.43,406.99 L424.69,407.47 L424.94,407.95 L425.18,408.43 L425.40,408.91 L425.62,409.39 L425.83,409.87 L426.03,410.35 L426.22,410.83 L426.41,411.31 L426.58,411.79 L426.76,412.27 L426.93,412.75 L427.10,413.23 L427.26,413.71 L427.43,414.18 L427.59,414.66 L427.76,415.14 L427.93,415.62 L428.10,416.10 L428.28,416.58 L428.46,417.06 L428.65,417.54 L428.85,418.02 L429.06,418.50 L429.28,418.98 L429.50,419.46 L429.73,419.94 L429.96,420.42 L430.20,420.90 L430.43,421.38 L430.66,421.86 L430.88,422.34 L431.10,422.82 L431.31,423.30 L431.51,423.78 L431.70,424.26 L431.89,424.73 L432.07,425.21 L432.25,425.69 L432.43,426.17 L432.61,426.65 L432.85,427.13 L433.07,427.61 L433.29,428.09 L433.50,428.57 L433.70,429.05 L433.89,429.53 L434.07,430.01 L434.23,430.49 L434.38,430.97 L434.54,431.45 L434.68,431.93 L434.83,432.41 L434.97,432.89 L435.10,433.37 L435.23,433.85 L435.35,434.33 L435.46,434.81 L435.57,435.28 L435.66,435.76 L435.75,436.24 L435.83,436.72 L435.89,437.20 L435.95,437.68 L436.01,438.16 L436.05,438.64 L436.08,439.12 L436.12,439.60 L436.15,440.08 L436.18,440.56 L436.21,441.04 L436.24,441.52 L436.26,442.00 L436.28,442.48 L436.30,442.96 L436.31,443.44 L436.33,443.92 L436.34,444.40 L436.36,444.88 L436.37,445.35 L436.38,445.83 L436.40,446.31 L436.41,446.79 L436.42,447.27 L436.43,447.75 L436.44,448.23 L436.45,448.71 L436.45,449.19 L436.46,449.67 L436.47,450.15 L436.48,450.63 L436.49,451.11 L436.49,451.59 L436.50,452.07 L436.50,452.55 L436.50,453.03 L436.50,453.51 L436.50,453.99 L436.50,454.47 L436.50,454.95 L436.50,455.43 L436.50,455.90 L436.50,456.38 L436.50,456.86 L436.50,457.34 L436.50,457.82 L436.50,458.30 L436.50,458.78 L436.50,459.26 L436.50,459.74 L436.50,460.22 L436.50,460.70 L436.70,460.70 L436.70,460.22 L436.70,459.74 L436.70,459.26 L436.70,458.78 L436.70,458.30 L436.70,457.82 L436.70,457.34 L436.70,456.86 L436.70,456.38 L436.70,455.90 L436.70,455.43 L436.70,454.95 L436.70,454.47 L436.70,453.99 L436.70,453.51 L436.70,453.03 L436.70,452.55 L436.70,452.07 L436.71,451.59 L436.71,451.11 L436.72,450.63 L436.73,450.15 L436.74,449.67 L436.75,449.19 L436.75,448.71 L436.76,448.23 L436.77,447.75 L436.78,447.27 L436.79,446.79 L436.80,446.31 L436.82,445.83 L436.83,445.35 L436.84,444.88 L436.86,444.40 L436.87,443.92 L436.89,443.44 L436.90,442.96 L436.92,442.48 L436.94,442.00 L436.96,441.52 L436.99,441.04 L437.02,440.56 L437.05,440.08 L437.08,439.60 L437.12,439.12 L437.15,438.64 L437.19,438.16 L437.25,437.68 L437.31,437.20 L437.37,436.72 L437.45,436.24 L437.54,435.76 L437.63,435.28 L437.74,434.81 L437.85,434.33 L437.97,433.85 L438.10,433.37 L438.23,432.89 L438.37,432.41 L438.52,431.93 L438.66,431.45 L438.82,430.97 L438.97,430.49 L439.13,430.01 L439.31,429.53 L439.50,429.05 L439.70,428.57 L439.91,428.09 L440.13,427.61 L440.35,427.13 L440.59,426.65 L440.77,426.17 L440.95,425.69 L441.13,425.21 L441.31,424.73 L441.50,424.26 L441.69,423.78 L441.89,423.30 L442.10,422.82 L442.32,422.34 L442.54,421.86 L442.77,421.38 L443.00,420.90 L443.24,420.42 L443.47,419.94 L443.70,419.46 L443.92,418.98 L444.14,418.50 L444.35,418.02 L444.55,417.54 L444.74,417.06 L444.92,416.58 L445.10,416.10 L445.27,415.62 L445.44,415.14 L445.61,414.66 L445.77,414.18 L445.94,413.71 L446.10,413.23 L446.27,412.75 L446.44,412.27 L446.62,411.79 L446.79,411.31 L446.98,410.83 L447.17,410.35 L447.37,409.87 L447.58,409.39 L447.80,408.91 L448.02,408.43 L448.26,407.95 L448.51,407.47 L448.77,406.99 L449.04,406.51 L449.31,406.03 L449.60,405.55 L449.89,405.07 L450.18,404.59 L450.49,404.11 L450.80,403.64 L451.11,403.16 L451.43,402.68 L451.76,402.20 L452.09,401.72 L452.43,401.24 L452.81,400.76 L453.21,400.28 L453.63,399.80 L454.07,399.32 L454.51,398.84 L454.95,398.36 L455.39,397.88 L455.82,397.40 L456.24,396.92 L456.64,396.44 L457.02,395.96 L457.36,395.48 L457.67,395.00 L457.94,394.52 L458.20,394.04 L458.46,393.56 L458.72,393.09 L458.98,392.61 L459.23,392.13 L459.47,391.65 L459.70,391.17 L459.91,390.69 L460.11,390.21 L460.28,389.73 L460.43,389.25 L460.55,388.77 L460.63,388.29 L460.69,387.81 L460.70,387.33 L460.65,386.85 L460.54,386.37 L460.37,385.89 L460.17,385.41 L459.95,384.93 L459.72,384.45 L459.49,383.97 L459.24,383.49 L458.96,383.02 L458.65,382.54 L458.32,382.06 L457.96,381.58 L457.59,381.10 L457.20,380.62 L456.81,380.14 L456.41,379.66 L456.02,379.18 L455.64,378.70 L455.21,378.22 L454.75,377.74 L454.27,377.26 L453.77,376.78 L453.28,376.30 L452.80,375.82 L452.36,375.34 L451.95,374.86 L451.59,374.38 L451.30,373.90 L451.08,373.42 L450.89,372.94 L450.72,372.47 L450.57,371.99 L450.44,371.51 L450.31,371.03 L450.19,370.55 L450.06,370.07 L449.94,369.59 L449.80,369.11 L449.64,368.63 L449.48,368.15 L449.31,367.67 L449.13,367.19 L448.95,366.71 L448.77,366.23 L448.58,365.75 L448.38,365.27 L448.18,364.79 L447.97,364.31 L447.75,363.83 L447.53,363.35 L447.29,362.87 L447.04,362.39 L446.78,361.92 L446.50,361.44 L446.22,360.96 L445.93,360.48 L445.63,360.00 L445.33,359.52 L445.02,359.04 L444.71,358.56 L444.40,358.08 L444.08,357.60 L443.74,357.12 L443.37,356.64 L443.00,356.16 L442.62,355.68 L442.24,355.20 L441.88,354.72 L441.54,354.24 L441.22,353.76 L440.94,353.28 L440.70,352.80 L440.45,352.32 L440.18,351.85 L439.92,351.37 L439.67,350.89 L439.44,350.41 L439.23,349.93 L439.03,349.45 L438.84,348.97 L438.68,348.49 L438.53,348.01 L438.41,347.53 L438.29,347.05 L438.18,346.57 L438.07,346.09 L437.96,345.61 L437.87,345.13 L437.78,344.65 L437.70,344.17 L437.63,343.69 L437.57,343.21 L437.52,342.73 L437.48,342.25 L437.46,341.77 L437.44,341.30 L437.42,340.82 L437.41,340.34 L437.39,339.86 L437.38,339.38 L437.37,338.90 L437.36,338.42 L437.35,337.94 L437.34,337.46 L437.34,336.98 L437.34,336.50 Z" fill="none" stroke="#333" stroke-width="1.05" stroke-linejoin="round"/>
<path d="M531.90,334.30 L531.86,334.96 L531.78,335.63 L531.63,336.29 L531.41,336.95 L531.15,337.62 L530.88,338.28 L530.58,338.95 L530.18,339.61 L529.67,340.27 L529.08,340.94 L528.44,341.60 L527.89,342.26 L527.37,342.93 L526.84,343.59 L526.33,344.26 L525.82,344.92 L525.28,345.58 L524.71,346.25 L524.12,346.91 L523.52,347.57 L522.91,348.24 L522.31,348.90 L521.71,349.57 L521.14,350.23 L520.58,350.89 L520.06,351.56 L519.55,352.22 L519.05,352.88 L518.55,353.55 L518.07,354.21 L517.59,354.87 L517.13,355.54 L516.67,356.20 L516.23,356.87 L515.81,357.53 L515.40,358.19 L515.01,358.86 L514.62,359.52 L514.23,360.18 L513.85,360.85 L513.47,361.51 L513.11,362.18 L512.76,362.84 L512.43,363.50 L512.13,364.17 L511.86,364.83 L511.63,365.49 L511.42,366.16 L511.23,366.82 L511.03,367.49 L510.85,368.15 L510.68,368.81 L510.53,369.48 L510.41,370.14 L510.34,370.80 L510.30,371.47 L510.31,372.13 L510.36,372.79 L510.43,373.46 L510.53,374.12 L510.66,374.79 L510.81,375.45 L510.97,376.11 L511.15,376.78 L511.34,377.44 L511.54,378.10 L511.75,378.77 L511.96,379.43 L512.17,380.10 L512.38,380.76 L512.63,381.42 L512.91,382.09 L513.21,382.75 L513.53,383.41 L513.87,384.08 L514.23,384.74 L514.61,385.41 L515.00,386.07 L515.39,386.73 L515.80,387.40 L516.23,388.06 L516.71,388.72 L517.23,389.39 L517.77,390.05 L518.34,390.72 L518.91,391.38 L519.48,392.04 L520.04,392.71 L520.58,393.37 L521.10,394.03 L521.57,394.70 L522.04,395.36 L522.52,396.02 L523.01,396.69 L523.49,397.35 L523.95,398.02 L524.39,398.68 L524.80,399.34 L525.16,400.01 L525.46,400.67 L525.70,401.33 L525.87,402.00 L525.99,402.66 L526.09,403.33 L526.18,403.99 L526.29,404.65 L526.43,405.32 L526.58,405.98 L526.75,406.64 L526.92,407.31 L527.08,407.97 L527.24,408.64 L527.39,409.30 L527.53,409.96 L527.67,410.63 L527.81,411.29 L527.94,411.95 L528.08,412.62 L528.21,413.28 L528.35,413.94 L528.53,414.61 L528.70,415.27 L528.86,415.94 L529.03,416.60 L529.19,417.26 L529.35,417.93 L529.50,418.59 L529.65,419.25 L529.81,419.92 L529.97,420.58 L530.13,421.25 L530.30,421.91 L530.46,422.57 L530.62,423.24 L530.77,423.90 L530.93,424.56 L531.07,425.23 L531.21,425.89 L531.34,426.56 L531.46,427.22 L531.56,427.88 L531.66,428.55 L531.73,429.21 L531.78,429.87 L531.81,430.54 L531.84,431.20 L531.87,431.86 L531.90,432.53 L531.93,433.19 L531.95,433.86 L531.98,434.52 L532.00,435.18 L532.02,435.85 L532.03,436.51 L532.05,437.17 L532.06,437.84 L532.08,438.50 L532.09,439.17 L532.10,439.83 L532.11,440.49 L532.11,441.16 L532.12,441.82 L532.13,442.48 L532.14,443.15 L532.14,443.81 L532.15,444.48 L532.16,445.14 L532.16,445.80 L532.17,446.47 L532.17,447.13 L532.18,447.79 L532.19,448.46 L532.19,449.12 L532.20,449.78 L532.20,450.45 L532.20,451.11 L532.20,451.78 L532.20,452.44 L532.20,453.10 L532.20,453.77 L532.20,454.43 L532.20,455.09 L532.20,455.76 L532.20,456.42 L532.20,457.09 L532.20,457.75 L532.20,458.41 L532.20,459.08 L532.20,459.74 L532.20,460.40 L532.20,461.07 L532.20,461.73 L532.20,462.40 L532.20,463.06 L532.20,463.72 L532.20,464.39 L532.20,465.05 L532.20,465.71 L532.20,466.38 L532.20,467.04 L532.20,467.71 L532.20,468.37 L532.20,469.03 L532.20,469.70 L532.20,470.36 L532.20,471.02 L532.20,471.69 L532.20,472.35 L532.20,473.01 L532.20,473.68 L532.20,474.34 L532.20,475.01 L532.20,475.67 L532.20,476.33 L532.20,477.00 L532.20,477.66 L532.20,478.32 L532.20,478.99 L532.20,479.65 L532.20,480.32 L532.20,480.98 L532.20,481.64 L532.20,482.31 L532.20,482.97 L532.20,483.63 L532.20,484.30 L532.20,484.96 L532.20,485.63 L532.20,486.29 L532.20,486.95 L532.20,487.62 L532.20,488.28 L532.20,488.94 L532.20,489.61 L532.20,490.27 L532.20,490.93 L532.20,491.60 L532.20,492.26 L532.20,492.93 L532.20,493.59 L532.20,494.25 L532.20,494.92 L532.20,495.58 L532.20,496.24 L532.20,496.91 L532.20,497.57 L532.20,498.24 L532.20,498.90 L532.20,499.56 L532.20,500.23 L532.20,500.89 L532.20,501.55 L532.20,502.22 L532.20,502.88 L532.20,503.55 L532.20,504.21 L532.20,504.87 L532.20,505.54 L532.20,506.20 L532.40,506.20 L532.40,505.54 L532.40,504.87 L532.40,504.21 L532.40,503.55 L532.40,502.88 L532.40,502.22 L532.40,501.55 L532.40,500.89 L532.40,500.23 L532.40,499.56 L532.40,498.90 L532.40,498.24 L532.40,497.57 L532.40,496.91 L532.40,496.24 L532.40,495.58 L532.40,494.92 L532.40,494.25 L532.40,493.59 L532.40,492.93 L532.40,492.26 L532.40,491.60 L532.40,490.93 L532.40,490.27 L532.40,489.61 L532.40,488.94 L532.40,488.28 L532.40,487.62 L532.40,486.95 L532.40,486.29 L532.40,485.63 L532.40,484.96 L532.40,484.30 L532.40,483.63 L532.40,482.97 L532.40,482.31 L532.40,481.64 L532.40,480.98 L532.40,480.32 L532.40,479.65 L532.40,478.99 L532.40,478.32 L532.40,477.66 L532.40,477.00 L532.40,476.33 L532.40,475.67 L532.40,475.01 L532.40,474.34 L532.40,473.68 L532.40,473.01 L532.40,472.35 L532.40,471.69 L532.40,471.02 L532.40,470.36 L532.40,469.70 L532.40,469.03 L532.40,468.37 L532.40,467.71 L532.40,467.04 L532.40,466.38 L532.40,465.71 L532.40,465.05 L532.40,464.39 L532.40,463.72 L532.40,463.06 L532.40,462.40 L532.40,461.73 L532.40,461.07 L532.40,460.40 L532.40,459.74 L532.40,459.08 L532.40,458.41 L532.40,457.75 L532.40,457.09 L532.40,456.42 L532.40,455.76 L532.40,455.09 L532.40,454.43 L532.40,453.77 L532.40,453.10 L532.40,452.44 L532.40,451.78 L532.40,451.11 L532.40,450.45 L532.40,449.78 L532.41,449.12 L532.41,448.46 L532.42,447.79 L532.43,447.13 L532.43,446.47 L532.44,445.80 L532.44,445.14 L532.45,444.48 L532.46,443.81 L532.46,443.15 L532.47,442.48 L532.48,441.82 L532.49,441.16 L532.49,440.49 L532.50,439.83 L532.51,439.17 L532.52,438.50 L532.54,437.84 L532.55,437.17 L532.57,436.51 L532.58,435.85 L532.60,435.18 L532.62,434.52 L532.65,433.86 L532.67,433.19 L532.70,432.53 L532.73,431.86 L532.76,431.20 L532.79,430.54 L532.82,429.87 L532.87,429.21 L532.94,428.55 L533.04,427.88 L533.14,427.22 L533.26,426.56 L533.39,425.89 L533.53,425.23 L533.67,424.56 L533.83,423.90 L533.98,423.24 L534.14,422.57 L534.30,421.91 L534.47,421.25 L534.63,420.58 L534.79,419.92 L534.95,419.25 L535.10,418.59 L535.25,417.93 L535.41,417.26 L535.57,416.60 L535.74,415.94 L535.90,415.27 L536.07,414.61 L536.25,413.94 L536.39,413.28 L536.52,412.62 L536.66,411.95 L536.79,411.29 L536.93,410.63 L537.07,409.96 L537.21,409.30 L537.36,408.64 L537.52,407.97 L537.68,407.31 L537.85,406.64 L538.02,405.98 L538.17,405.32 L538.31,404.65 L538.42,403.99 L538.51,403.33 L538.61,402.66 L538.73,402.00 L538.90,401.33 L539.14,400.67 L539.44,400.01 L539.80,399.34 L540.21,398.68 L540.65,398.02 L541.11,397.35 L541.59,396.69 L542.08,396.02 L542.56,395.36 L543.03,394.70 L543.50,394.03 L544.02,393.37 L544.56,392.71 L545.12,392.04 L545.69,391.38 L546.26,390.72 L546.83,390.05 L547.37,389.39 L547.89,388.72 L548.37,388.06 L548.80,387.40 L549.21,386.73 L549.60,386.07 L549.99,385.41 L550.37,384.74 L550.73,384.08 L551.07,383.41 L551.39,382.75 L551.69,382.09 L551.97,381.42 L552.22,380.76 L552.43,380.10 L552.64,379.43 L552.85,378.77 L553.06,378.10 L553.26,377.44 L553.45,376.78 L553.63,376.11 L553.79,375.45 L553.94,374.79 L554.07,374.12 L554.17,373.46 L554.24,372.79 L554.29,372.13 L554.30,371.47 L554.26,370.80 L554.19,370.14 L554.07,369.48 L553.92,368.81 L553.75,368.15 L553.57,367.49 L553.37,366.82 L553.18,366.16 L552.97,365.49 L552.74,364.83 L552.47,364.17 L552.17,363.50 L551.84,362.84 L551.49,362.18 L551.13,361.51 L550.75,360.85 L550.37,360.18 L549.98,359.52 L549.59,358.86 L549.20,358.19 L548.79,357.53 L548.37,356.87 L547.93,356.20 L547.47,355.54 L547.01,354.87 L546.53,354.21 L546.05,353.55 L545.55,352.88 L545.05,352.22 L544.54,351.56 L544.02,350.89 L543.46,350.23 L542.89,349.57 L542.29,348.90 L541.69,348.24 L541.08,347.57 L540.48,346.91 L539.89,346.25 L539.32,345.58 L538.78,344.92 L538.27,344.26 L537.76,343.59 L537.23,342.93 L536.71,342.26 L536.16,341.60 L535.52,340.94 L534.93,340.27 L534.42,339.61 L534.02,338.95 L533.72,338.28 L533.45,337.62 L533.19,336.95 L532.97,336.29 L532.82,335.63 L532.74,334.96 L532.70,334.30 Z" fill="none" stroke="#333" stroke-width="1.05" stroke-linejoin="round"/>
<path d="M626.80,323.40 L626.79,324.21 L626.78,325.02 L626.75,325.83 L626.70,326.64 L626.65,327.46 L626.59,328.27 L626.52,329.08 L626.43,329.89 L626.34,330.70 L626.24,331.51 L626.13,332.32 L626.02,333.13 L625.89,333.95 L625.76,334.76 L625.62,335.57 L625.48,336.38 L625.32,337.19 L625.17,338.00 L624.96,338.81 L624.66,339.62 L624.28,340.44 L623.84,341.25 L623.37,342.06 L622.99,342.87 L622.59,343.68 L622.20,344.49 L621.81,345.30 L621.43,346.11 L621.09,346.92 L620.76,347.74 L620.44,348.55 L620.11,349.36 L619.78,350.17 L619.46,350.98 L619.13,351.79 L618.81,352.60 L618.49,353.41 L618.16,354.23 L617.84,355.04 L617.52,355.85 L617.20,356.66 L616.89,357.47 L616.59,358.28 L616.29,359.09 L615.98,359.90 L615.68,360.72 L615.37,361.53 L615.06,362.34 L614.73,363.15 L614.40,363.96 L614.06,364.77 L613.68,365.58 L613.27,366.39 L612.81,367.20 L612.34,368.02 L611.87,368.83 L611.39,369.64 L610.94,370.45 L610.52,371.26 L610.13,372.07 L609.81,372.88 L609.55,373.69 L609.35,374.51 L609.16,375.32 L608.97,376.13 L608.82,376.94 L608.70,377.75 L608.62,378.56 L608.60,379.37 L608.63,380.18 L608.71,380.99 L608.81,381.81 L608.95,382.62 L609.11,383.43 L609.29,384.24 L609.47,385.05 L609.67,385.86 L609.87,386.67 L610.12,387.48 L610.42,388.30 L610.76,389.11 L611.14,389.92 L611.55,390.73 L611.97,391.54 L612.41,392.35 L612.85,393.16 L613.28,393.97 L613.70,394.79 L614.09,395.60 L614.49,396.41 L614.89,397.22 L615.30,398.03 L615.70,398.84 L616.11,399.65 L616.52,400.46 L616.92,401.27 L617.32,402.09 L617.71,402.90 L618.09,403.71 L618.45,404.52 L618.81,405.33 L619.16,406.14 L619.51,406.95 L619.85,407.76 L620.18,408.58 L620.51,409.39 L620.84,410.20 L621.15,411.01 L621.46,411.82 L621.77,412.63 L622.06,413.44 L622.36,414.25 L622.66,415.07 L622.96,415.88 L623.24,416.69 L623.53,417.50 L623.85,418.31 L624.12,419.12 L624.36,419.93 L624.60,420.74 L624.82,421.55 L625.02,422.37 L625.21,423.18 L625.38,423.99 L625.53,424.80 L625.66,425.61 L625.77,426.42 L625.87,427.23 L625.96,428.04 L626.05,428.86 L626.14,429.67 L626.22,430.48 L626.29,431.29 L626.36,432.10 L626.43,432.91 L626.49,433.72 L626.55,434.53 L626.61,435.35 L626.66,436.16 L626.70,436.97 L626.74,437.78 L626.78,438.59 L626.81,439.40 L626.84,440.21 L626.86,441.02 L626.88,441.83 L626.90,442.65 L626.92,443.46 L626.94,444.27 L626.96,445.08 L626.98,445.89 L626.99,446.70 L627.01,447.51 L627.03,448.32 L627.04,449.14 L627.05,449.95 L627.07,450.76 L627.08,451.57 L627.10,452.38 L627.11,453.19 L627.12,454.00 L627.13,454.81 L627.15,455.63 L627.16,456.44 L627.17,457.25 L627.18,458.06 L627.20,458.87 L627.21,459.68 L627.22,460.49 L627.23,461.30 L627.25,462.11 L627.26,462.93 L627.28,463.74 L627.29,464.55 L627.30,465.36 L627.30,466.17 L627.30,466.98 L627.30,467.79 L627.30,468.60 L627.30,469.42 L627.30,470.23 L627.30,471.04 L627.30,471.85 L627.30,472.66 L627.30,473.47 L627.30,474.28 L627.30,475.09 L627.30,475.91 L627.30,476.72 L627.30,477.53 L627.30,478.34 L627.30,479.15 L627.30,479.96 L627.30,480.77 L627.30,481.58 L627.30,482.39 L627.30,483.21 L627.30,484.02 L627.30,484.83 L627.30,485.64 L627.30,486.45 L627.30,487.26 L627.30,488.07 L627.30,488.88 L627.30,489.70 L627.30,490.51 L627.30,491.32 L627.30,492.13 L627.30,492.94 L627.30,493.75 L627.30,494.56 L627.30,495.37 L627.30,496.18 L627.30,497.00 L627.30,497.81 L627.30,498.62 L627.30,499.43 L627.30,500.24 L627.30,501.05 L627.30,501.86 L627.30,502.67 L627.30,503.49 L627.30,504.30 L627.30,505.11 L627.30,505.92 L627.30,506.73 L627.30,507.54 L627.30,508.35 L627.30,509.16 L627.30,509.98 L627.30,510.79 L627.30,511.60 L627.30,512.41 L627.30,513.22 L627.30,514.03 L627.30,514.84 L627.30,515.65 L627.30,516.46 L627.30,517.28 L627.30,518.09 L627.30,518.90 L627.30,519.71 L627.30,520.52 L627.30,521.33 L627.30,522.14 L627.30,522.95 L627.30,523.77 L627.30,524.58 L627.30,525.39 L627.30,526.20 L627.30,527.01 L627.30,527.82 L627.30,528.63 L627.30,529.44 L627.30,530.26 L627.30,531.07 L627.30,531.88 L627.30,532.69 L627.30,533.50 L627.50,533.50 L627.50,532.69 L627.50,531.88 L627.50,531.07 L627.50,530.26 L627.50,529.44 L627.50,528.63 L627.50,527.82 L627.50,527.01 L627.50,526.20 L627.50,525.39 L627.50,524.58 L627.50,523.77 L627.50,522.95 L627.50,522.14 L627.50,521.33 L627.50,520.52 L627.50,519.71 L627.50,518.90 L627.50,518.09 L627.50,517.28 L627.50,516.46 L627.50,515.65 L627.50,514.84 L627.50,514.03 L627.50,513.22 L627.50,512.41 L627.50,511.60 L627.50,510.79 L627.50,509.98 L627.50,509.16 L627.50,508.35 L627.50,507.54 L627.50,506.73 L627.50,505.92 L627.50,505.11 L627.50,504.30 L627.50,503.49 L627.50,502.67 L627.50,501.86 L627.50,501.05 L627.50,500.24 L627.50,499.43 L627.50,498.62 L627.50,497.81 L627.50,497.00 L627.50,496.18 L627.50,495.37 L627.50,494.56 L627.50,493.75 L627.50,492.94 L627.50,492.13 L627.50,491.32 L627.50,490.51 L627.50,489.70 L627.50,488.88 L627.50,488.07 L627.50,487.26 L627.50,486.45 L627.50,485.64 L627.50,484.83 L627.50,484.02 L627.50,483.21 L627.50,482.39 L627.50,481.58 L627.50,480.77 L627.50,479.96 L627.50,479.15 L627.50,478.34 L627.50,477.53 L627.50,476.72 L627.50,475.91 L627.50,475.09 L627.50,474.28 L627.50,473.47 L627.50,472.66 L627.50,471.85 L627.50,471.04 L627.50,470.23 L627.50,469.42 L627.50,468.60 L627.50,467.79 L627.50,466.98 L627.50,466.17 L627.50,465.36 L627.51,464.55 L627.52,463.74 L627.54,462.93 L627.55,462.11 L627.57,461.30 L627.58,460.49 L627.59,459.68 L627.60,458.87 L627.62,458.06 L627.63,457.25 L627.64,456.44 L627.65,455.63 L627.67,454.81 L627.68,454.00 L627.69,453.19 L627.70,452.38 L627.72,451.57 L627.73,450.76 L627.75,449.95 L627.76,449.14 L627.77,448.32 L627.79,447.51 L627.81,446.70 L627.82,445.89 L627.84,445.08 L627.86,444.27 L627.88,443.46 L627.90,442.65 L627.92,441.83 L627.94,441.02 L627.96,440.21 L627.99,439.40 L628.02,438.59 L628.06,437.78 L628.10,436.97 L628.14,436.16 L628.19,435.35 L628.25,434.53 L628.31,433.72 L628.37,432.91 L628.44,432.10 L628.51,431.29 L628.58,430.48 L628.66,429.67 L628.75,428.86 L628.84,428.04 L628.93,427.23 L629.03,426.42 L629.14,425.61 L629.27,424.80 L629.42,423.99 L629.59,423.18 L629.78,422.37 L629.98,421.55 L630.20,420.74 L630.44,419.93 L630.68,419.12 L630.95,418.31 L631.27,417.50 L631.56,416.69 L631.84,415.88 L632.14,415.07 L632.44,414.25 L632.74,413.44 L633.03,412.63 L633.34,411.82 L633.65,411.01 L633.96,410.20 L634.29,409.39 L634.62,408.58 L634.95,407.76 L635.29,406.95 L635.64,406.14 L635.99,405.33 L636.35,404.52 L636.71,403.71 L637.09,402.90 L637.48,402.09 L637.88,401.27 L638.28,400.46 L638.69,399.65 L639.10,398.84 L639.50,398.03 L639.91,397.22 L640.31,396.41 L640.71,395.60 L641.10,394.79 L641.52,393.97 L641.95,393.16 L642.39,392.35 L642.83,391.54 L643.25,390.73 L643.66,389.92 L644.04,389.11 L644.38,388.30 L644.68,387.48 L644.93,386.67 L645.13,385.86 L645.33,385.05 L645.51,384.24 L645.69,383.43 L645.85,382.62 L645.99,381.81 L646.09,380.99 L646.17,380.18 L646.20,379.37 L646.18,378.56 L646.10,377.75 L645.98,376.94 L645.83,376.13 L645.64,375.32 L645.45,374.51 L645.25,373.69 L644.99,372.88 L644.67,372.07 L644.28,371.26 L643.86,370.45 L643.41,369.64 L642.93,368.83 L642.46,368.02 L641.99,367.20 L641.53,366.39 L641.12,365.58 L640.74,364.77 L640.40,363.96 L640.07,363.15 L639.74,362.34 L639.43,361.53 L639.12,360.72 L638.82,359.90 L638.51,359.09 L638.21,358.28 L637.91,357.47 L637.60,356.66 L637.28,355.85 L636.96,355.04 L636.64,354.23 L636.31,353.41 L635.99,352.60 L635.67,351.79 L635.34,350.98 L635.02,350.17 L634.69,349.36 L634.36,348.55 L634.04,347.74 L633.71,346.92 L633.37,346.11 L632.99,345.30 L632.60,344.49 L632.21,343.68 L631.81,342.87 L631.43,342.06 L630.96,341.25 L630.52,340.44 L630.14,339.62 L629.84,338.81 L629.63,338.00 L629.48,337.19 L629.32,336.38 L629.18,335.57 L629.04,334.76 L628.91,333.95 L628.78,333.13 L628.67,332.32 L628.56,331.51 L628.46,330.70 L628.37,329.89 L628.28,329.08 L628.21,328.27 L628.15,327.46 L628.10,326.64 L628.05,325.83 L628.02,325.02 L628.01,324.21 L628.00,323.40 Z" fill="none" stroke="#333" stroke-width="1.05" stroke-linejoin="round"/>
<g fill="#1b9e77" fill-opacity="0.30" filter="url(#soft)">
<circle cx="432.9" cy="338.1" r="2.95"/>
<circle cx="439.1" cy="339.5" r="2.95"/>
<circle cx="430.2" cy="340.1" r="2.95"/>
<circle cx="432.5" cy="342.2" r="2.95"/>
<circle cx="434.9" cy="343.0" r="2.95"/>
<circle cx="432.7" cy="344.4" r="2.95"/>
<circle cx="441.7" cy="345.1" r="2.95"/>
<circle cx="443.2" cy="346.3" r="2.95"/>
<circle cx="443.3" cy="347.4" r="2.95"/>
<circle cx="436.5" cy="347.8" r="2.95"/>
<circle cx="433.3" cy="349.0" r="2.95"/>
<circle cx="439.6" cy="350.0" r="2.95"/>
<circle cx="435.4" cy="350.4" r="2.95"/>
<circle cx="442.3" cy="351.0" r="2.95"/>
<circle cx="441.4" cy="351.5" r="2.95"/>
<circle cx="429.5" cy="352.3" r="2.95"/>
<circle cx="437.5" cy="352.9" r="2.95"/>
<circle cx="434.3" cy="353.7" r="2.95"/>
<circle cx="438.3" cy="354.2" r="2.95"/>
<circle cx="431.9" cy="354.8" r="2.95"/>
<circle cx="434.0" cy="355.3" r="2.95"/>
<circle cx="429.7" cy="355.9" r="2.95"/>
<circle cx="434.4" cy="356.4" r="2.95"/>
<circle cx="436.9" cy="356.6" r="2.95"/>
<circle cx="439.1" cy="357.3" r="2.95"/>
<circle cx="442.0" cy="357.7" r="2.95"/>
<circle cx="442.1" cy="358.1" r="2.95"/>
<circle cx="433.1" cy="358.8" r="2.95"/>
<circle cx="443.7" cy="359.1" r="2.95"/>
<circle cx="432.2" cy="359.8" r="2.95"/>
<circle cx="434.1" cy="360.2" r="2.95"/>
<circle cx="438.8" cy="360.5" r="2.95"/>
<circle cx="437.4" cy="361.1" r="2.95"/>
<circle cx="439.4" cy="361.6" r="2.95"/>
<circle cx="441.5" cy="361.9" r="2.95"/>
<circle cx="439.4" cy="362.7" r="2.95"/>
<circle cx="437.7" cy="363.2" r="2.95"/>
<circle cx="442.7" cy="363.2" r="2.95"/>
<circle cx="437.9" cy="363.9" r="2.95"/>
<circle cx="438.4" cy="364.2" r="2.95"/>
<circle cx="440.7" cy="364.9" r="2.95"/>
<circle cx="430.1" cy="365.3" r="2.95"/>
<circle cx="433.8" cy="365.6" r="2.95"/>
<circle cx="432.4" cy="366.1" r="2.95"/>
<circle cx="439.6" cy="366.4" r="2.95"/>
<circle cx="431.2" cy="366.9" r="2.95"/>
<circle cx="441.0" cy="367.5" r="2.95"/>
<circle cx="435.2" cy="367.6" r="2.95"/>
<circle cx="429.9" cy="367.9" r="2.95"/>
<circle cx="443.0" cy="368.8" r="2.95"/>
<circle cx="438.1" cy="368.8" r="2.95"/>
<circle cx="439.3" cy="369.5" r="2.95"/>
<circle cx="442.8" cy="369.9" r="2.95"/>
<circle cx="435.7" cy="370.2" r="2.95"/>
<circle cx="440.8" cy="370.9" r="2.95"/>
<circle cx="441.3" cy="371.0" r="2.95"/>
<circle cx="441.2" cy="371.4" r="2.95"/>
<circle cx="432.0" cy="372.1" r="2.95"/>
<circle cx="430.6" cy="372.2" r="2.95"/>
<circle cx="434.8" cy="372.7" r="2.95"/>
<circle cx="436.3" cy="373.1" r="2.95"/>
<circle cx="443.5" cy="373.7" r="2.95"/>
<circle cx="437.6" cy="374.2" r="2.95"/>
<circle cx="431.3" cy="374.7" r="2.95"/>
<circle cx="431.0" cy="374.9" r="2.95"/>
<circle cx="440.4" cy="375.2" r="2.95"/>
<circle cx="436.2" cy="375.9" r="2.95"/>
<circle cx="443.4" cy="376.4" r="2.95"/>
<circle cx="432.1" cy="376.5" r="2.95"/>
<circle cx="437.5" cy="377.2" r="2.95"/>
<circle cx="442.7" cy="377.6" r="2.95"/>
<circle cx="440.1" cy="378.0" r="2.95"/>
<circle cx="442.5" cy="378.5" r="2.95"/>
<circle cx="430.8" cy="378.7" r="2.95"/>
<circle cx="430.5" cy="379.4" r="2.95"/>
<circle cx="434.8" cy="379.6" r="2.95"/>
<circle cx="433.5" cy="380.3" r="2.95"/>
<circle cx="435.3" cy="380.7" r="2.95"/>
<circle cx="441.4" cy="381.1" r="2.95"/>
<circle cx="436.8" cy="381.3" r="2.95"/>
<circle cx="440.6" cy="382.0" r="2.95"/>
<circle cx="436.7" cy="382.1" r="2.95"/>
<circle cx="431.4" cy="382.7" r="2.95"/>
<circle cx="440.2" cy="383.1" r="2.95"/>
<circle cx="438.7" cy="383.4" r="2.95"/>
<circle cx="433.8" cy="384.2" r="2.95"/>
<circle cx="442.4" cy="384.3" r="2.95"/>
<circle cx="433.4" cy="384.8" r="2.95"/>
<circle cx="439.9" cy="385.1" r="2.95"/>
<circle cx="436.6" cy="385.6" r="2.95"/>
<circle cx="443.0" cy="386.2" r="2.95"/>
<circle cx="441.6" cy="386.6" r="2.95"/>
<circle cx="435.7" cy="386.9" r="2.95"/>
<circle cx="429.6" cy="387.4" r="2.95"/>
<circle cx="433.5" cy="387.7" r="2.95"/>
<circle cx="436.1" cy="388.3" r="2.95"/>
<circle cx="441.9" cy="388.8" r="2.95"/>
<circle cx="434.5" cy="388.9" r="2.95"/>
<circle cx="435.9" cy="389.4" r="2.95"/>
<circle cx="436.4" cy="389.8" r="2.95"/>
<circle cx="431.7" cy="390.2" r="2.95"/>
<circle cx="430.6" cy="391.0" r="2.95"/>
<circle cx="441.8" cy="391.3" r="2.95"/>
<circle cx="437.2" cy="391.7" r="2.95"/>
<circle cx="433.6" cy="392.1" r="2.95"/>
<circle cx="437.3" cy="392.6" r="2.95"/>
<circle cx="430.2" cy="392.9" r="2.95"/>
<circle cx="432.7" cy="393.2" r="2.95"/>
<circle cx="430.0" cy="393.6" r="2.95"/>
<circle cx="438.4" cy="394.1" r="2.95"/>
<circle cx="433.7" cy="394.5" r="2.95"/>
<circle cx="431.6" cy="395.2" r="2.95"/>
<circle cx="440.9" cy="395.4" r="2.95"/>
<circle cx="435.1" cy="395.9" r="2.95"/>
<circle cx="430.4" cy="396.5" r="2.95"/>
<circle cx="434.6" cy="397.0" r="2.95"/>
<circle cx="433.9" cy="397.1" r="2.95"/>
<circle cx="441.1" cy="397.7" r="2.95"/>
<circle cx="433.0" cy="398.0" r="2.95"/>
<circle cx="435.2" cy="398.4" r="2.95"/>
<circle cx="432.6" cy="398.9" r="2.95"/>
<circle cx="435.8" cy="399.5" r="2.95"/>
<circle cx="437.0" cy="399.7" r="2.95"/>
<circle cx="442.2" cy="400.2" r="2.95"/>
<circle cx="434.2" cy="400.6" r="2.95"/>
<circle cx="437.9" cy="400.9" r="2.95"/>
<circle cx="439.7" cy="401.7" r="2.95"/>
<circle cx="443.2" cy="402.1" r="2.95"/>
<circle cx="440.2" cy="402.5" r="2.95"/>
<circle cx="441.8" cy="402.8" r="2.95"/>
<circle cx="429.9" cy="403.2" r="2.95"/>
<circle cx="432.3" cy="403.7" r="2.95"/>
<circle cx="431.2" cy="404.3" r="2.95"/>
<circle cx="438.7" cy="404.5" r="2.95"/>
<circle cx="440.5" cy="404.8" r="2.95"/>
<circle cx="436.5" cy="405.3" r="2.95"/>
<circle cx="443.1" cy="405.8" r="2.95"/>
<circle cx="443.6" cy="406.3" r="2.95"/>
<circle cx="438.9" cy="406.8" r="2.95"/>
<circle cx="431.0" cy="407.1" r="2.95"/>
<circle cx="435.6" cy="407.6" r="2.95"/>
<circle cx="433.0" cy="407.9" r="2.95"/>
<circle cx="438.6" cy="408.3" r="2.95"/>
<circle cx="431.8" cy="408.9" r="2.95"/>
<circle cx="437.1" cy="409.1" r="2.95"/>
<circle cx="441.0" cy="409.5" r="2.95"/>
<circle cx="438.1" cy="410.1" r="2.95"/>
<circle cx="433.2" cy="410.3" r="2.95"/>
<circle cx="437.8" cy="410.8" r="2.95"/>
<circle cx="442.5" cy="411.4" r="2.95"/>
<circle cx="430.9" cy="411.9" r="2.95"/>
<circle cx="434.7" cy="412.5" r="2.95"/>
<circle cx="439.9" cy="412.6" r="2.95"/>
<circle cx="438.2" cy="413.0" r="2.95"/>
<circle cx="436.1" cy="413.8" r="2.95"/>
<circle cx="442.2" cy="414.4" r="2.95"/>
<circle cx="431.3" cy="414.5" r="2.95"/>
<circle cx="435.0" cy="415.1" r="2.95"/>
<circle cx="435.5" cy="415.8" r="2.95"/>
<circle cx="432.8" cy="416.3" r="2.95"/>
<circle cx="440.0" cy="416.9" r="2.95"/>
<circle cx="435.9" cy="417.4" r="2.95"/>
<circle cx="439.2" cy="418.1" r="2.95"/>
<circle cx="430.3" cy="418.3" r="2.95"/>
<circle cx="431.7" cy="419.1" r="2.95"/>
<circle cx="442.9" cy="419.6" r="2.95"/>
<circle cx="438.9" cy="420.1" r="2.95"/>
<circle cx="436.9" cy="420.9" r="2.95"/>
<circle cx="429.7" cy="421.7" r="2.95"/>
<circle cx="431.5" cy="422.2" r="2.95"/>
<circle cx="440.7" cy="423.0" r="2.95"/>
<circle cx="432.1" cy="423.6" r="2.95"/>
<circle cx="434.2" cy="424.8" r="2.95"/>
<circle cx="439.8" cy="425.2" r="2.95"/>
<circle cx="438.5" cy="426.4" r="2.95"/>
<circle cx="440.3" cy="427.5" r="2.95"/>
<circle cx="434.5" cy="428.6" r="2.95"/>
<circle cx="437.1" cy="430.9" r="2.95"/>
<circle cx="430.8" cy="433.2" r="2.95"/>
<circle cx="431.5" cy="336.0" r="2.95" fill-opacity="0.40"/>
<circle cx="443.5" cy="336.9" r="2.95" fill-opacity="0.40"/>
<circle cx="429.1" cy="346.1" r="2.95" fill-opacity="0.40"/>
<circle cx="442.0" cy="345.8" r="2.95" fill-opacity="0.40"/>
<circle cx="430.8" cy="350.1" r="2.95" fill-opacity="0.40"/>
<circle cx="444.9" cy="355.5" r="2.95" fill-opacity="0.40"/>
<circle cx="428.7" cy="356.5" r="2.95" fill-opacity="0.40"/>
<circle cx="436.3" cy="460.7" r="2.95" fill-opacity="0.40"/>
<circle cx="441.0" cy="426.0" r="2.95" fill-opacity="0.40"/>
</g>
<g fill="#d95f02" fill-opacity="0.30" filter="url(#soft)">
<circle cx="527.0" cy="338.3" r="2.95"/>
<circle cx="532.0" cy="339.8" r="2.95"/>
<circle cx="531.5" cy="342.2" r="2.95"/>
<circle cx="526.6" cy="342.5" r="2.95"/>
<circle cx="531.2" cy="344.5" r="2.95"/>
<circle cx="532.7" cy="345.7" r="2.95"/>
<circle cx="525.9" cy="346.1" r="2.95"/>
<circle cx="536.3" cy="347.1" r="2.95"/>
<circle cx="534.7" cy="347.8" r="2.95"/>
<circle cx="534.3" cy="348.8" r="2.95"/>
<circle cx="537.4" cy="349.9" r="2.95"/>
<circle cx="531.7" cy="350.4" r="2.95"/>
<circle cx="538.8" cy="350.7" r="2.95"/>
<circle cx="535.4" cy="352.0" r="2.95"/>
<circle cx="533.3" cy="352.4" r="2.95"/>
<circle cx="525.7" cy="353.2" r="2.95"/>
<circle cx="539.2" cy="353.9" r="2.95"/>
<circle cx="527.6" cy="354.6" r="2.95"/>
<circle cx="538.1" cy="355.1" r="2.95"/>
<circle cx="535.0" cy="355.4" r="2.95"/>
<circle cx="532.6" cy="356.4" r="2.95"/>
<circle cx="533.5" cy="356.9" r="2.95"/>
<circle cx="525.4" cy="357.4" r="2.95"/>
<circle cx="530.8" cy="358.3" r="2.95"/>
<circle cx="528.9" cy="358.4" r="2.95"/>
<circle cx="526.3" cy="359.4" r="2.95"/>
<circle cx="537.3" cy="360.3" r="2.95"/>
<circle cx="528.5" cy="360.7" r="2.95"/>
<circle cx="538.4" cy="361.2" r="2.95"/>
<circle cx="535.8" cy="361.7" r="2.95"/>
<circle cx="527.2" cy="362.4" r="2.95"/>
<circle cx="535.1" cy="363.0" r="2.95"/>
<circle cx="525.3" cy="364.1" r="2.95"/>
<circle cx="533.1" cy="364.5" r="2.95"/>
<circle cx="529.7" cy="365.0" r="2.95"/>
<circle cx="538.4" cy="366.0" r="2.95"/>
<circle cx="531.9" cy="366.4" r="2.95"/>
<circle cx="526.0" cy="366.9" r="2.95"/>
<circle cx="533.7" cy="367.7" r="2.95"/>
<circle cx="538.6" cy="368.0" r="2.95"/>
<circle cx="537.5" cy="368.9" r="2.95"/>
<circle cx="533.4" cy="369.6" r="2.95"/>
<circle cx="531.6" cy="369.9" r="2.95"/>
<circle cx="536.1" cy="370.9" r="2.95"/>
<circle cx="527.5" cy="371.1" r="2.95"/>
<circle cx="532.4" cy="371.9" r="2.95"/>
<circle cx="538.2" cy="372.9" r="2.95"/>
<circle cx="535.3" cy="373.3" r="2.95"/>
<circle cx="534.1" cy="374.1" r="2.95"/>
<circle cx="537.7" cy="374.6" r="2.95"/>
<circle cx="527.9" cy="375.2" r="2.95"/>
<circle cx="526.4" cy="375.9" r="2.95"/>
<circle cx="529.8" cy="376.2" r="2.95"/>
<circle cx="532.3" cy="376.8" r="2.95"/>
<circle cx="536.9" cy="378.1" r="2.95"/>
<circle cx="537.6" cy="378.6" r="2.95"/>
<circle cx="530.9" cy="378.9" r="2.95"/>
<circle cx="538.0" cy="379.8" r="2.95"/>
<circle cx="538.8" cy="380.6" r="2.95"/>
<circle cx="534.9" cy="381.2" r="2.95"/>
<circle cx="527.3" cy="381.7" r="2.95"/>
<circle cx="528.8" cy="382.3" r="2.95"/>
<circle cx="529.1" cy="383.0" r="2.95"/>
<circle cx="535.6" cy="383.3" r="2.95"/>
<circle cx="528.1" cy="384.1" r="2.95"/>
<circle cx="527.1" cy="385.0" r="2.95"/>
<circle cx="534.0" cy="385.3" r="2.95"/>
<circle cx="529.4" cy="385.9" r="2.95"/>
<circle cx="535.5" cy="386.7" r="2.95"/>
<circle cx="530.2" cy="387.5" r="2.95"/>
<circle cx="533.2" cy="388.2" r="2.95"/>
<circle cx="536.0" cy="388.9" r="2.95"/>
<circle cx="527.9" cy="389.5" r="2.95"/>
<circle cx="526.8" cy="389.6" r="2.95"/>
<circle cx="529.9" cy="390.5" r="2.95"/>
<circle cx="525.6" cy="391.2" r="2.95"/>
<circle cx="528.7" cy="391.9" r="2.95"/>
<circle cx="536.7" cy="392.2" r="2.95"/>
<circle cx="526.1" cy="393.0" r="2.95"/>
<circle cx="536.5" cy="393.6" r="2.95"/>
<circle cx="528.2" cy="394.4" r="2.95"/>
<circle cx="537.1" cy="394.9" r="2.95"/>
<circle cx="528.4" cy="395.5" r="2.95"/>
<circle cx="532.2" cy="396.0" r="2.95"/>
<circle cx="530.5" cy="397.0" r="2.95"/>
<circle cx="539.0" cy="397.5" r="2.95"/>
<circle cx="539.3" cy="398.1" r="2.95"/>
<circle cx="534.6" cy="399.4" r="2.95"/>
<circle cx="531.0" cy="399.8" r="2.95"/>
<circle cx="536.9" cy="400.5" r="2.95"/>
<circle cx="530.0" cy="401.2" r="2.95"/>
<circle cx="531.3" cy="402.4" r="2.95"/>
<circle cx="529.3" cy="403.2" r="2.95"/>
<circle cx="533.8" cy="404.4" r="2.95"/>
<circle cx="530.3" cy="405.1" r="2.95"/>
<circle cx="529.5" cy="406.5" r="2.95"/>
<circle cx="534.5" cy="407.3" r="2.95"/>
<circle cx="532.9" cy="408.5" r="2.95"/>
<circle cx="526.7" cy="411.6" r="2.95"/>
<circle cx="530.6" cy="413.4" r="2.95"/>
<circle cx="536.4" cy="415.5" r="2.95"/>
<circle cx="534.5" cy="506.2" r="2.95" fill-opacity="0.40"/>
<circle cx="525.2" cy="441.5" r="2.95" fill-opacity="0.40"/>
<circle cx="539.2" cy="425.7" r="2.95" fill-opacity="0.40"/>
<circle cx="533.8" cy="429.2" r="2.95" fill-opacity="0.40"/>
<circle cx="539.7" cy="418.2" r="2.95" fill-opacity="0.40"/>
<circle cx="539.2" cy="411.7" r="2.95" fill-opacity="0.40"/>
<circle cx="527.5" cy="418.2" r="2.95" fill-opacity="0.40"/>
<circle cx="531.0" cy="334.5" r="2.95" fill-opacity="0.40"/>
</g>
<g fill="#7570b3" fill-opacity="0.30" filter="url(#soft)">
<circle cx="624.0" cy="323.6" r="2.95"/>
<circle cx="625.4" cy="331.1" r="2.95"/>
<circle cx="621.5" cy="334.8" r="2.95"/>
<circle cx="625.7" cy="337.0" r="2.95"/>
<circle cx="624.2" cy="338.4" r="2.95"/>
<circle cx="627.3" cy="340.7" r="2.95"/>
<circle cx="629.7" cy="341.2" r="2.95"/>
<circle cx="632.1" cy="342.4" r="2.95"/>
<circle cx="628.9" cy="343.6" r="2.95"/>
<circle cx="631.6" cy="345.4" r="2.95"/>
<circle cx="632.2" cy="346.5" r="2.95"/>
<circle cx="630.2" cy="347.5" r="2.95"/>
<circle cx="624.3" cy="348.3" r="2.95"/>
<circle cx="622.7" cy="348.7" r="2.95"/>
<circle cx="624.2" cy="350.0" r="2.95"/>
<circle cx="622.1" cy="350.7" r="2.95"/>
<circle cx="622.8" cy="351.7" r="2.95"/>
<circle cx="623.3" cy="352.4" r="2.95"/>
<circle cx="627.9" cy="353.8" r="2.95"/>
<circle cx="625.5" cy="354.2" r="2.95"/>
<circle cx="623.4" cy="355.2" r="2.95"/>
<circle cx="629.5" cy="356.3" r="2.95"/>
<circle cx="628.3" cy="356.5" r="2.95"/>
<circle cx="630.0" cy="357.3" r="2.95"/>
<circle cx="629.9" cy="358.1" r="2.95"/>
<circle cx="625.2" cy="358.7" r="2.95"/>
<circle cx="620.8" cy="359.8" r="2.95"/>
<circle cx="627.0" cy="360.5" r="2.95"/>
<circle cx="628.9" cy="361.2" r="2.95"/>
<circle cx="624.8" cy="362.2" r="2.95"/>
<circle cx="631.8" cy="362.6" r="2.95"/>
<circle cx="626.0" cy="363.3" r="2.95"/>
<circle cx="630.6" cy="364.2" r="2.95"/>
<circle cx="624.5" cy="364.9" r="2.95"/>
<circle cx="630.4" cy="365.3" r="2.95"/>
<circle cx="620.5" cy="366.0" r="2.95"/>
<circle cx="633.6" cy="366.5" r="2.95"/>
<circle cx="632.8" cy="367.3" r="2.95"/>
<circle cx="631.3" cy="368.0" r="2.95"/>
<circle cx="628.8" cy="368.7" r="2.95"/>
<circle cx="633.9" cy="369.1" r="2.95"/>
<circle cx="622.5" cy="370.1" r="2.95"/>
<circle cx="627.9" cy="370.5" r="2.95"/>
<circle cx="621.9" cy="371.2" r="2.95"/>
<circle cx="632.6" cy="371.9" r="2.95"/>
<circle cx="634.4" cy="372.9" r="2.95"/>
<circle cx="620.9" cy="373.1" r="2.95"/>
<circle cx="630.7" cy="374.3" r="2.95"/>
<circle cx="626.1" cy="374.5" r="2.95"/>
<circle cx="628.4" cy="375.4" r="2.95"/>
<circle cx="625.8" cy="375.8" r="2.95"/>
<circle cx="626.4" cy="376.8" r="2.95"/>
<circle cx="621.7" cy="377.6" r="2.95"/>
<circle cx="633.3" cy="378.0" r="2.95"/>
<circle cx="634.0" cy="378.7" r="2.95"/>
<circle cx="631.4" cy="379.7" r="2.95"/>
<circle cx="621.2" cy="380.1" r="2.95"/>
<circle cx="631.7" cy="380.6" r="2.95"/>
<circle cx="629.2" cy="381.2" r="2.95"/>
<circle cx="621.8" cy="382.3" r="2.95"/>
<circle cx="632.7" cy="382.9" r="2.95"/>
<circle cx="630.9" cy="383.3" r="2.95"/>
<circle cx="632.0" cy="384.1" r="2.95"/>
<circle cx="634.1" cy="384.5" r="2.95"/>
<circle cx="626.2" cy="385.6" r="2.95"/>
<circle cx="631.1" cy="386.3" r="2.95"/>
<circle cx="625.1" cy="386.9" r="2.95"/>
<circle cx="627.3" cy="387.6" r="2.95"/>
<circle cx="627.7" cy="387.8" r="2.95"/>
<circle cx="622.4" cy="389.0" r="2.95"/>
<circle cx="620.4" cy="389.5" r="2.95"/>
<circle cx="623.5" cy="390.4" r="2.95"/>
<circle cx="622.3" cy="390.9" r="2.95"/>
<circle cx="623.6" cy="391.7" r="2.95"/>
<circle cx="620.7" cy="392.3" r="2.95"/>
<circle cx="628.1" cy="392.9" r="2.95"/>
<circle cx="625.0" cy="393.5" r="2.95"/>
<circle cx="631.0" cy="394.0" r="2.95"/>
<circle cx="630.3" cy="394.6" r="2.95"/>
<circle cx="623.2" cy="395.7" r="2.95"/>
<circle cx="629.4" cy="396.4" r="2.95"/>
<circle cx="633.4" cy="396.7" r="2.95"/>
<circle cx="624.7" cy="397.3" r="2.95"/>
<circle cx="633.2" cy="398.6" r="2.95"/>
<circle cx="626.8" cy="398.7" r="2.95"/>
<circle cx="627.5" cy="399.9" r="2.95"/>
<circle cx="634.3" cy="400.8" r="2.95"/>
<circle cx="626.5" cy="401.4" r="2.95"/>
<circle cx="633.6" cy="402.6" r="2.95"/>
<circle cx="621.4" cy="403.3" r="2.95"/>
<circle cx="627.1" cy="404.5" r="2.95"/>
<circle cx="632.4" cy="405.2" r="2.95"/>
<circle cx="623.8" cy="406.1" r="2.95"/>
<circle cx="633.0" cy="406.6" r="2.95"/>
<circle cx="621.2" cy="408.7" r="2.95"/>
<circle cx="628.6" cy="409.0" r="2.95"/>
<circle cx="622.9" cy="410.5" r="2.95"/>
<circle cx="626.7" cy="412.8" r="2.95"/>
<circle cx="629.2" cy="415.5" r="2.95"/>
<circle cx="621.5" cy="323.5" r="2.95" fill-opacity="0.40"/>
<circle cx="630.2" cy="534.1" r="2.95" fill-opacity="0.40"/>
<circle cx="625.7" cy="475.5" r="2.95" fill-opacity="0.40"/>
<circle cx="633.5" cy="456.8" r="2.95" fill-opacity="0.40"/>
<circle cx="620.3" cy="447.7" r="2.95" fill-opacity="0.40"/>
<circle cx="630.9" cy="443.8" r="2.95" fill-opacity="0.40"/>
<circle cx="622.3" cy="433.3" r="2.95" fill-opacity="0.40"/>
<circle cx="630.9" cy="430.7" r="2.95" fill-opacity="0.40"/>
<circle cx="633.5" cy="421.4" r="2.95" fill-opacity="0.40"/>
<circle cx="621.0" cy="418.8" r="2.95" fill-opacity="0.40"/>
<circle cx="634.6" cy="413.0" r="2.95" fill-opacity="0.40"/>
</g>
<line x1="436.60" y1="336.50" x2="436.60" y2="376.60" stroke="#595959" stroke-width="1.1"/>
<line x1="436.60" y1="399.20" x2="436.60" y2="425.00" stroke="#595959" stroke-width="1.1"/>
<rect x="422.35" y="376.60" width="28.50" height="22.60" fill="#fff" fill-opacity="0.15" stroke="#595959" stroke-width="1.1"/>
<line x1="422.35" y1="387.80" x2="450.85" y2="387.80" stroke="#3d3d3d" stroke-width="1.8"/>
<line x1="532.30" y1="334.30" x2="532.30" y2="363.30" stroke="#595959" stroke-width="1.1"/>
<line x1="532.30" y1="388.90" x2="532.30" y2="420.00" stroke="#595959" stroke-width="1.1"/>
<rect x="518.05" y="363.30" width="28.50" height="25.60" fill="#fff" fill-opacity="0.15" stroke="#595959" stroke-width="1.1"/>
<line x1="518.05" y1="375.60" x2="546.55" y2="375.60" stroke="#3d3d3d" stroke-width="1.8"/>
<line x1="627.40" y1="330.00" x2="627.40" y2="365.80" stroke="#595959" stroke-width="1.1"/>
<line x1="627.40" y1="394.00" x2="627.40" y2="420.00" stroke="#595959" stroke-width="1.1"/>
<rect x="613.15" y="365.80" width="28.50" height="28.20" fill="#fff" fill-opacity="0.15" stroke="#595959" stroke-width="1.1"/>
<line x1="613.15" y1="378.90" x2="641.65" y2="378.90" stroke="#3d3d3d" stroke-width="1.8"/>
<path d="M436.60,292.00 L436.60,290.00 L627.40,290.00 L627.40,292.00" fill="none" stroke="#333" stroke-width="1"/>
<text x="532.05" y="291.60" font-size="15.4" letter-spacing="-0.3" fill="#595959" text-anchor="middle" font-family="Liberation Serif, serif">*</text>
<path d="M436.60,304.00 L436.60,302.00 L532.30,302.00 L532.30,304.00" fill="none" stroke="#333" stroke-width="1"/>
<text x="487.25" y="303.50" font-size="15.4" letter-spacing="-0.3" fill="#595959" text-anchor="middle" font-family="Liberation Serif, serif">***</text>
</svg></body></html>
